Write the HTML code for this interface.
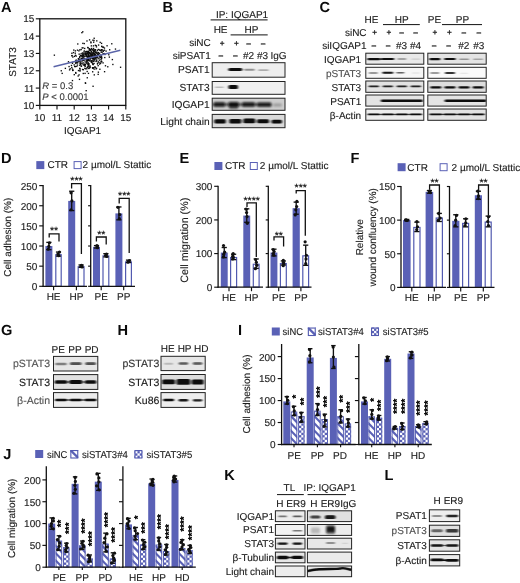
<!DOCTYPE html>
<html lang="en">
<head>
<meta charset="utf-8">
<title>Figure</title>
<style>
html,body{margin:0;padding:0;background:#fff;}
body{width:520px;height:583px;overflow:hidden;}
svg{display:block;font-family:"Liberation Sans",sans-serif;}
svg text{font-family:"Liberation Sans",sans-serif;stroke-width:0.13px;text-rendering:geometricPrecision;}
</style>
</head>
<body>
<svg width="520" height="583" viewBox="0 0 520 583">
<rect x="0" y="0" width="520" height="583" fill="#ffffff"/>
<defs>
<filter id="b1" x="-20%" y="-50%" width="140%" height="200%"><feGaussianBlur stdDeviation="0.9 0.6"/></filter>
<filter id="b2" x="-20%" y="-50%" width="140%" height="200%"><feGaussianBlur stdDeviation="1.3 0.9"/></filter>
</defs>
<text x="1.00" y="11.70" font-size="14.6" font-weight="bold" fill="#0a0a0a" stroke="#0a0a0a" style="stroke-width:0">A</text>
<rect x="85.9" y="54.6" width="1.35" height="1.35" fill="#0c0c0c"/>
<rect x="86.2" y="60.4" width="1.35" height="1.35" fill="#0c0c0c"/>
<rect x="80.1" y="61.4" width="1.35" height="1.35" fill="#0c0c0c"/>
<rect x="97.7" y="51.9" width="1.35" height="1.35" fill="#0c0c0c"/>
<rect x="97.0" y="53.3" width="1.35" height="1.35" fill="#0c0c0c"/>
<rect x="91.5" y="55.3" width="1.35" height="1.35" fill="#0c0c0c"/>
<rect x="73.8" y="55.7" width="1.35" height="1.35" fill="#0c0c0c"/>
<rect x="92.5" y="52.9" width="1.35" height="1.35" fill="#0c0c0c"/>
<rect x="73.6" y="74.0" width="1.35" height="1.35" fill="#0c0c0c"/>
<rect x="80.5" y="63.1" width="1.35" height="1.35" fill="#0c0c0c"/>
<rect x="90.7" y="57.2" width="1.35" height="1.35" fill="#0c0c0c"/>
<rect x="92.6" y="60.8" width="1.35" height="1.35" fill="#0c0c0c"/>
<rect x="90.8" y="54.1" width="1.35" height="1.35" fill="#0c0c0c"/>
<rect x="82.4" y="47.2" width="1.35" height="1.35" fill="#0c0c0c"/>
<rect x="92.9" y="47.8" width="1.35" height="1.35" fill="#0c0c0c"/>
<rect x="82.8" y="64.3" width="1.35" height="1.35" fill="#0c0c0c"/>
<rect x="85.2" y="59.2" width="1.35" height="1.35" fill="#0c0c0c"/>
<rect x="93.6" y="54.3" width="1.35" height="1.35" fill="#0c0c0c"/>
<rect x="84.3" y="65.4" width="1.35" height="1.35" fill="#0c0c0c"/>
<rect x="83.6" y="50.3" width="1.35" height="1.35" fill="#0c0c0c"/>
<rect x="81.2" y="57.9" width="1.35" height="1.35" fill="#0c0c0c"/>
<rect x="91.8" y="67.0" width="1.35" height="1.35" fill="#0c0c0c"/>
<rect x="88.5" y="48.3" width="1.35" height="1.35" fill="#0c0c0c"/>
<rect x="70.8" y="64.8" width="1.35" height="1.35" fill="#0c0c0c"/>
<rect x="87.2" y="63.6" width="1.35" height="1.35" fill="#0c0c0c"/>
<rect x="92.4" y="56.8" width="1.35" height="1.35" fill="#0c0c0c"/>
<rect x="75.5" y="55.4" width="1.35" height="1.35" fill="#0c0c0c"/>
<rect x="93.9" y="49.3" width="1.35" height="1.35" fill="#0c0c0c"/>
<rect x="100.5" y="51.5" width="1.35" height="1.35" fill="#0c0c0c"/>
<rect x="89.1" y="66.4" width="1.35" height="1.35" fill="#0c0c0c"/>
<rect x="93.4" y="60.4" width="1.35" height="1.35" fill="#0c0c0c"/>
<rect x="84.2" y="67.6" width="1.35" height="1.35" fill="#0c0c0c"/>
<rect x="79.8" y="63.7" width="1.35" height="1.35" fill="#0c0c0c"/>
<rect x="99.2" y="68.6" width="1.35" height="1.35" fill="#0c0c0c"/>
<rect x="75.6" y="59.5" width="1.35" height="1.35" fill="#0c0c0c"/>
<rect x="100.5" y="50.0" width="1.35" height="1.35" fill="#0c0c0c"/>
<rect x="71.8" y="79.9" width="1.35" height="1.35" fill="#0c0c0c"/>
<rect x="91.2" y="61.9" width="1.35" height="1.35" fill="#0c0c0c"/>
<rect x="78.5" y="53.5" width="1.35" height="1.35" fill="#0c0c0c"/>
<rect x="97.6" y="53.8" width="1.35" height="1.35" fill="#0c0c0c"/>
<rect x="90.2" y="53.9" width="1.35" height="1.35" fill="#0c0c0c"/>
<rect x="101.8" y="49.3" width="1.35" height="1.35" fill="#0c0c0c"/>
<rect x="92.6" y="52.5" width="1.35" height="1.35" fill="#0c0c0c"/>
<rect x="74.6" y="52.5" width="1.35" height="1.35" fill="#0c0c0c"/>
<rect x="96.3" y="51.5" width="1.35" height="1.35" fill="#0c0c0c"/>
<rect x="71.1" y="66.9" width="1.35" height="1.35" fill="#0c0c0c"/>
<rect x="95.4" y="68.2" width="1.35" height="1.35" fill="#0c0c0c"/>
<rect x="86.5" y="50.9" width="1.35" height="1.35" fill="#0c0c0c"/>
<rect x="76.8" y="49.5" width="1.35" height="1.35" fill="#0c0c0c"/>
<rect x="92.9" y="57.3" width="1.35" height="1.35" fill="#0c0c0c"/>
<rect x="90.9" y="52.2" width="1.35" height="1.35" fill="#0c0c0c"/>
<rect x="89.2" y="49.3" width="1.35" height="1.35" fill="#0c0c0c"/>
<rect x="82.4" y="62.1" width="1.35" height="1.35" fill="#0c0c0c"/>
<rect x="97.1" y="54.8" width="1.35" height="1.35" fill="#0c0c0c"/>
<rect x="80.5" y="53.1" width="1.35" height="1.35" fill="#0c0c0c"/>
<rect x="100.7" y="57.1" width="1.35" height="1.35" fill="#0c0c0c"/>
<rect x="76.3" y="61.9" width="1.35" height="1.35" fill="#0c0c0c"/>
<rect x="86.8" y="60.0" width="1.35" height="1.35" fill="#0c0c0c"/>
<rect x="100.2" y="61.3" width="1.35" height="1.35" fill="#0c0c0c"/>
<rect x="99.0" y="63.4" width="1.35" height="1.35" fill="#0c0c0c"/>
<rect x="81.4" y="55.1" width="1.35" height="1.35" fill="#0c0c0c"/>
<rect x="97.8" y="48.8" width="1.35" height="1.35" fill="#0c0c0c"/>
<rect x="91.1" y="55.7" width="1.35" height="1.35" fill="#0c0c0c"/>
<rect x="89.4" y="53.2" width="1.35" height="1.35" fill="#0c0c0c"/>
<rect x="86.6" y="56.1" width="1.35" height="1.35" fill="#0c0c0c"/>
<rect x="93.0" y="56.2" width="1.35" height="1.35" fill="#0c0c0c"/>
<rect x="94.7" y="51.8" width="1.35" height="1.35" fill="#0c0c0c"/>
<rect x="105.4" y="50.4" width="1.35" height="1.35" fill="#0c0c0c"/>
<rect x="84.4" y="61.2" width="1.35" height="1.35" fill="#0c0c0c"/>
<rect x="88.0" y="51.2" width="1.35" height="1.35" fill="#0c0c0c"/>
<rect x="85.2" y="55.7" width="1.35" height="1.35" fill="#0c0c0c"/>
<rect x="103.9" y="71.0" width="1.35" height="1.35" fill="#0c0c0c"/>
<rect x="78.5" y="58.6" width="1.35" height="1.35" fill="#0c0c0c"/>
<rect x="91.5" y="54.9" width="1.35" height="1.35" fill="#0c0c0c"/>
<rect x="84.4" y="54.1" width="1.35" height="1.35" fill="#0c0c0c"/>
<rect x="90.5" y="60.6" width="1.35" height="1.35" fill="#0c0c0c"/>
<rect x="109.0" y="49.1" width="1.35" height="1.35" fill="#0c0c0c"/>
<rect x="83.4" y="59.6" width="1.35" height="1.35" fill="#0c0c0c"/>
<rect x="86.2" y="58.6" width="1.35" height="1.35" fill="#0c0c0c"/>
<rect x="64.7" y="67.7" width="1.35" height="1.35" fill="#0c0c0c"/>
<rect x="96.8" y="63.3" width="1.35" height="1.35" fill="#0c0c0c"/>
<rect x="87.5" y="51.1" width="1.35" height="1.35" fill="#0c0c0c"/>
<rect x="95.5" y="45.0" width="1.35" height="1.35" fill="#0c0c0c"/>
<rect x="73.5" y="64.2" width="1.35" height="1.35" fill="#0c0c0c"/>
<rect x="85.2" y="54.1" width="1.35" height="1.35" fill="#0c0c0c"/>
<rect x="97.5" y="73.7" width="1.35" height="1.35" fill="#0c0c0c"/>
<rect x="97.5" y="65.0" width="1.35" height="1.35" fill="#0c0c0c"/>
<rect x="94.0" y="66.4" width="1.35" height="1.35" fill="#0c0c0c"/>
<rect x="89.6" y="48.8" width="1.35" height="1.35" fill="#0c0c0c"/>
<rect x="86.8" y="56.6" width="1.35" height="1.35" fill="#0c0c0c"/>
<rect x="95.0" y="54.6" width="1.35" height="1.35" fill="#0c0c0c"/>
<rect x="87.4" y="47.1" width="1.35" height="1.35" fill="#0c0c0c"/>
<rect x="97.1" y="57.1" width="1.35" height="1.35" fill="#0c0c0c"/>
<rect x="111.7" y="58.9" width="1.35" height="1.35" fill="#0c0c0c"/>
<rect x="96.0" y="57.2" width="1.35" height="1.35" fill="#0c0c0c"/>
<rect x="89.3" y="52.3" width="1.35" height="1.35" fill="#0c0c0c"/>
<rect x="90.0" y="52.6" width="1.35" height="1.35" fill="#0c0c0c"/>
<rect x="75.0" y="71.9" width="1.35" height="1.35" fill="#0c0c0c"/>
<rect x="93.4" y="62.8" width="1.35" height="1.35" fill="#0c0c0c"/>
<rect x="79.3" y="70.4" width="1.35" height="1.35" fill="#0c0c0c"/>
<rect x="99.0" y="49.3" width="1.35" height="1.35" fill="#0c0c0c"/>
<rect x="100.8" y="60.5" width="1.35" height="1.35" fill="#0c0c0c"/>
<rect x="88.1" y="65.6" width="1.35" height="1.35" fill="#0c0c0c"/>
<rect x="94.7" y="44.6" width="1.35" height="1.35" fill="#0c0c0c"/>
<rect x="80.5" y="48.9" width="1.35" height="1.35" fill="#0c0c0c"/>
<rect x="96.6" y="56.4" width="1.35" height="1.35" fill="#0c0c0c"/>
<rect x="71.2" y="52.6" width="1.35" height="1.35" fill="#0c0c0c"/>
<rect x="87.3" y="62.0" width="1.35" height="1.35" fill="#0c0c0c"/>
<rect x="91.6" y="53.7" width="1.35" height="1.35" fill="#0c0c0c"/>
<rect x="101.0" y="61.0" width="1.35" height="1.35" fill="#0c0c0c"/>
<rect x="97.9" y="44.4" width="1.35" height="1.35" fill="#0c0c0c"/>
<rect x="100.6" y="55.3" width="1.35" height="1.35" fill="#0c0c0c"/>
<rect x="81.7" y="52.3" width="1.35" height="1.35" fill="#0c0c0c"/>
<rect x="89.1" y="56.4" width="1.35" height="1.35" fill="#0c0c0c"/>
<rect x="100.4" y="55.9" width="1.35" height="1.35" fill="#0c0c0c"/>
<rect x="68.4" y="65.9" width="1.35" height="1.35" fill="#0c0c0c"/>
<rect x="72.2" y="56.4" width="1.35" height="1.35" fill="#0c0c0c"/>
<rect x="90.8" y="61.1" width="1.35" height="1.35" fill="#0c0c0c"/>
<rect x="88.0" y="51.8" width="1.35" height="1.35" fill="#0c0c0c"/>
<rect x="88.8" y="48.1" width="1.35" height="1.35" fill="#0c0c0c"/>
<rect x="87.6" y="50.5" width="1.35" height="1.35" fill="#0c0c0c"/>
<rect x="100.9" y="42.7" width="1.35" height="1.35" fill="#0c0c0c"/>
<rect x="82.3" y="53.1" width="1.35" height="1.35" fill="#0c0c0c"/>
<rect x="72.0" y="69.8" width="1.35" height="1.35" fill="#0c0c0c"/>
<rect x="71.2" y="54.9" width="1.35" height="1.35" fill="#0c0c0c"/>
<rect x="77.5" y="60.7" width="1.35" height="1.35" fill="#0c0c0c"/>
<rect x="86.5" y="58.3" width="1.35" height="1.35" fill="#0c0c0c"/>
<rect x="83.0" y="57.4" width="1.35" height="1.35" fill="#0c0c0c"/>
<rect x="103.5" y="52.9" width="1.35" height="1.35" fill="#0c0c0c"/>
<rect x="92.7" y="49.3" width="1.35" height="1.35" fill="#0c0c0c"/>
<rect x="86.4" y="66.9" width="1.35" height="1.35" fill="#0c0c0c"/>
<rect x="83.3" y="51.4" width="1.35" height="1.35" fill="#0c0c0c"/>
<rect x="74.0" y="65.8" width="1.35" height="1.35" fill="#0c0c0c"/>
<rect x="96.8" y="49.6" width="1.35" height="1.35" fill="#0c0c0c"/>
<rect x="88.2" y="51.9" width="1.35" height="1.35" fill="#0c0c0c"/>
<rect x="89.5" y="65.4" width="1.35" height="1.35" fill="#0c0c0c"/>
<rect x="74.7" y="65.9" width="1.35" height="1.35" fill="#0c0c0c"/>
<rect x="96.1" y="59.3" width="1.35" height="1.35" fill="#0c0c0c"/>
<rect x="80.4" y="65.2" width="1.35" height="1.35" fill="#0c0c0c"/>
<rect x="74.9" y="62.2" width="1.35" height="1.35" fill="#0c0c0c"/>
<rect x="78.0" y="57.9" width="1.35" height="1.35" fill="#0c0c0c"/>
<rect x="67.8" y="61.1" width="1.35" height="1.35" fill="#0c0c0c"/>
<rect x="82.6" y="72.8" width="1.35" height="1.35" fill="#0c0c0c"/>
<rect x="94.4" y="57.7" width="1.35" height="1.35" fill="#0c0c0c"/>
<rect x="68.9" y="69.2" width="1.35" height="1.35" fill="#0c0c0c"/>
<rect x="90.6" y="60.1" width="1.35" height="1.35" fill="#0c0c0c"/>
<rect x="94.8" y="50.4" width="1.35" height="1.35" fill="#0c0c0c"/>
<rect x="93.8" y="53.7" width="1.35" height="1.35" fill="#0c0c0c"/>
<rect x="99.6" y="49.7" width="1.35" height="1.35" fill="#0c0c0c"/>
<rect x="92.0" y="71.1" width="1.35" height="1.35" fill="#0c0c0c"/>
<rect x="95.8" y="46.2" width="1.35" height="1.35" fill="#0c0c0c"/>
<rect x="85.6" y="61.6" width="1.35" height="1.35" fill="#0c0c0c"/>
<rect x="104.8" y="65.1" width="1.35" height="1.35" fill="#0c0c0c"/>
<rect x="92.2" y="39.5" width="1.35" height="1.35" fill="#0c0c0c"/>
<rect x="80.1" y="55.0" width="1.35" height="1.35" fill="#0c0c0c"/>
<rect x="104.3" y="53.8" width="1.35" height="1.35" fill="#0c0c0c"/>
<rect x="92.9" y="49.9" width="1.35" height="1.35" fill="#0c0c0c"/>
<rect x="80.3" y="60.4" width="1.35" height="1.35" fill="#0c0c0c"/>
<rect x="90.6" y="51.1" width="1.35" height="1.35" fill="#0c0c0c"/>
<rect x="87.8" y="59.0" width="1.35" height="1.35" fill="#0c0c0c"/>
<rect x="79.4" y="62.6" width="1.35" height="1.35" fill="#0c0c0c"/>
<rect x="95.8" y="54.7" width="1.35" height="1.35" fill="#0c0c0c"/>
<rect x="80.8" y="65.6" width="1.35" height="1.35" fill="#0c0c0c"/>
<rect x="111.1" y="43.1" width="1.35" height="1.35" fill="#0c0c0c"/>
<rect x="93.6" y="74.2" width="1.35" height="1.35" fill="#0c0c0c"/>
<rect x="93.5" y="52.7" width="1.35" height="1.35" fill="#0c0c0c"/>
<rect x="102.6" y="50.5" width="1.35" height="1.35" fill="#0c0c0c"/>
<rect x="87.5" y="54.1" width="1.35" height="1.35" fill="#0c0c0c"/>
<rect x="71.4" y="55.1" width="1.35" height="1.35" fill="#0c0c0c"/>
<rect x="90.9" y="61.7" width="1.35" height="1.35" fill="#0c0c0c"/>
<rect x="99.5" y="41.7" width="1.35" height="1.35" fill="#0c0c0c"/>
<rect x="76.1" y="65.7" width="1.35" height="1.35" fill="#0c0c0c"/>
<rect x="90.6" y="55.6" width="1.35" height="1.35" fill="#0c0c0c"/>
<rect x="84.7" y="65.4" width="1.35" height="1.35" fill="#0c0c0c"/>
<rect x="106.4" y="45.1" width="1.35" height="1.35" fill="#0c0c0c"/>
<rect x="77.8" y="69.9" width="1.35" height="1.35" fill="#0c0c0c"/>
<rect x="102.8" y="46.5" width="1.35" height="1.35" fill="#0c0c0c"/>
<rect x="103.8" y="47.4" width="1.35" height="1.35" fill="#0c0c0c"/>
<rect x="80.6" y="57.9" width="1.35" height="1.35" fill="#0c0c0c"/>
<rect x="69.5" y="68.1" width="1.35" height="1.35" fill="#0c0c0c"/>
<rect x="87.6" y="54.1" width="1.35" height="1.35" fill="#0c0c0c"/>
<rect x="81.9" y="60.2" width="1.35" height="1.35" fill="#0c0c0c"/>
<rect x="92.1" y="53.8" width="1.35" height="1.35" fill="#0c0c0c"/>
<rect x="93.6" y="54.6" width="1.35" height="1.35" fill="#0c0c0c"/>
<rect x="85.3" y="52.9" width="1.35" height="1.35" fill="#0c0c0c"/>
<rect x="88.5" y="63.3" width="1.35" height="1.35" fill="#0c0c0c"/>
<rect x="82.7" y="59.1" width="1.35" height="1.35" fill="#0c0c0c"/>
<rect x="87.2" y="56.8" width="1.35" height="1.35" fill="#0c0c0c"/>
<rect x="88.1" y="56.4" width="1.35" height="1.35" fill="#0c0c0c"/>
<rect x="87.0" y="66.7" width="1.35" height="1.35" fill="#0c0c0c"/>
<rect x="91.7" y="49.2" width="1.35" height="1.35" fill="#0c0c0c"/>
<rect x="91.9" y="57.8" width="1.35" height="1.35" fill="#0c0c0c"/>
<rect x="92.0" y="63.3" width="1.35" height="1.35" fill="#0c0c0c"/>
<rect x="71.8" y="61.8" width="1.35" height="1.35" fill="#0c0c0c"/>
<rect x="80.1" y="54.7" width="1.35" height="1.35" fill="#0c0c0c"/>
<rect x="78.8" y="78.7" width="1.35" height="1.35" fill="#0c0c0c"/>
<rect x="79.2" y="49.1" width="1.35" height="1.35" fill="#0c0c0c"/>
<rect x="84.8" y="68.1" width="1.35" height="1.35" fill="#0c0c0c"/>
<rect x="81.6" y="55.8" width="1.35" height="1.35" fill="#0c0c0c"/>
<rect x="92.4" y="55.1" width="1.35" height="1.35" fill="#0c0c0c"/>
<rect x="100.9" y="49.0" width="1.35" height="1.35" fill="#0c0c0c"/>
<rect x="87.9" y="53.5" width="1.35" height="1.35" fill="#0c0c0c"/>
<rect x="102.3" y="46.7" width="1.35" height="1.35" fill="#0c0c0c"/>
<rect x="96.9" y="62.7" width="1.35" height="1.35" fill="#0c0c0c"/>
<rect x="86.8" y="52.8" width="1.35" height="1.35" fill="#0c0c0c"/>
<rect x="85.6" y="50.8" width="1.35" height="1.35" fill="#0c0c0c"/>
<rect x="93.2" y="49.8" width="1.35" height="1.35" fill="#0c0c0c"/>
<rect x="86.3" y="40.3" width="1.35" height="1.35" fill="#0c0c0c"/>
<rect x="98.8" y="56.1" width="1.35" height="1.35" fill="#0c0c0c"/>
<rect x="88.9" y="39.2" width="1.35" height="1.35" fill="#0c0c0c"/>
<rect x="85.2" y="52.3" width="1.35" height="1.35" fill="#0c0c0c"/>
<rect x="96.6" y="55.1" width="1.35" height="1.35" fill="#0c0c0c"/>
<rect x="78.1" y="59.1" width="1.35" height="1.35" fill="#0c0c0c"/>
<rect x="91.2" y="48.8" width="1.35" height="1.35" fill="#0c0c0c"/>
<rect x="94.9" y="55.5" width="1.35" height="1.35" fill="#0c0c0c"/>
<rect x="95.5" y="51.7" width="1.35" height="1.35" fill="#0c0c0c"/>
<rect x="89.9" y="56.7" width="1.35" height="1.35" fill="#0c0c0c"/>
<rect x="86.0" y="53.4" width="1.35" height="1.35" fill="#0c0c0c"/>
<rect x="79.1" y="64.6" width="1.35" height="1.35" fill="#0c0c0c"/>
<rect x="88.2" y="67.8" width="1.35" height="1.35" fill="#0c0c0c"/>
<rect x="84.4" y="72.7" width="1.35" height="1.35" fill="#0c0c0c"/>
<rect x="82.2" y="55.3" width="1.35" height="1.35" fill="#0c0c0c"/>
<rect x="93.0" y="56.6" width="1.35" height="1.35" fill="#0c0c0c"/>
<rect x="86.1" y="68.1" width="1.35" height="1.35" fill="#0c0c0c"/>
<rect x="103.8" y="49.5" width="1.35" height="1.35" fill="#0c0c0c"/>
<rect x="97.5" y="61.1" width="1.35" height="1.35" fill="#0c0c0c"/>
<rect x="86.5" y="70.8" width="1.35" height="1.35" fill="#0c0c0c"/>
<rect x="94.8" y="49.1" width="1.35" height="1.35" fill="#0c0c0c"/>
<rect x="71.8" y="62.6" width="1.35" height="1.35" fill="#0c0c0c"/>
<rect x="93.5" y="68.4" width="1.35" height="1.35" fill="#0c0c0c"/>
<rect x="72.4" y="69.5" width="1.35" height="1.35" fill="#0c0c0c"/>
<rect x="82.7" y="69.0" width="1.35" height="1.35" fill="#0c0c0c"/>
<rect x="88.4" y="55.8" width="1.35" height="1.35" fill="#0c0c0c"/>
<rect x="93.6" y="51.1" width="1.35" height="1.35" fill="#0c0c0c"/>
<rect x="101.0" y="45.7" width="1.35" height="1.35" fill="#0c0c0c"/>
<rect x="76.8" y="64.4" width="1.35" height="1.35" fill="#0c0c0c"/>
<rect x="79.0" y="67.7" width="1.35" height="1.35" fill="#0c0c0c"/>
<rect x="87.4" y="57.8" width="1.35" height="1.35" fill="#0c0c0c"/>
<rect x="92.3" y="67.5" width="1.35" height="1.35" fill="#0c0c0c"/>
<rect x="77.5" y="60.8" width="1.35" height="1.35" fill="#0c0c0c"/>
<rect x="86.4" y="60.3" width="1.35" height="1.35" fill="#0c0c0c"/>
<rect x="87.6" y="63.1" width="1.35" height="1.35" fill="#0c0c0c"/>
<rect x="94.2" y="53.4" width="1.35" height="1.35" fill="#0c0c0c"/>
<rect x="87.4" y="62.5" width="1.35" height="1.35" fill="#0c0c0c"/>
<rect x="86.6" y="77.1" width="1.35" height="1.35" fill="#0c0c0c"/>
<rect x="79.7" y="59.7" width="1.35" height="1.35" fill="#0c0c0c"/>
<rect x="75.2" y="59.9" width="1.35" height="1.35" fill="#0c0c0c"/>
<rect x="89.4" y="66.9" width="1.35" height="1.35" fill="#0c0c0c"/>
<rect x="86.0" y="60.4" width="1.35" height="1.35" fill="#0c0c0c"/>
<rect x="92.1" y="52.2" width="1.35" height="1.35" fill="#0c0c0c"/>
<rect x="87.8" y="63.6" width="1.35" height="1.35" fill="#0c0c0c"/>
<rect x="86.9" y="58.4" width="1.35" height="1.35" fill="#0c0c0c"/>
<rect x="94.4" y="53.7" width="1.35" height="1.35" fill="#0c0c0c"/>
<rect x="81.9" y="68.8" width="1.35" height="1.35" fill="#0c0c0c"/>
<rect x="84.9" y="63.7" width="1.35" height="1.35" fill="#0c0c0c"/>
<rect x="78.6" y="61.1" width="1.35" height="1.35" fill="#0c0c0c"/>
<rect x="83.9" y="58.1" width="1.35" height="1.35" fill="#0c0c0c"/>
<rect x="92.6" y="59.2" width="1.35" height="1.35" fill="#0c0c0c"/>
<rect x="108.1" y="54.1" width="1.35" height="1.35" fill="#0c0c0c"/>
<rect x="97.6" y="54.0" width="1.35" height="1.35" fill="#0c0c0c"/>
<rect x="97.7" y="71.5" width="1.35" height="1.35" fill="#0c0c0c"/>
<rect x="81.7" y="57.7" width="1.35" height="1.35" fill="#0c0c0c"/>
<rect x="93.3" y="39.8" width="1.35" height="1.35" fill="#0c0c0c"/>
<rect x="90.9" y="47.8" width="1.35" height="1.35" fill="#0c0c0c"/>
<rect x="94.7" y="49.1" width="1.35" height="1.35" fill="#0c0c0c"/>
<rect x="92.5" y="57.4" width="1.35" height="1.35" fill="#0c0c0c"/>
<rect x="92.5" y="63.9" width="1.35" height="1.35" fill="#0c0c0c"/>
<rect x="98.3" y="61.8" width="1.35" height="1.35" fill="#0c0c0c"/>
<rect x="90.3" y="42.1" width="1.35" height="1.35" fill="#0c0c0c"/>
<rect x="86.2" y="58.0" width="1.35" height="1.35" fill="#0c0c0c"/>
<rect x="98.1" y="54.5" width="1.35" height="1.35" fill="#0c0c0c"/>
<rect x="81.2" y="57.8" width="1.35" height="1.35" fill="#0c0c0c"/>
<rect x="93.1" y="51.2" width="1.35" height="1.35" fill="#0c0c0c"/>
<rect x="81.5" y="47.2" width="1.35" height="1.35" fill="#0c0c0c"/>
<rect x="102.5" y="53.4" width="1.35" height="1.35" fill="#0c0c0c"/>
<rect x="90.4" y="59.9" width="1.35" height="1.35" fill="#0c0c0c"/>
<rect x="100.3" y="59.0" width="1.35" height="1.35" fill="#0c0c0c"/>
<rect x="93.9" y="59.3" width="1.35" height="1.35" fill="#0c0c0c"/>
<rect x="82.2" y="54.3" width="1.35" height="1.35" fill="#0c0c0c"/>
<rect x="99.6" y="54.4" width="1.35" height="1.35" fill="#0c0c0c"/>
<rect x="82.3" y="53.6" width="1.35" height="1.35" fill="#0c0c0c"/>
<rect x="87.7" y="55.5" width="1.35" height="1.35" fill="#0c0c0c"/>
<rect x="101.2" y="45.9" width="1.35" height="1.35" fill="#0c0c0c"/>
<rect x="83.6" y="42.9" width="1.35" height="1.35" fill="#0c0c0c"/>
<rect x="88.1" y="52.1" width="1.35" height="1.35" fill="#0c0c0c"/>
<rect x="82.6" y="59.5" width="1.35" height="1.35" fill="#0c0c0c"/>
<rect x="73.1" y="49.4" width="1.35" height="1.35" fill="#0c0c0c"/>
<rect x="99.9" y="62.7" width="1.35" height="1.35" fill="#0c0c0c"/>
<rect x="75.2" y="72.6" width="1.35" height="1.35" fill="#0c0c0c"/>
<rect x="98.2" y="57.9" width="1.35" height="1.35" fill="#0c0c0c"/>
<rect x="87.6" y="59.9" width="1.35" height="1.35" fill="#0c0c0c"/>
<rect x="87.1" y="65.5" width="1.35" height="1.35" fill="#0c0c0c"/>
<rect x="88.3" y="67.6" width="1.35" height="1.35" fill="#0c0c0c"/>
<rect x="87.5" y="55.6" width="1.35" height="1.35" fill="#0c0c0c"/>
<rect x="92.1" y="58.1" width="1.35" height="1.35" fill="#0c0c0c"/>
<rect x="80.3" y="58.7" width="1.35" height="1.35" fill="#0c0c0c"/>
<rect x="84.0" y="47.8" width="1.35" height="1.35" fill="#0c0c0c"/>
<rect x="94.7" y="56.5" width="1.35" height="1.35" fill="#0c0c0c"/>
<rect x="84.1" y="63.7" width="1.35" height="1.35" fill="#0c0c0c"/>
<rect x="80.1" y="62.4" width="1.35" height="1.35" fill="#0c0c0c"/>
<rect x="90.7" y="53.3" width="1.35" height="1.35" fill="#0c0c0c"/>
<rect x="93.0" y="41.5" width="1.35" height="1.35" fill="#0c0c0c"/>
<rect x="82.1" y="59.2" width="1.35" height="1.35" fill="#0c0c0c"/>
<rect x="112.2" y="63.8" width="1.35" height="1.35" fill="#0c0c0c"/>
<rect x="83.6" y="57.7" width="1.35" height="1.35" fill="#0c0c0c"/>
<rect x="89.4" y="54.4" width="1.35" height="1.35" fill="#0c0c0c"/>
<rect x="86.1" y="55.6" width="1.35" height="1.35" fill="#0c0c0c"/>
<rect x="88.6" y="52.1" width="1.35" height="1.35" fill="#0c0c0c"/>
<rect x="71.8" y="68.4" width="1.35" height="1.35" fill="#0c0c0c"/>
<rect x="88.1" y="64.8" width="1.35" height="1.35" fill="#0c0c0c"/>
<rect x="79.1" y="55.8" width="1.35" height="1.35" fill="#0c0c0c"/>
<rect x="82.5" y="54.7" width="1.35" height="1.35" fill="#0c0c0c"/>
<rect x="94.5" y="53.6" width="1.35" height="1.35" fill="#0c0c0c"/>
<rect x="92.5" y="57.1" width="1.35" height="1.35" fill="#0c0c0c"/>
<rect x="76.0" y="61.3" width="1.35" height="1.35" fill="#0c0c0c"/>
<rect x="92.0" y="60.2" width="1.35" height="1.35" fill="#0c0c0c"/>
<rect x="87.3" y="52.6" width="1.35" height="1.35" fill="#0c0c0c"/>
<rect x="80.6" y="55.3" width="1.35" height="1.35" fill="#0c0c0c"/>
<rect x="104.1" y="56.9" width="1.35" height="1.35" fill="#0c0c0c"/>
<rect x="89.4" y="58.3" width="1.35" height="1.35" fill="#0c0c0c"/>
<rect x="101.4" y="51.6" width="1.35" height="1.35" fill="#0c0c0c"/>
<rect x="95.8" y="60.2" width="1.35" height="1.35" fill="#0c0c0c"/>
<rect x="88.0" y="57.7" width="1.35" height="1.35" fill="#0c0c0c"/>
<rect x="72.8" y="51.9" width="1.35" height="1.35" fill="#0c0c0c"/>
<rect x="95.9" y="67.6" width="1.35" height="1.35" fill="#0c0c0c"/>
<rect x="94.5" y="56.7" width="1.35" height="1.35" fill="#0c0c0c"/>
<rect x="92.0" y="53.9" width="1.35" height="1.35" fill="#0c0c0c"/>
<rect x="75.2" y="62.8" width="1.35" height="1.35" fill="#0c0c0c"/>
<rect x="101.0" y="57.9" width="1.35" height="1.35" fill="#0c0c0c"/>
<rect x="79.3" y="69.6" width="1.35" height="1.35" fill="#0c0c0c"/>
<rect x="77.6" y="58.2" width="1.35" height="1.35" fill="#0c0c0c"/>
<rect x="102.7" y="50.4" width="1.35" height="1.35" fill="#0c0c0c"/>
<rect x="90.2" y="41.3" width="1.35" height="1.35" fill="#0c0c0c"/>
<rect x="83.7" y="63.6" width="1.35" height="1.35" fill="#0c0c0c"/>
<rect x="92.7" y="52.5" width="1.35" height="1.35" fill="#0c0c0c"/>
<rect x="79.4" y="68.3" width="1.35" height="1.35" fill="#0c0c0c"/>
<rect x="90.6" y="55.1" width="1.35" height="1.35" fill="#0c0c0c"/>
<rect x="76.9" y="62.2" width="1.35" height="1.35" fill="#0c0c0c"/>
<rect x="83.5" y="55.7" width="1.35" height="1.35" fill="#0c0c0c"/>
<rect x="87.1" y="58.5" width="1.35" height="1.35" fill="#0c0c0c"/>
<rect x="85.1" y="51.1" width="1.35" height="1.35" fill="#0c0c0c"/>
<rect x="100.1" y="56.7" width="1.35" height="1.35" fill="#0c0c0c"/>
<rect x="95.4" y="60.8" width="1.35" height="1.35" fill="#0c0c0c"/>
<rect x="88.7" y="52.2" width="1.35" height="1.35" fill="#0c0c0c"/>
<rect x="101.1" y="56.5" width="1.35" height="1.35" fill="#0c0c0c"/>
<rect x="87.5" y="56.4" width="1.35" height="1.35" fill="#0c0c0c"/>
<rect x="75.2" y="61.2" width="1.35" height="1.35" fill="#0c0c0c"/>
<rect x="82.3" y="56.7" width="1.35" height="1.35" fill="#0c0c0c"/>
<rect x="78.4" y="74.2" width="1.35" height="1.35" fill="#0c0c0c"/>
<rect x="88.4" y="55.7" width="1.35" height="1.35" fill="#0c0c0c"/>
<rect x="83.4" y="52.7" width="1.35" height="1.35" fill="#0c0c0c"/>
<rect x="85.8" y="62.5" width="1.35" height="1.35" fill="#0c0c0c"/>
<rect x="92.2" y="67.4" width="1.35" height="1.35" fill="#0c0c0c"/>
<rect x="82.3" y="59.4" width="1.35" height="1.35" fill="#0c0c0c"/>
<rect x="95.4" y="56.6" width="1.35" height="1.35" fill="#0c0c0c"/>
<rect x="90.8" y="61.4" width="1.35" height="1.35" fill="#0c0c0c"/>
<rect x="90.7" y="45.2" width="1.35" height="1.35" fill="#0c0c0c"/>
<rect x="82.2" y="42.7" width="1.35" height="1.35" fill="#0c0c0c"/>
<rect x="82.6" y="59.1" width="1.35" height="1.35" fill="#0c0c0c"/>
<rect x="89.6" y="50.0" width="1.35" height="1.35" fill="#0c0c0c"/>
<rect x="77.5" y="75.3" width="1.35" height="1.35" fill="#0c0c0c"/>
<rect x="93.3" y="50.5" width="1.35" height="1.35" fill="#0c0c0c"/>
<rect x="93.5" y="37.6" width="1.35" height="1.35" fill="#0c0c0c"/>
<rect x="89.9" y="55.3" width="1.35" height="1.35" fill="#0c0c0c"/>
<rect x="96.1" y="52.7" width="1.35" height="1.35" fill="#0c0c0c"/>
<rect x="102.4" y="62.2" width="1.35" height="1.35" fill="#0c0c0c"/>
<rect x="84.9" y="82.6" width="1.35" height="1.35" fill="#0c0c0c"/>
<rect x="95.1" y="58.2" width="1.35" height="1.35" fill="#0c0c0c"/>
<rect x="96.1" y="40.2" width="1.35" height="1.35" fill="#0c0c0c"/>
<rect x="88.1" y="59.4" width="1.35" height="1.35" fill="#0c0c0c"/>
<rect x="83.8" y="64.7" width="1.35" height="1.35" fill="#0c0c0c"/>
<rect x="82.7" y="54.7" width="1.35" height="1.35" fill="#0c0c0c"/>
<rect x="88.4" y="57.0" width="1.35" height="1.35" fill="#0c0c0c"/>
<rect x="86.6" y="51.6" width="1.35" height="1.35" fill="#0c0c0c"/>
<rect x="92.4" y="57.4" width="1.35" height="1.35" fill="#0c0c0c"/>
<rect x="93.8" y="57.0" width="1.35" height="1.35" fill="#0c0c0c"/>
<rect x="78.2" y="50.2" width="1.35" height="1.35" fill="#0c0c0c"/>
<rect x="92.1" y="63.1" width="1.35" height="1.35" fill="#0c0c0c"/>
<rect x="97.4" y="52.5" width="1.35" height="1.35" fill="#0c0c0c"/>
<rect x="74.7" y="50.2" width="1.35" height="1.35" fill="#0c0c0c"/>
<rect x="91.0" y="50.5" width="1.35" height="1.35" fill="#0c0c0c"/>
<rect x="89.8" y="58.2" width="1.35" height="1.35" fill="#0c0c0c"/>
<rect x="74.8" y="54.6" width="1.35" height="1.35" fill="#0c0c0c"/>
<rect x="88.4" y="59.5" width="1.35" height="1.35" fill="#0c0c0c"/>
<rect x="91.1" y="56.2" width="1.35" height="1.35" fill="#0c0c0c"/>
<rect x="93.9" y="58.5" width="1.35" height="1.35" fill="#0c0c0c"/>
<rect x="87.8" y="72.7" width="1.35" height="1.35" fill="#0c0c0c"/>
<rect x="84.5" y="53.9" width="1.35" height="1.35" fill="#0c0c0c"/>
<rect x="99.6" y="56.9" width="1.35" height="1.35" fill="#0c0c0c"/>
<rect x="87.1" y="46.8" width="1.35" height="1.35" fill="#0c0c0c"/>
<rect x="85.3" y="53.3" width="1.35" height="1.35" fill="#0c0c0c"/>
<rect x="102.6" y="53.2" width="1.35" height="1.35" fill="#0c0c0c"/>
<rect x="98.7" y="59.5" width="1.35" height="1.35" fill="#0c0c0c"/>
<rect x="89.9" y="57.6" width="1.35" height="1.35" fill="#0c0c0c"/>
<rect x="89.1" y="49.4" width="1.35" height="1.35" fill="#0c0c0c"/>
<rect x="108.7" y="56.4" width="1.35" height="1.35" fill="#0c0c0c"/>
<rect x="83.2" y="55.5" width="1.35" height="1.35" fill="#0c0c0c"/>
<rect x="79.0" y="56.7" width="1.35" height="1.35" fill="#0c0c0c"/>
<rect x="93.0" y="58.1" width="1.35" height="1.35" fill="#0c0c0c"/>
<rect x="92.7" y="67.1" width="1.35" height="1.35" fill="#0c0c0c"/>
<rect x="94.7" y="66.5" width="1.35" height="1.35" fill="#0c0c0c"/>
<rect x="82.1" y="63.2" width="1.35" height="1.35" fill="#0c0c0c"/>
<rect x="84.7" y="52.6" width="1.35" height="1.35" fill="#0c0c0c"/>
<rect x="88.8" y="60.2" width="1.35" height="1.35" fill="#0c0c0c"/>
<rect x="92.8" y="45.2" width="1.35" height="1.35" fill="#0c0c0c"/>
<rect x="88.2" y="55.0" width="1.35" height="1.35" fill="#0c0c0c"/>
<rect x="98.8" y="52.7" width="1.35" height="1.35" fill="#0c0c0c"/>
<rect x="77.1" y="43.3" width="1.35" height="1.35" fill="#0c0c0c"/>
<rect x="107.1" y="66.1" width="1.35" height="1.35" fill="#0c0c0c"/>
<rect x="87.8" y="54.8" width="1.35" height="1.35" fill="#0c0c0c"/>
<rect x="53.7" y="54.5" width="1.35" height="1.35" fill="#0c0c0c"/>
<rect x="119.9" y="66.6" width="1.35" height="1.35" fill="#0c0c0c"/>
<rect x="81.2" y="32.0" width="1.35" height="1.35" fill="#0c0c0c"/>
<rect x="82.1" y="31.1" width="1.35" height="1.35" fill="#0c0c0c"/>
<rect x="92.4" y="85.6" width="1.35" height="1.35" fill="#0c0c0c"/>
<rect x="85.5" y="90.0" width="1.35" height="1.35" fill="#0c0c0c"/>
<rect x="84.7" y="82.2" width="1.35" height="1.35" fill="#0c0c0c"/>
<rect x="114.8" y="48.4" width="1.35" height="1.35" fill="#0c0c0c"/>
<rect x="61.5" y="72.7" width="1.35" height="1.35" fill="#0c0c0c"/>
<rect x="60.6" y="70.1" width="1.35" height="1.35" fill="#0c0c0c"/>
<line x1="53.56" y1="66.78" x2="120.30" y2="50.32" stroke="#5a64a8" stroke-width="1.5" stroke-linecap="butt"/>
<rect x="39.80" y="18.80" width="86.00" height="86.60" fill="none" stroke="#111111" stroke-width="1.3"/>
<line x1="35.80" y1="105.40" x2="39.80" y2="105.40" stroke="#111111" stroke-width="1.15" stroke-linecap="butt"/>
<text x="34.40" y="108.90" font-size="10.0" text-anchor="end" fill="#1c1c1c" stroke="#1c1c1c">10</text>
<line x1="39.80" y1="105.40" x2="39.80" y2="109.40" stroke="#111111" stroke-width="1.15" stroke-linecap="butt"/>
<text x="39.80" y="121.40" font-size="10.0" text-anchor="middle" fill="#1c1c1c" stroke="#1c1c1c">10</text>
<line x1="35.80" y1="88.08" x2="39.80" y2="88.08" stroke="#111111" stroke-width="1.15" stroke-linecap="butt"/>
<text x="34.40" y="91.58" font-size="10.0" text-anchor="end" fill="#1c1c1c" stroke="#1c1c1c">11</text>
<line x1="57.00" y1="105.40" x2="57.00" y2="109.40" stroke="#111111" stroke-width="1.15" stroke-linecap="butt"/>
<text x="57.00" y="121.40" font-size="10.0" text-anchor="middle" fill="#1c1c1c" stroke="#1c1c1c">11</text>
<line x1="35.80" y1="70.76" x2="39.80" y2="70.76" stroke="#111111" stroke-width="1.15" stroke-linecap="butt"/>
<text x="34.40" y="74.26" font-size="10.0" text-anchor="end" fill="#1c1c1c" stroke="#1c1c1c">12</text>
<line x1="74.20" y1="105.40" x2="74.20" y2="109.40" stroke="#111111" stroke-width="1.15" stroke-linecap="butt"/>
<text x="74.20" y="121.40" font-size="10.0" text-anchor="middle" fill="#1c1c1c" stroke="#1c1c1c">12</text>
<line x1="35.80" y1="53.44" x2="39.80" y2="53.44" stroke="#111111" stroke-width="1.15" stroke-linecap="butt"/>
<text x="34.40" y="56.94" font-size="10.0" text-anchor="end" fill="#1c1c1c" stroke="#1c1c1c">13</text>
<line x1="91.40" y1="105.40" x2="91.40" y2="109.40" stroke="#111111" stroke-width="1.15" stroke-linecap="butt"/>
<text x="91.40" y="121.40" font-size="10.0" text-anchor="middle" fill="#1c1c1c" stroke="#1c1c1c">13</text>
<line x1="35.80" y1="36.12" x2="39.80" y2="36.12" stroke="#111111" stroke-width="1.15" stroke-linecap="butt"/>
<text x="34.40" y="39.62" font-size="10.0" text-anchor="end" fill="#1c1c1c" stroke="#1c1c1c">14</text>
<line x1="108.60" y1="105.40" x2="108.60" y2="109.40" stroke="#111111" stroke-width="1.15" stroke-linecap="butt"/>
<text x="108.60" y="121.40" font-size="10.0" text-anchor="middle" fill="#1c1c1c" stroke="#1c1c1c">14</text>
<line x1="35.80" y1="18.80" x2="39.80" y2="18.80" stroke="#111111" stroke-width="1.15" stroke-linecap="butt"/>
<text x="34.40" y="22.30" font-size="10.0" text-anchor="end" fill="#1c1c1c" stroke="#1c1c1c">15</text>
<line x1="125.80" y1="105.40" x2="125.80" y2="109.40" stroke="#111111" stroke-width="1.15" stroke-linecap="butt"/>
<text x="125.80" y="121.40" font-size="10.0" text-anchor="middle" fill="#1c1c1c" stroke="#1c1c1c">15</text>
<text x="82.50" y="134.00" font-size="10.0" text-anchor="middle" fill="#1c1c1c" stroke="#1c1c1c">IQGAP1</text>
<text x="15.60" y="62.00" font-size="10.0" text-anchor="middle" transform="rotate(-90 15.60 62.00)" fill="#1c1c1c" stroke="#1c1c1c">STAT3</text>
<text x="42.30" y="89.20" font-size="9.5" fill="#3a3a3a" stroke="#3a3a3a"><tspan font-style="italic">R</tspan> = 0.3</text>
<text x="42.30" y="100.00" font-size="9.5" fill="#3a3a3a" stroke="#3a3a3a"><tspan font-style="italic">P</tspan> &lt; 0.0001</text>
<text x="162.40" y="12.00" font-size="14.6" font-weight="bold" fill="#0a0a0a" stroke="#0a0a0a" style="stroke-width:0">B</text>
<text x="242.00" y="18.00" font-size="10.0" text-anchor="middle" fill="#1c1c1c" stroke="#1c1c1c">IP: IQGAP1</text>
<line x1="210.60" y1="19.90" x2="267.60" y2="19.90" stroke="#111111" stroke-width="1.0" stroke-linecap="butt"/>
<text x="220.60" y="32.70" font-size="10.0" text-anchor="middle" fill="#1c1c1c" stroke="#1c1c1c">HE</text>
<text x="251.40" y="32.70" font-size="10.0" text-anchor="middle" fill="#1c1c1c" stroke="#1c1c1c">HP</text>
<line x1="230.60" y1="34.90" x2="267.70" y2="34.90" stroke="#111111" stroke-width="1.0" stroke-linecap="butt"/>
<text x="210.80" y="46.00" font-size="10.0" text-anchor="end" fill="#1c1c1c" stroke="#1c1c1c">siNC</text>
<text x="222.20" y="45.65" font-size="8.2" text-anchor="middle" fill="#111" stroke="#111" style="stroke-width:0.3px">+</text>
<text x="236.50" y="45.65" font-size="8.2" text-anchor="middle" fill="#111" stroke="#111" style="stroke-width:0.3px">+</text>
<text x="248.60" y="45.60" font-size="7.6" text-anchor="middle" fill="#111" stroke="#111" style="stroke-width:0.4px">–</text>
<text x="263.00" y="45.60" font-size="7.6" text-anchor="middle" fill="#111" stroke="#111" style="stroke-width:0.4px">–</text>
<text x="210.80" y="59.00" font-size="10.0" text-anchor="end" fill="#1c1c1c" stroke="#1c1c1c">siPSAT1</text>
<text x="220.80" y="58.20" font-size="7.6" text-anchor="middle" fill="#111" stroke="#111" style="stroke-width:0.4px">–</text>
<text x="235.40" y="58.20" font-size="7.6" text-anchor="middle" fill="#111" stroke="#111" style="stroke-width:0.4px">–</text>
<text x="248.60" y="59.00" font-size="10.0" text-anchor="middle" fill="#1c1c1c" stroke="#1c1c1c">#2</text>
<text x="262.60" y="59.00" font-size="10.0" text-anchor="middle" fill="#1c1c1c" stroke="#1c1c1c">#3</text>
<text x="278.50" y="59.00" font-size="10.0" text-anchor="middle" fill="#1c1c1c" stroke="#1c1c1c">IgG</text>
<text x="209.60" y="73.45" font-size="10.2" text-anchor="end" fill="#1c1c1c" stroke="#1c1c1c">PSAT1</text>
<text x="209.60" y="91.40" font-size="10.2" text-anchor="end" fill="#1c1c1c" stroke="#1c1c1c">STAT3</text>
<text x="209.60" y="107.75" font-size="10.2" text-anchor="end" fill="#1c1c1c" stroke="#1c1c1c">IQGAP1</text>
<text x="209.60" y="124.55" font-size="10.2" text-anchor="end" fill="#1c1c1c" stroke="#1c1c1c">Light chain</text>
<clipPath id="c1"><rect x="212.20" y="62.70" width="72.80" height="14.50"/></clipPath>
<rect x="212.20" y="62.70" width="72.80" height="14.50" fill="#eeeeee"/>
<g clip-path="url(#c1)"><g filter="url(#b1)">
<rect x="228.30" y="68.05" width="14.00" height="3.00" rx="1.50" fill="#0a0a0a" opacity="1.0"/>
<rect x="244.25" y="68.85" width="10.50" height="1.80" rx="0.90" fill="#0a0a0a" opacity="0.4"/>
<rect x="258.15" y="69.35" width="10.50" height="1.60" rx="0.80" fill="#0a0a0a" opacity="0.28"/>
</g></g>
<rect x="212.20" y="62.70" width="72.80" height="14.50" fill="none" stroke="#222" stroke-width="1.0"/>
<clipPath id="c2"><rect x="212.20" y="81.50" width="72.80" height="12.80"/></clipPath>
<rect x="212.20" y="81.50" width="72.80" height="12.80" fill="#f0f0f0"/>
<g clip-path="url(#c2)"><g filter="url(#b1)">
<rect x="214.80" y="86.50" width="9.00" height="1.60" rx="0.80" fill="#0a0a0a" opacity="0.22"/>
<rect x="228.45" y="85.10" width="9.50" height="3.80" rx="1.50" fill="#0a0a0a" opacity="1.0"/>
</g></g>
<rect x="212.20" y="81.50" width="72.80" height="12.80" fill="none" stroke="#222" stroke-width="1.0"/>
<clipPath id="c3"><rect x="212.20" y="98.20" width="72.80" height="12.10"/></clipPath>
<rect x="212.20" y="98.20" width="72.80" height="12.10" fill="#cecece"/>
<g clip-path="url(#c3)"><g filter="url(#b2)">
<rect x="213.65" y="102.15" width="11.50" height="4.60" rx="1.50" fill="#0a0a0a" opacity="0.95"/>
<rect x="228.35" y="101.95" width="10.50" height="5.40" rx="1.50" fill="#0a0a0a" opacity="1.0"/>
<rect x="242.00" y="102.15" width="13.00" height="4.60" rx="1.50" fill="#0a0a0a" opacity="0.95"/>
<rect x="257.05" y="102.45" width="14.50" height="4.40" rx="1.50" fill="#0a0a0a" opacity="0.95"/>
<rect x="273.00" y="103.55" width="9.00" height="3.00" rx="1.50" fill="#0a0a0a" opacity="0.25"/>
<rect x="229.10" y="106.15" width="9.00" height="3.00" rx="1.50" fill="#0a0a0a" opacity="0.45"/>
<rect x="212.20" y="103.05" width="58.80" height="3.00" rx="1.50" fill="#0a0a0a" opacity="0.55"/>
</g></g>
<rect x="212.20" y="98.20" width="72.80" height="12.10" fill="none" stroke="#222" stroke-width="1.0"/>
<clipPath id="c4"><rect x="212.20" y="114.40" width="72.80" height="13.30"/></clipPath>
<rect x="212.20" y="114.40" width="72.80" height="13.30" fill="#dadada"/>
<g clip-path="url(#c4)"><g filter="url(#b1)">
<rect x="214.35" y="119.15" width="11.50" height="4.40" rx="1.50" fill="#0a0a0a" opacity="1.0"/>
<rect x="229.30" y="119.05" width="12.00" height="4.40" rx="1.50" fill="#0a0a0a" opacity="1.0"/>
<rect x="243.30" y="118.45" width="12.00" height="4.80" rx="1.50" fill="#0a0a0a" opacity="1.0"/>
<rect x="257.00" y="119.15" width="12.00" height="4.20" rx="1.50" fill="#0a0a0a" opacity="1.0"/>
<rect x="271.55" y="119.85" width="10.50" height="3.60" rx="1.50" fill="#0a0a0a" opacity="1.0"/>
</g></g>
<rect x="212.20" y="114.40" width="72.80" height="13.30" fill="none" stroke="#222" stroke-width="1.0"/>
<text x="319.50" y="11.50" font-size="14.6" font-weight="bold" fill="#0a0a0a" stroke="#0a0a0a" style="stroke-width:0">C</text>
<text x="371.50" y="22.50" font-size="10.0" text-anchor="middle" fill="#1c1c1c" stroke="#1c1c1c">HE</text>
<text x="401.70" y="22.50" font-size="10.0" text-anchor="middle" fill="#1c1c1c" stroke="#1c1c1c">HP</text>
<line x1="383.00" y1="24.60" x2="419.80" y2="24.60" stroke="#111111" stroke-width="1.0" stroke-linecap="butt"/>
<text x="434.50" y="22.50" font-size="10.0" text-anchor="middle" fill="#1c1c1c" stroke="#1c1c1c">PE</text>
<text x="462.50" y="22.50" font-size="10.0" text-anchor="middle" fill="#1c1c1c" stroke="#1c1c1c">PP</text>
<line x1="442.00" y1="24.60" x2="482.00" y2="24.60" stroke="#111111" stroke-width="1.0" stroke-linecap="butt"/>
<text x="366.60" y="35.80" font-size="10.0" text-anchor="end" fill="#1c1c1c" stroke="#1c1c1c">siNC</text>
<text x="366.60" y="48.60" font-size="10.0" text-anchor="end" fill="#1c1c1c" stroke="#1c1c1c">siIQGAP1</text>
<text x="374.60" y="35.35" font-size="8.2" text-anchor="middle" fill="#111" stroke="#111" style="stroke-width:0.3px">+</text>
<text x="389.00" y="35.35" font-size="8.2" text-anchor="middle" fill="#111" stroke="#111" style="stroke-width:0.3px">+</text>
<text x="401.60" y="35.20" font-size="7.6" text-anchor="middle" fill="#111" stroke="#111" style="stroke-width:0.4px">–</text>
<text x="415.60" y="35.20" font-size="7.6" text-anchor="middle" fill="#111" stroke="#111" style="stroke-width:0.4px">–</text>
<text x="373.80" y="47.80" font-size="7.6" text-anchor="middle" fill="#111" stroke="#111" style="stroke-width:0.4px">–</text>
<text x="388.20" y="47.80" font-size="7.6" text-anchor="middle" fill="#111" stroke="#111" style="stroke-width:0.4px">–</text>
<text x="401.60" y="48.60" font-size="10.0" text-anchor="middle" fill="#1c1c1c" stroke="#1c1c1c">#3</text>
<text x="415.60" y="48.60" font-size="10.0" text-anchor="middle" fill="#1c1c1c" stroke="#1c1c1c">#4</text>
<text x="435.00" y="35.35" font-size="8.2" text-anchor="middle" fill="#111" stroke="#111" style="stroke-width:0.3px">+</text>
<text x="449.50" y="35.35" font-size="8.2" text-anchor="middle" fill="#111" stroke="#111" style="stroke-width:0.3px">+</text>
<text x="463.80" y="35.20" font-size="7.6" text-anchor="middle" fill="#111" stroke="#111" style="stroke-width:0.4px">–</text>
<text x="478.80" y="35.20" font-size="7.6" text-anchor="middle" fill="#111" stroke="#111" style="stroke-width:0.4px">–</text>
<text x="434.20" y="47.80" font-size="7.6" text-anchor="middle" fill="#111" stroke="#111" style="stroke-width:0.4px">–</text>
<text x="448.70" y="47.80" font-size="7.6" text-anchor="middle" fill="#111" stroke="#111" style="stroke-width:0.4px">–</text>
<text x="463.80" y="48.60" font-size="10.0" text-anchor="middle" fill="#1c1c1c" stroke="#1c1c1c">#2</text>
<text x="478.80" y="48.60" font-size="10.0" text-anchor="middle" fill="#1c1c1c" stroke="#1c1c1c">#3</text>
<text x="361.20" y="63.10" font-size="10.0" text-anchor="end" fill="#1c1c1c" stroke="#1c1c1c">IQGAP1</text>
<text x="361.20" y="77.20" font-size="10.0" text-anchor="end" fill="#4d4d4d" stroke="#4d4d4d">pSTAT3</text>
<text x="361.20" y="91.05" font-size="10.0" text-anchor="end" fill="#1c1c1c" stroke="#1c1c1c">STAT3</text>
<text x="361.20" y="104.95" font-size="10.0" text-anchor="end" fill="#1c1c1c" stroke="#1c1c1c">PSAT1</text>
<text x="361.20" y="119.05" font-size="10.0" text-anchor="end" fill="#1c1c1c" stroke="#1c1c1c">β-Actin</text>
<clipPath id="c5"><rect x="365.80" y="53.20" width="58.00" height="11.00"/></clipPath>
<rect x="365.80" y="53.20" width="58.00" height="11.00" fill="#e9e9e9"/>
<g clip-path="url(#c5)"><g filter="url(#b1)">
<rect x="367.30" y="58.10" width="13.00" height="2.20" rx="1.10" fill="#0a0a0a" opacity="1.0"/>
<rect x="381.30" y="57.90" width="13.00" height="2.20" rx="1.10" fill="#0a0a0a" opacity="1.0"/>
<rect x="377.80" y="58.60" width="6.00" height="1.20" rx="0.60" fill="#0a0a0a" opacity="0.7"/>
<rect x="397.30" y="58.35" width="9.00" height="1.50" rx="0.75" fill="#0a0a0a" opacity="0.4"/>
<rect x="411.30" y="58.50" width="9.00" height="1.20" rx="0.60" fill="#0a0a0a" opacity="0.12"/>
</g></g>
<rect x="365.80" y="53.20" width="58.00" height="11.00" fill="none" stroke="#222" stroke-width="1.0"/>
<clipPath id="c6"><rect x="427.80" y="53.20" width="58.40" height="11.00"/></clipPath>
<rect x="427.80" y="53.20" width="58.40" height="11.00" fill="#e4e4e4"/>
<g clip-path="url(#c6)"><g filter="url(#b1)">
<rect x="429.35" y="58.10" width="11.00" height="2.20" rx="1.10" fill="#0a0a0a" opacity="1.0"/>
<rect x="444.20" y="57.90" width="11.50" height="2.20" rx="1.10" fill="#0a0a0a" opacity="1.0"/>
<rect x="459.05" y="58.45" width="10.00" height="1.50" rx="0.75" fill="#0a0a0a" opacity="0.35"/>
<rect x="473.15" y="58.45" width="10.00" height="1.50" rx="0.75" fill="#0a0a0a" opacity="0.28"/>
</g></g>
<rect x="427.80" y="53.20" width="58.40" height="11.00" fill="none" stroke="#222" stroke-width="1.0"/>
<clipPath id="c7"><rect x="365.80" y="67.30" width="58.00" height="11.00"/></clipPath>
<rect x="365.80" y="67.30" width="58.00" height="11.00" fill="#f6f6f6"/>
<g clip-path="url(#c7)"><g filter="url(#b1)">
<rect x="368.80" y="72.30" width="9.00" height="1.40" rx="0.70" fill="#0a0a0a" opacity="0.5"/>
<rect x="382.30" y="71.80" width="11.00" height="2.00" rx="1.00" fill="#0a0a0a" opacity="0.95"/>
<rect x="396.30" y="72.00" width="8.00" height="1.60" rx="0.80" fill="#0a0a0a" opacity="0.65"/>
<rect x="411.80" y="72.60" width="8.00" height="1.00" rx="0.50" fill="#0a0a0a" opacity="0.1"/>
</g></g>
<rect x="365.80" y="67.30" width="58.00" height="11.00" fill="none" stroke="#222" stroke-width="1.0"/>
<clipPath id="c8"><rect x="427.80" y="67.30" width="58.40" height="11.00"/></clipPath>
<rect x="427.80" y="67.30" width="58.40" height="11.00" fill="#fafafa"/>
<g clip-path="url(#c8)"><g filter="url(#b1)">
<rect x="430.35" y="72.30" width="9.00" height="1.40" rx="0.70" fill="#0a0a0a" opacity="0.5"/>
<rect x="444.95" y="72.10" width="10.00" height="1.80" rx="0.90" fill="#0a0a0a" opacity="0.85"/>
<rect x="460.05" y="72.70" width="8.00" height="1.00" rx="0.50" fill="#0a0a0a" opacity="0.1"/>
</g></g>
<rect x="427.80" y="67.30" width="58.40" height="11.00" fill="none" stroke="#222" stroke-width="1.0"/>
<clipPath id="c9"><rect x="365.80" y="81.00" width="58.00" height="11.30"/></clipPath>
<rect x="365.80" y="81.00" width="58.00" height="11.30" fill="#e2e2e2"/>
<g clip-path="url(#c9)"><g filter="url(#b1)">
<rect x="368.55" y="85.40" width="10.50" height="1.90" rx="0.95" fill="#0a0a0a" opacity="0.9"/>
<rect x="382.55" y="85.40" width="10.50" height="1.90" rx="0.95" fill="#0a0a0a" opacity="0.9"/>
<rect x="396.55" y="85.40" width="10.50" height="1.90" rx="0.95" fill="#0a0a0a" opacity="0.9"/>
<rect x="410.55" y="85.40" width="10.50" height="1.90" rx="0.95" fill="#0a0a0a" opacity="0.9"/>
</g></g>
<rect x="365.80" y="81.00" width="58.00" height="11.30" fill="none" stroke="#222" stroke-width="1.0"/>
<clipPath id="c10"><rect x="427.80" y="81.00" width="58.40" height="11.30"/></clipPath>
<rect x="427.80" y="81.00" width="58.40" height="11.30" fill="#dedede"/>
<g clip-path="url(#c10)"><g filter="url(#b1)">
<rect x="430.35" y="86.35" width="11.00" height="2.20" rx="1.10" fill="#0a0a0a" opacity="1.0"/>
<rect x="444.45" y="86.35" width="11.00" height="2.20" rx="1.10" fill="#0a0a0a" opacity="1.0"/>
<rect x="458.55" y="86.35" width="11.00" height="2.20" rx="1.10" fill="#0a0a0a" opacity="1.0"/>
<rect x="472.65" y="86.35" width="11.00" height="2.20" rx="1.10" fill="#0a0a0a" opacity="1.0"/>
</g></g>
<rect x="427.80" y="81.00" width="58.40" height="11.30" fill="none" stroke="#222" stroke-width="1.0"/>
<clipPath id="c11"><rect x="365.80" y="95.00" width="58.00" height="11.10"/></clipPath>
<rect x="365.80" y="95.00" width="58.00" height="11.10" fill="#e4e4e4"/>
<g clip-path="url(#c11)"><g filter="url(#b1)">
<rect x="380.80" y="99.55" width="42.00" height="2.40" rx="1.20" fill="#0a0a0a" opacity="1.0"/>
</g></g>
<rect x="365.80" y="95.00" width="58.00" height="11.10" fill="none" stroke="#222" stroke-width="1.0"/>
<clipPath id="c12"><rect x="427.80" y="95.00" width="58.40" height="11.10"/></clipPath>
<rect x="427.80" y="95.00" width="58.40" height="11.10" fill="#e4e4e4"/>
<g clip-path="url(#c12)"><g filter="url(#b1)">
<rect x="444.55" y="99.45" width="42.00" height="2.60" rx="1.30" fill="#0a0a0a" opacity="1.0"/>
</g></g>
<rect x="427.80" y="95.00" width="58.40" height="11.10" fill="none" stroke="#222" stroke-width="1.0"/>
<clipPath id="c13"><rect x="365.80" y="109.00" width="58.00" height="11.30"/></clipPath>
<rect x="365.80" y="109.00" width="58.00" height="11.30" fill="#ececec"/>
<g clip-path="url(#c13)"><g filter="url(#b1)">
<rect x="367.55" y="113.55" width="12.50" height="1.80" rx="0.90" fill="#0a0a0a" opacity="1.0"/>
<rect x="381.55" y="113.55" width="12.50" height="1.80" rx="0.90" fill="#0a0a0a" opacity="1.0"/>
<rect x="395.55" y="113.55" width="12.50" height="1.80" rx="0.90" fill="#0a0a0a" opacity="1.0"/>
<rect x="409.55" y="113.55" width="12.50" height="1.80" rx="0.90" fill="#0a0a0a" opacity="1.0"/>
<rect x="368.80" y="114.00" width="52.00" height="0.90" rx="0.45" fill="#0a0a0a" opacity="0.6"/>
</g></g>
<rect x="365.80" y="109.00" width="58.00" height="11.30" fill="none" stroke="#222" stroke-width="1.0"/>
<clipPath id="c14"><rect x="427.80" y="109.00" width="58.40" height="11.30"/></clipPath>
<rect x="427.80" y="109.00" width="58.40" height="11.30" fill="#e2e2e2"/>
<g clip-path="url(#c14)"><g filter="url(#b1)">
<rect x="429.35" y="113.50" width="13.00" height="1.70" rx="0.85" fill="#0a0a0a" opacity="1.0"/>
<rect x="443.45" y="113.50" width="13.00" height="1.70" rx="0.85" fill="#0a0a0a" opacity="1.0"/>
<rect x="457.55" y="113.50" width="13.00" height="1.70" rx="0.85" fill="#0a0a0a" opacity="1.0"/>
<rect x="471.65" y="113.50" width="13.00" height="1.70" rx="0.85" fill="#0a0a0a" opacity="1.0"/>
<rect x="430.00" y="113.90" width="54.00" height="0.90" rx="0.45" fill="#0a0a0a" opacity="0.8"/>
</g></g>
<rect x="427.80" y="109.00" width="58.40" height="11.30" fill="none" stroke="#222" stroke-width="1.0"/>
<text x="1.00" y="162.70" font-size="14.6" font-weight="bold" fill="#0a0a0a" stroke="#0a0a0a" style="stroke-width:0">D</text>
<rect x="36.30" y="161.10" width="8.00" height="8.00" fill="#5a61b6"/>
<text x="47.50" y="168.40" font-size="10.0" fill="#1c1c1c" stroke="#1c1c1c">CTR</text>
<rect x="74.10" y="161.60" width="7.00" height="7.00" fill="#fff" stroke="#5a61b6" stroke-width="1.0"/>
<text x="82.60" y="168.40" font-size="10.0" fill="#1c1c1c" stroke="#1c1c1c">2 µmol/L Stattic</text>
<rect x="45.40" y="246.02" width="7.00" height="40.28" fill="#5a61b6"/>
<line x1="48.90" y1="242.39" x2="48.90" y2="249.65" stroke="#111111" stroke-width="1.35" stroke-linecap="butt"/>
<line x1="46.30" y1="242.39" x2="51.50" y2="242.39" stroke="#111111" stroke-width="1.35" stroke-linecap="butt"/>
<line x1="46.30" y1="249.65" x2="51.50" y2="249.65" stroke="#111111" stroke-width="1.35" stroke-linecap="butt"/>
<circle cx="48.19" cy="249.24" r="1.6" fill="#111"/>
<circle cx="48.81" cy="246.42" r="1.6" fill="#111"/>
<circle cx="49.44" cy="242.80" r="1.6" fill="#111"/>
<rect x="55.80" y="254.68" width="5.40" height="31.62" fill="#fff" stroke="#525ab0" stroke-width="1.2"/>
<line x1="58.50" y1="252.06" x2="58.50" y2="256.09" stroke="#111111" stroke-width="1.35" stroke-linecap="butt"/>
<line x1="55.90" y1="252.06" x2="61.10" y2="252.06" stroke="#111111" stroke-width="1.35" stroke-linecap="butt"/>
<line x1="55.90" y1="256.09" x2="61.10" y2="256.09" stroke="#111111" stroke-width="1.35" stroke-linecap="butt"/>
<circle cx="58.66" cy="255.69" r="1.6" fill="#111"/>
<circle cx="57.89" cy="254.08" r="1.6" fill="#111"/>
<circle cx="59.43" cy="252.06" r="1.6" fill="#111"/>
<rect x="68.20" y="200.91" width="7.00" height="85.39" fill="#5a61b6"/>
<line x1="71.70" y1="191.24" x2="71.70" y2="210.57" stroke="#111111" stroke-width="1.35" stroke-linecap="butt"/>
<line x1="69.10" y1="191.24" x2="74.30" y2="191.24" stroke="#111111" stroke-width="1.35" stroke-linecap="butt"/>
<line x1="69.10" y1="210.57" x2="74.30" y2="210.57" stroke="#111111" stroke-width="1.35" stroke-linecap="butt"/>
<circle cx="71.00" cy="209.77" r="1.6" fill="#111"/>
<circle cx="71.93" cy="200.91" r="1.6" fill="#111"/>
<circle cx="71.04" cy="192.85" r="1.6" fill="#111"/>
<rect x="78.20" y="266.76" width="5.80" height="19.54" fill="#fff" stroke="#525ab0" stroke-width="1.2"/>
<line x1="81.10" y1="264.95" x2="81.10" y2="267.37" stroke="#111111" stroke-width="1.35" stroke-linecap="butt"/>
<line x1="78.50" y1="264.95" x2="83.70" y2="264.95" stroke="#111111" stroke-width="1.35" stroke-linecap="butt"/>
<line x1="78.50" y1="267.37" x2="83.70" y2="267.37" stroke="#111111" stroke-width="1.35" stroke-linecap="butt"/>
<circle cx="82.06" cy="266.97" r="1.6" fill="#111"/>
<circle cx="81.01" cy="266.16" r="1.6" fill="#111"/>
<circle cx="81.54" cy="265.35" r="1.6" fill="#111"/>
<rect x="93.00" y="246.83" width="7.00" height="39.47" fill="#5a61b6"/>
<line x1="96.50" y1="245.62" x2="96.50" y2="248.03" stroke="#111111" stroke-width="1.35" stroke-linecap="butt"/>
<line x1="93.90" y1="245.62" x2="99.10" y2="245.62" stroke="#111111" stroke-width="1.35" stroke-linecap="butt"/>
<line x1="93.90" y1="248.03" x2="99.10" y2="248.03" stroke="#111111" stroke-width="1.35" stroke-linecap="butt"/>
<circle cx="97.42" cy="247.63" r="1.6" fill="#111"/>
<circle cx="97.24" cy="246.83" r="1.6" fill="#111"/>
<circle cx="96.96" cy="245.62" r="1.6" fill="#111"/>
<rect x="103.00" y="255.88" width="5.80" height="30.42" fill="#fff" stroke="#525ab0" stroke-width="1.2"/>
<line x1="105.90" y1="253.67" x2="105.90" y2="256.90" stroke="#111111" stroke-width="1.35" stroke-linecap="butt"/>
<line x1="103.30" y1="253.67" x2="108.50" y2="253.67" stroke="#111111" stroke-width="1.35" stroke-linecap="butt"/>
<line x1="103.30" y1="256.90" x2="108.50" y2="256.90" stroke="#111111" stroke-width="1.35" stroke-linecap="butt"/>
<circle cx="106.66" cy="256.49" r="1.6" fill="#111"/>
<circle cx="105.60" cy="255.28" r="1.6" fill="#111"/>
<circle cx="106.48" cy="254.08" r="1.6" fill="#111"/>
<rect x="115.40" y="213.39" width="7.00" height="72.91" fill="#5a61b6"/>
<line x1="118.90" y1="206.95" x2="118.90" y2="219.84" stroke="#111111" stroke-width="1.35" stroke-linecap="butt"/>
<line x1="116.30" y1="206.95" x2="121.50" y2="206.95" stroke="#111111" stroke-width="1.35" stroke-linecap="butt"/>
<line x1="116.30" y1="219.84" x2="121.50" y2="219.84" stroke="#111111" stroke-width="1.35" stroke-linecap="butt"/>
<circle cx="119.32" cy="218.63" r="1.6" fill="#111"/>
<circle cx="119.70" cy="214.60" r="1.6" fill="#111"/>
<circle cx="117.93" cy="207.35" r="1.6" fill="#111"/>
<rect x="125.60" y="261.93" width="5.80" height="24.37" fill="#fff" stroke="#525ab0" stroke-width="1.2"/>
<line x1="128.50" y1="260.12" x2="128.50" y2="262.53" stroke="#111111" stroke-width="1.35" stroke-linecap="butt"/>
<line x1="125.90" y1="260.12" x2="131.10" y2="260.12" stroke="#111111" stroke-width="1.35" stroke-linecap="butt"/>
<line x1="125.90" y1="262.53" x2="131.10" y2="262.53" stroke="#111111" stroke-width="1.35" stroke-linecap="butt"/>
<circle cx="127.99" cy="262.13" r="1.6" fill="#111"/>
<circle cx="128.66" cy="261.33" r="1.6" fill="#111"/>
<circle cx="129.44" cy="260.52" r="1.6" fill="#111"/>
<line x1="43.10" y1="185.10" x2="43.10" y2="286.90" stroke="#111111" stroke-width="1.3" stroke-linecap="butt"/>
<line x1="39.20" y1="286.30" x2="43.10" y2="286.30" stroke="#111111" stroke-width="1.15" stroke-linecap="butt"/>
<text x="37.40" y="290.20" font-size="10.0" text-anchor="end" fill="#1c1c1c" stroke="#1c1c1c">0</text>
<line x1="39.20" y1="266.16" x2="43.10" y2="266.16" stroke="#111111" stroke-width="1.15" stroke-linecap="butt"/>
<text x="37.40" y="270.06" font-size="10.0" text-anchor="end" fill="#1c1c1c" stroke="#1c1c1c">50</text>
<line x1="39.20" y1="246.02" x2="43.10" y2="246.02" stroke="#111111" stroke-width="1.15" stroke-linecap="butt"/>
<text x="37.40" y="249.92" font-size="10.0" text-anchor="end" fill="#1c1c1c" stroke="#1c1c1c">100</text>
<line x1="39.20" y1="225.88" x2="43.10" y2="225.88" stroke="#111111" stroke-width="1.15" stroke-linecap="butt"/>
<text x="37.40" y="229.78" font-size="10.0" text-anchor="end" fill="#1c1c1c" stroke="#1c1c1c">150</text>
<line x1="39.20" y1="205.74" x2="43.10" y2="205.74" stroke="#111111" stroke-width="1.15" stroke-linecap="butt"/>
<text x="37.40" y="209.64" font-size="10.0" text-anchor="end" fill="#1c1c1c" stroke="#1c1c1c">200</text>
<line x1="39.20" y1="185.60" x2="43.10" y2="185.60" stroke="#111111" stroke-width="1.15" stroke-linecap="butt"/>
<text x="37.40" y="189.50" font-size="10.0" text-anchor="end" fill="#1c1c1c" stroke="#1c1c1c">250</text>
<line x1="90.70" y1="185.10" x2="90.70" y2="286.90" stroke="#111111" stroke-width="1.3" stroke-linecap="butt"/>
<line x1="88.10" y1="286.30" x2="90.70" y2="286.30" stroke="#111111" stroke-width="1.15" stroke-linecap="butt"/>
<line x1="88.10" y1="266.16" x2="90.70" y2="266.16" stroke="#111111" stroke-width="1.15" stroke-linecap="butt"/>
<line x1="88.10" y1="246.02" x2="90.70" y2="246.02" stroke="#111111" stroke-width="1.15" stroke-linecap="butt"/>
<line x1="88.10" y1="225.88" x2="90.70" y2="225.88" stroke="#111111" stroke-width="1.15" stroke-linecap="butt"/>
<line x1="88.10" y1="205.74" x2="90.70" y2="205.74" stroke="#111111" stroke-width="1.15" stroke-linecap="butt"/>
<line x1="88.10" y1="185.60" x2="90.70" y2="185.60" stroke="#111111" stroke-width="1.15" stroke-linecap="butt"/>
<line x1="42.50" y1="286.30" x2="87.00" y2="286.30" stroke="#111111" stroke-width="1.3" stroke-linecap="butt"/>
<line x1="90.10" y1="286.30" x2="135.00" y2="286.30" stroke="#111111" stroke-width="1.3" stroke-linecap="butt"/>
<line x1="53.60" y1="286.30" x2="53.60" y2="290.30" stroke="#111111" stroke-width="1.15" stroke-linecap="butt"/>
<text x="53.60" y="300.30" font-size="10.0" text-anchor="middle" fill="#1c1c1c" stroke="#1c1c1c">HE</text>
<line x1="76.40" y1="286.30" x2="76.40" y2="290.30" stroke="#111111" stroke-width="1.15" stroke-linecap="butt"/>
<text x="76.40" y="300.30" font-size="10.0" text-anchor="middle" fill="#1c1c1c" stroke="#1c1c1c">HP</text>
<line x1="101.20" y1="286.30" x2="101.20" y2="290.30" stroke="#111111" stroke-width="1.15" stroke-linecap="butt"/>
<text x="101.20" y="300.30" font-size="10.0" text-anchor="middle" fill="#1c1c1c" stroke="#1c1c1c">PE</text>
<line x1="123.70" y1="286.30" x2="123.70" y2="290.30" stroke="#111111" stroke-width="1.15" stroke-linecap="butt"/>
<text x="123.70" y="300.30" font-size="10.0" text-anchor="middle" fill="#1c1c1c" stroke="#1c1c1c">PP</text>
<text x="10.60" y="237.20" font-size="10.0" text-anchor="middle" transform="rotate(-90 10.60 237.20)" fill="#1c1c1c" stroke="#1c1c1c">Cell adhesion (%)</text>
<polyline points="49.20,237.60 49.20,233.80 59.00,233.80 59.00,241.60" fill="none" stroke="#111111" stroke-width="1.3"/>
<text x="54.10" y="234.30" font-size="10.5" text-anchor="middle" fill="#0a0a0a" stroke="#0a0a0a">**</text>
<polyline points="71.60,188.60 71.60,183.60 81.40,183.60 81.40,254.00" fill="none" stroke="#111111" stroke-width="1.3"/>
<text x="76.50" y="184.10" font-size="10.5" text-anchor="middle" fill="#0a0a0a" stroke="#0a0a0a">***</text>
<polyline points="96.40,241.40 96.40,237.00 106.20,237.00 106.20,244.60" fill="none" stroke="#111111" stroke-width="1.3"/>
<text x="101.30" y="237.50" font-size="10.5" text-anchor="middle" fill="#0a0a0a" stroke="#0a0a0a">**</text>
<polyline points="119.20,203.40 119.20,198.40 129.20,198.40 129.20,253.00" fill="none" stroke="#111111" stroke-width="1.3"/>
<text x="124.20" y="198.90" font-size="10.5" text-anchor="middle" fill="#0a0a0a" stroke="#0a0a0a">***</text>
<text x="179.60" y="162.70" font-size="14.6" font-weight="bold" fill="#0a0a0a" stroke="#0a0a0a" style="stroke-width:0">E</text>
<rect x="214.40" y="162.00" width="8.00" height="8.00" fill="#5a61b6"/>
<text x="225.00" y="169.30" font-size="10.0" fill="#1c1c1c" stroke="#1c1c1c">CTR</text>
<rect x="250.30" y="162.50" width="7.00" height="7.00" fill="#fff" stroke="#5a61b6" stroke-width="1.0"/>
<text x="259.80" y="169.30" font-size="10.0" fill="#1c1c1c" stroke="#1c1c1c">2 µmol/L Stattic</text>
<rect x="220.80" y="252.56" width="6.90" height="34.64" fill="#5a61b6"/>
<line x1="224.25" y1="247.51" x2="224.25" y2="257.60" stroke="#111111" stroke-width="1.35" stroke-linecap="butt"/>
<line x1="221.65" y1="247.51" x2="226.85" y2="247.51" stroke="#111111" stroke-width="1.35" stroke-linecap="butt"/>
<line x1="221.65" y1="257.60" x2="226.85" y2="257.60" stroke="#111111" stroke-width="1.35" stroke-linecap="butt"/>
<circle cx="223.34" cy="256.93" r="1.6" fill="#111"/>
<circle cx="223.66" cy="254.24" r="1.6" fill="#111"/>
<circle cx="224.67" cy="252.22" r="1.6" fill="#111"/>
<circle cx="223.54" cy="245.49" r="1.6" fill="#111"/>
<rect x="230.60" y="257.53" width="6.00" height="29.67" fill="#fff" stroke="#525ab0" stroke-width="1.2"/>
<line x1="233.60" y1="254.24" x2="233.60" y2="259.62" stroke="#111111" stroke-width="1.35" stroke-linecap="butt"/>
<line x1="231.00" y1="254.24" x2="236.20" y2="254.24" stroke="#111111" stroke-width="1.35" stroke-linecap="butt"/>
<line x1="231.00" y1="259.62" x2="236.20" y2="259.62" stroke="#111111" stroke-width="1.35" stroke-linecap="butt"/>
<circle cx="232.73" cy="258.95" r="1.6" fill="#111"/>
<circle cx="233.25" cy="257.60" r="1.6" fill="#111"/>
<circle cx="232.61" cy="256.26" r="1.6" fill="#111"/>
<circle cx="233.17" cy="253.57" r="1.6" fill="#111"/>
<rect x="243.30" y="215.56" width="6.90" height="71.64" fill="#5a61b6"/>
<line x1="246.75" y1="208.83" x2="246.75" y2="222.29" stroke="#111111" stroke-width="1.35" stroke-linecap="butt"/>
<line x1="244.15" y1="208.83" x2="249.35" y2="208.83" stroke="#111111" stroke-width="1.35" stroke-linecap="butt"/>
<line x1="244.15" y1="222.29" x2="249.35" y2="222.29" stroke="#111111" stroke-width="1.35" stroke-linecap="butt"/>
<circle cx="247.28" cy="223.30" r="1.6" fill="#111"/>
<circle cx="247.04" cy="216.57" r="1.6" fill="#111"/>
<circle cx="246.57" cy="212.53" r="1.6" fill="#111"/>
<circle cx="246.15" cy="209.17" r="1.6" fill="#111"/>
<rect x="253.30" y="264.26" width="5.80" height="22.94" fill="#fff" stroke="#525ab0" stroke-width="1.2"/>
<line x1="256.20" y1="258.95" x2="256.20" y2="268.37" stroke="#111111" stroke-width="1.35" stroke-linecap="butt"/>
<line x1="253.60" y1="258.95" x2="258.80" y2="258.95" stroke="#111111" stroke-width="1.35" stroke-linecap="butt"/>
<line x1="253.60" y1="268.37" x2="258.80" y2="268.37" stroke="#111111" stroke-width="1.35" stroke-linecap="butt"/>
<circle cx="255.38" cy="268.70" r="1.6" fill="#111"/>
<circle cx="256.88" cy="265.34" r="1.6" fill="#111"/>
<circle cx="256.40" cy="262.31" r="1.6" fill="#111"/>
<circle cx="255.63" cy="259.62" r="1.6" fill="#111"/>
<rect x="270.50" y="252.56" width="6.90" height="34.64" fill="#5a61b6"/>
<line x1="273.95" y1="249.19" x2="273.95" y2="255.92" stroke="#111111" stroke-width="1.35" stroke-linecap="butt"/>
<line x1="271.35" y1="249.19" x2="276.55" y2="249.19" stroke="#111111" stroke-width="1.35" stroke-linecap="butt"/>
<line x1="271.35" y1="255.92" x2="276.55" y2="255.92" stroke="#111111" stroke-width="1.35" stroke-linecap="butt"/>
<circle cx="273.74" cy="255.25" r="1.6" fill="#111"/>
<circle cx="273.12" cy="253.57" r="1.6" fill="#111"/>
<circle cx="274.12" cy="251.55" r="1.6" fill="#111"/>
<circle cx="273.22" cy="249.53" r="1.6" fill="#111"/>
<rect x="280.40" y="263.58" width="5.90" height="23.62" fill="#fff" stroke="#525ab0" stroke-width="1.2"/>
<line x1="283.35" y1="260.97" x2="283.35" y2="265.00" stroke="#111111" stroke-width="1.35" stroke-linecap="butt"/>
<line x1="280.75" y1="260.97" x2="285.95" y2="260.97" stroke="#111111" stroke-width="1.35" stroke-linecap="butt"/>
<line x1="280.75" y1="265.00" x2="285.95" y2="265.00" stroke="#111111" stroke-width="1.35" stroke-linecap="butt"/>
<circle cx="283.22" cy="265.67" r="1.6" fill="#111"/>
<circle cx="283.80" cy="263.66" r="1.6" fill="#111"/>
<circle cx="283.42" cy="262.31" r="1.6" fill="#111"/>
<circle cx="283.34" cy="260.29" r="1.6" fill="#111"/>
<rect x="292.60" y="208.16" width="7.20" height="79.04" fill="#5a61b6"/>
<line x1="296.20" y1="202.11" x2="296.20" y2="214.22" stroke="#111111" stroke-width="1.35" stroke-linecap="butt"/>
<line x1="293.60" y1="202.11" x2="298.80" y2="202.11" stroke="#111111" stroke-width="1.35" stroke-linecap="butt"/>
<line x1="293.60" y1="214.22" x2="298.80" y2="214.22" stroke="#111111" stroke-width="1.35" stroke-linecap="butt"/>
<circle cx="295.22" cy="214.89" r="1.6" fill="#111"/>
<circle cx="295.81" cy="209.84" r="1.6" fill="#111"/>
<circle cx="296.67" cy="206.48" r="1.6" fill="#111"/>
<circle cx="296.88" cy="201.44" r="1.6" fill="#111"/>
<rect x="302.80" y="255.85" width="5.80" height="31.35" fill="#fff" stroke="#525ab0" stroke-width="1.2"/>
<line x1="305.70" y1="245.16" x2="305.70" y2="265.34" stroke="#111111" stroke-width="1.35" stroke-linecap="butt"/>
<line x1="303.10" y1="245.16" x2="308.30" y2="245.16" stroke="#111111" stroke-width="1.35" stroke-linecap="butt"/>
<line x1="303.10" y1="265.34" x2="308.30" y2="265.34" stroke="#111111" stroke-width="1.35" stroke-linecap="butt"/>
<circle cx="305.71" cy="263.66" r="1.6" fill="#111"/>
<circle cx="306.04" cy="258.95" r="1.6" fill="#111"/>
<circle cx="306.41" cy="255.25" r="1.6" fill="#111"/>
<circle cx="305.14" cy="241.80" r="1.6" fill="#111"/>
<line x1="218.10" y1="185.80" x2="218.10" y2="287.80" stroke="#111111" stroke-width="1.3" stroke-linecap="butt"/>
<line x1="214.20" y1="287.20" x2="218.10" y2="287.20" stroke="#111111" stroke-width="1.15" stroke-linecap="butt"/>
<text x="212.40" y="291.10" font-size="10.0" text-anchor="end" fill="#1c1c1c" stroke="#1c1c1c">0</text>
<line x1="214.20" y1="253.57" x2="218.10" y2="253.57" stroke="#111111" stroke-width="1.15" stroke-linecap="butt"/>
<text x="212.40" y="257.47" font-size="10.0" text-anchor="end" fill="#1c1c1c" stroke="#1c1c1c">100</text>
<line x1="214.20" y1="219.93" x2="218.10" y2="219.93" stroke="#111111" stroke-width="1.15" stroke-linecap="butt"/>
<text x="212.40" y="223.83" font-size="10.0" text-anchor="end" fill="#1c1c1c" stroke="#1c1c1c">200</text>
<line x1="214.20" y1="186.30" x2="218.10" y2="186.30" stroke="#111111" stroke-width="1.15" stroke-linecap="butt"/>
<text x="212.40" y="190.20" font-size="10.0" text-anchor="end" fill="#1c1c1c" stroke="#1c1c1c">300</text>
<line x1="268.30" y1="185.80" x2="268.30" y2="287.80" stroke="#111111" stroke-width="1.3" stroke-linecap="butt"/>
<line x1="265.70" y1="287.20" x2="268.30" y2="287.20" stroke="#111111" stroke-width="1.15" stroke-linecap="butt"/>
<line x1="265.70" y1="253.57" x2="268.30" y2="253.57" stroke="#111111" stroke-width="1.15" stroke-linecap="butt"/>
<line x1="265.70" y1="219.93" x2="268.30" y2="219.93" stroke="#111111" stroke-width="1.15" stroke-linecap="butt"/>
<line x1="265.70" y1="186.30" x2="268.30" y2="186.30" stroke="#111111" stroke-width="1.15" stroke-linecap="butt"/>
<line x1="217.50" y1="287.20" x2="263.00" y2="287.20" stroke="#111111" stroke-width="1.3" stroke-linecap="butt"/>
<line x1="267.70" y1="287.20" x2="311.50" y2="287.20" stroke="#111111" stroke-width="1.3" stroke-linecap="butt"/>
<line x1="229.00" y1="287.20" x2="229.00" y2="291.20" stroke="#111111" stroke-width="1.15" stroke-linecap="butt"/>
<text x="229.00" y="301.20" font-size="10.0" text-anchor="middle" fill="#1c1c1c" stroke="#1c1c1c">HE</text>
<line x1="251.50" y1="287.20" x2="251.50" y2="291.20" stroke="#111111" stroke-width="1.15" stroke-linecap="butt"/>
<text x="251.50" y="301.20" font-size="10.0" text-anchor="middle" fill="#1c1c1c" stroke="#1c1c1c">HP</text>
<line x1="278.70" y1="287.20" x2="278.70" y2="291.20" stroke="#111111" stroke-width="1.15" stroke-linecap="butt"/>
<text x="278.70" y="301.20" font-size="10.0" text-anchor="middle" fill="#1c1c1c" stroke="#1c1c1c">PE</text>
<line x1="300.90" y1="287.20" x2="300.90" y2="291.20" stroke="#111111" stroke-width="1.15" stroke-linecap="butt"/>
<text x="300.90" y="301.20" font-size="10.0" text-anchor="middle" fill="#1c1c1c" stroke="#1c1c1c">PP</text>
<text x="188.20" y="240.20" font-size="10.7" text-anchor="middle" transform="rotate(-90 188.20 240.20)" fill="#1c1c1c" stroke="#1c1c1c">Cell migration (%)</text>
<polyline points="247.00,207.00 247.00,202.80 256.30,202.80 256.30,257.00" fill="none" stroke="#111111" stroke-width="1.3"/>
<text x="251.65" y="204.20" font-size="10.5" text-anchor="middle" fill="#0a0a0a" stroke="#0a0a0a">****</text>
<polyline points="274.00,240.40 274.00,236.80 283.60,236.80 283.60,246.40" fill="none" stroke="#111111" stroke-width="1.3"/>
<text x="278.80" y="238.80" font-size="10.5" text-anchor="middle" fill="#0a0a0a" stroke="#0a0a0a">**</text>
<polyline points="296.20,193.60 296.20,190.70 305.30,190.70 305.30,235.80" fill="none" stroke="#111111" stroke-width="1.3"/>
<text x="300.75" y="191.20" font-size="10.5" text-anchor="middle" fill="#0a0a0a" stroke="#0a0a0a">***</text>
<text x="350.50" y="162.70" font-size="14.6" font-weight="bold" fill="#0a0a0a" stroke="#0a0a0a" style="stroke-width:0">F</text>
<rect x="397.60" y="163.20" width="8.00" height="8.00" fill="#5a61b6"/>
<text x="407.30" y="170.50" font-size="10.0" fill="#1c1c1c" stroke="#1c1c1c">CTR</text>
<rect x="440.10" y="163.70" width="7.00" height="7.00" fill="#fff" stroke="#5a61b6" stroke-width="1.0"/>
<text x="451.60" y="170.50" font-size="10.0" fill="#1c1c1c" stroke="#1c1c1c">2 µmol/L Stattic</text>
<rect x="403.00" y="220.13" width="7.60" height="67.27" fill="#5a61b6"/>
<line x1="406.80" y1="219.46" x2="406.80" y2="220.81" stroke="#111111" stroke-width="1.35" stroke-linecap="butt"/>
<line x1="404.20" y1="219.46" x2="409.40" y2="219.46" stroke="#111111" stroke-width="1.35" stroke-linecap="butt"/>
<line x1="404.20" y1="220.81" x2="409.40" y2="220.81" stroke="#111111" stroke-width="1.35" stroke-linecap="butt"/>
<circle cx="407.00" cy="220.47" r="1.6" fill="#111"/>
<circle cx="406.49" cy="220.13" r="1.6" fill="#111"/>
<circle cx="405.80" cy="219.80" r="1.6" fill="#111"/>
<rect x="413.80" y="227.46" width="6.20" height="59.94" fill="#fff" stroke="#525ab0" stroke-width="1.2"/>
<line x1="416.90" y1="222.15" x2="416.90" y2="231.57" stroke="#111111" stroke-width="1.35" stroke-linecap="butt"/>
<line x1="414.30" y1="222.15" x2="419.50" y2="222.15" stroke="#111111" stroke-width="1.35" stroke-linecap="butt"/>
<line x1="414.30" y1="231.57" x2="419.50" y2="231.57" stroke="#111111" stroke-width="1.35" stroke-linecap="butt"/>
<circle cx="416.70" cy="229.55" r="1.6" fill="#111"/>
<circle cx="417.50" cy="226.86" r="1.6" fill="#111"/>
<circle cx="416.89" cy="221.48" r="1.6" fill="#111"/>
<rect x="425.60" y="191.88" width="7.60" height="95.52" fill="#5a61b6"/>
<line x1="429.40" y1="190.54" x2="429.40" y2="193.23" stroke="#111111" stroke-width="1.35" stroke-linecap="butt"/>
<line x1="426.80" y1="190.54" x2="432.00" y2="190.54" stroke="#111111" stroke-width="1.35" stroke-linecap="butt"/>
<line x1="426.80" y1="193.23" x2="432.00" y2="193.23" stroke="#111111" stroke-width="1.35" stroke-linecap="butt"/>
<circle cx="430.33" cy="192.55" r="1.6" fill="#111"/>
<circle cx="429.48" cy="191.88" r="1.6" fill="#111"/>
<circle cx="429.51" cy="191.21" r="1.6" fill="#111"/>
<rect x="436.20" y="218.04" width="6.20" height="69.36" fill="#fff" stroke="#525ab0" stroke-width="1.2"/>
<line x1="439.30" y1="213.41" x2="439.30" y2="221.48" stroke="#111111" stroke-width="1.35" stroke-linecap="butt"/>
<line x1="436.70" y1="213.41" x2="441.90" y2="213.41" stroke="#111111" stroke-width="1.35" stroke-linecap="butt"/>
<line x1="436.70" y1="221.48" x2="441.90" y2="221.48" stroke="#111111" stroke-width="1.35" stroke-linecap="butt"/>
<circle cx="438.36" cy="220.13" r="1.6" fill="#111"/>
<circle cx="440.24" cy="218.12" r="1.6" fill="#111"/>
<circle cx="438.69" cy="213.41" r="1.6" fill="#111"/>
<rect x="452.20" y="220.81" width="7.20" height="66.59" fill="#5a61b6"/>
<line x1="455.80" y1="214.75" x2="455.80" y2="226.86" stroke="#111111" stroke-width="1.35" stroke-linecap="butt"/>
<line x1="453.20" y1="214.75" x2="458.40" y2="214.75" stroke="#111111" stroke-width="1.35" stroke-linecap="butt"/>
<line x1="453.20" y1="226.86" x2="458.40" y2="226.86" stroke="#111111" stroke-width="1.35" stroke-linecap="butt"/>
<circle cx="455.07" cy="225.51" r="1.6" fill="#111"/>
<circle cx="455.65" cy="220.13" r="1.6" fill="#111"/>
<circle cx="456.50" cy="215.42" r="1.6" fill="#111"/>
<rect x="462.60" y="223.42" width="6.00" height="63.98" fill="#fff" stroke="#525ab0" stroke-width="1.2"/>
<line x1="465.60" y1="218.79" x2="465.60" y2="226.86" stroke="#111111" stroke-width="1.35" stroke-linecap="butt"/>
<line x1="463.00" y1="218.79" x2="468.20" y2="218.79" stroke="#111111" stroke-width="1.35" stroke-linecap="butt"/>
<line x1="463.00" y1="226.86" x2="468.20" y2="226.86" stroke="#111111" stroke-width="1.35" stroke-linecap="butt"/>
<circle cx="464.97" cy="225.51" r="1.6" fill="#111"/>
<circle cx="465.73" cy="222.82" r="1.6" fill="#111"/>
<circle cx="465.86" cy="218.79" r="1.6" fill="#111"/>
<rect x="474.80" y="195.24" width="7.20" height="92.16" fill="#5a61b6"/>
<line x1="478.40" y1="191.21" x2="478.40" y2="199.28" stroke="#111111" stroke-width="1.35" stroke-linecap="butt"/>
<line x1="475.80" y1="191.21" x2="481.00" y2="191.21" stroke="#111111" stroke-width="1.35" stroke-linecap="butt"/>
<line x1="475.80" y1="199.28" x2="481.00" y2="199.28" stroke="#111111" stroke-width="1.35" stroke-linecap="butt"/>
<circle cx="478.26" cy="198.61" r="1.6" fill="#111"/>
<circle cx="478.45" cy="195.92" r="1.6" fill="#111"/>
<circle cx="477.78" cy="191.21" r="1.6" fill="#111"/>
<rect x="485.20" y="222.08" width="6.00" height="65.32" fill="#fff" stroke="#525ab0" stroke-width="1.2"/>
<line x1="488.20" y1="216.10" x2="488.20" y2="226.86" stroke="#111111" stroke-width="1.35" stroke-linecap="butt"/>
<line x1="485.60" y1="216.10" x2="490.80" y2="216.10" stroke="#111111" stroke-width="1.35" stroke-linecap="butt"/>
<line x1="485.60" y1="226.86" x2="490.80" y2="226.86" stroke="#111111" stroke-width="1.35" stroke-linecap="butt"/>
<circle cx="488.48" cy="225.51" r="1.6" fill="#111"/>
<circle cx="487.80" cy="221.48" r="1.6" fill="#111"/>
<circle cx="488.58" cy="216.77" r="1.6" fill="#111"/>
<line x1="401.00" y1="186.00" x2="401.00" y2="288.00" stroke="#111111" stroke-width="1.3" stroke-linecap="butt"/>
<line x1="397.10" y1="287.40" x2="401.00" y2="287.40" stroke="#111111" stroke-width="1.15" stroke-linecap="butt"/>
<text x="395.60" y="291.30" font-size="10.0" text-anchor="end" fill="#1c1c1c" stroke="#1c1c1c">0</text>
<line x1="397.10" y1="253.77" x2="401.00" y2="253.77" stroke="#111111" stroke-width="1.15" stroke-linecap="butt"/>
<text x="395.60" y="257.67" font-size="10.0" text-anchor="end" fill="#1c1c1c" stroke="#1c1c1c">50</text>
<line x1="397.10" y1="220.13" x2="401.00" y2="220.13" stroke="#111111" stroke-width="1.15" stroke-linecap="butt"/>
<text x="395.60" y="224.03" font-size="10.0" text-anchor="end" fill="#1c1c1c" stroke="#1c1c1c">100</text>
<line x1="397.10" y1="186.50" x2="401.00" y2="186.50" stroke="#111111" stroke-width="1.15" stroke-linecap="butt"/>
<text x="395.60" y="190.40" font-size="10.0" text-anchor="end" fill="#1c1c1c" stroke="#1c1c1c">150</text>
<line x1="449.50" y1="186.00" x2="449.50" y2="288.00" stroke="#111111" stroke-width="1.3" stroke-linecap="butt"/>
<line x1="446.90" y1="287.40" x2="449.50" y2="287.40" stroke="#111111" stroke-width="1.15" stroke-linecap="butt"/>
<line x1="446.90" y1="253.77" x2="449.50" y2="253.77" stroke="#111111" stroke-width="1.15" stroke-linecap="butt"/>
<line x1="446.90" y1="220.13" x2="449.50" y2="220.13" stroke="#111111" stroke-width="1.15" stroke-linecap="butt"/>
<line x1="446.90" y1="186.50" x2="449.50" y2="186.50" stroke="#111111" stroke-width="1.15" stroke-linecap="butt"/>
<line x1="400.40" y1="287.40" x2="446.00" y2="287.40" stroke="#111111" stroke-width="1.3" stroke-linecap="butt"/>
<line x1="448.90" y1="287.40" x2="494.50" y2="287.40" stroke="#111111" stroke-width="1.3" stroke-linecap="butt"/>
<line x1="411.80" y1="287.40" x2="411.80" y2="291.40" stroke="#111111" stroke-width="1.15" stroke-linecap="butt"/>
<text x="411.80" y="301.40" font-size="10.0" text-anchor="middle" fill="#1c1c1c" stroke="#1c1c1c">HE</text>
<line x1="434.30" y1="287.40" x2="434.30" y2="291.40" stroke="#111111" stroke-width="1.15" stroke-linecap="butt"/>
<text x="434.30" y="301.40" font-size="10.0" text-anchor="middle" fill="#1c1c1c" stroke="#1c1c1c">HP</text>
<line x1="460.70" y1="287.40" x2="460.70" y2="291.40" stroke="#111111" stroke-width="1.15" stroke-linecap="butt"/>
<text x="460.70" y="301.40" font-size="10.0" text-anchor="middle" fill="#1c1c1c" stroke="#1c1c1c">PE</text>
<line x1="483.30" y1="287.40" x2="483.30" y2="291.40" stroke="#111111" stroke-width="1.15" stroke-linecap="butt"/>
<text x="483.30" y="301.40" font-size="10.0" text-anchor="middle" fill="#1c1c1c" stroke="#1c1c1c">PP</text>
<text x="363.40" y="237.30" font-size="10.0" text-anchor="middle" transform="rotate(-90 363.40 237.30)" fill="#1c1c1c" stroke="#1c1c1c">Relative</text>
<text x="375.60" y="237.30" font-size="10.0" text-anchor="middle" transform="rotate(-90 375.60 237.30)" fill="#1c1c1c" stroke="#1c1c1c">wound confluency (%)</text>
<polyline points="429.60,189.80 429.60,185.00 439.40,185.00 439.40,215.40" fill="none" stroke="#111111" stroke-width="1.3"/>
<text x="434.50" y="185.50" font-size="10.5" text-anchor="middle" fill="#0a0a0a" stroke="#0a0a0a">**</text>
<polyline points="478.60,191.00 478.60,185.00 488.40,185.00 488.40,215.40" fill="none" stroke="#111111" stroke-width="1.3"/>
<text x="483.50" y="185.50" font-size="10.5" text-anchor="middle" fill="#0a0a0a" stroke="#0a0a0a">**</text>
<text x="1.00" y="334.70" font-size="14.6" font-weight="bold" fill="#0a0a0a" stroke="#0a0a0a" style="stroke-width:0">G</text>
<text x="58.20" y="353.00" font-size="10.0" text-anchor="middle" fill="#1c1c1c" stroke="#1c1c1c">PE</text>
<text x="75.00" y="353.00" font-size="10.0" text-anchor="middle" fill="#1c1c1c" stroke="#1c1c1c">PP</text>
<text x="91.60" y="353.00" font-size="10.0" text-anchor="middle" fill="#1c1c1c" stroke="#1c1c1c">PD</text>
<text x="50.00" y="367.30" font-size="10.5" text-anchor="end" fill="#555555" stroke="#555555">pSTAT3</text>
<text x="50.00" y="385.60" font-size="10.5" text-anchor="end" fill="#1c1c1c" stroke="#1c1c1c">STAT3</text>
<text x="50.00" y="403.60" font-size="10.5" text-anchor="end" fill="#555555" stroke="#555555">β-Actin</text>
<clipPath id="c15"><rect x="53.50" y="356.40" width="44.30" height="14.60"/></clipPath>
<rect x="53.50" y="356.40" width="44.30" height="14.60" fill="#e6e6e6"/>
<g clip-path="url(#c15)"><g filter="url(#b1)">
<rect x="55.25" y="362.80" width="11.50" height="2.40" rx="1.20" fill="#0a0a0a" opacity="0.45"/>
<rect x="70.05" y="362.30" width="11.50" height="2.80" rx="1.40" fill="#0a0a0a" opacity="0.7"/>
<rect x="85.35" y="362.30" width="10.50" height="2.80" rx="1.40" fill="#0a0a0a" opacity="0.7"/>
</g></g>
<rect x="53.50" y="356.40" width="44.30" height="14.60" fill="none" stroke="#222" stroke-width="1.0"/>
<clipPath id="c16"><rect x="53.50" y="374.60" width="44.30" height="14.80"/></clipPath>
<rect x="53.50" y="374.60" width="44.30" height="14.80" fill="#e2e2e2"/>
<g clip-path="url(#c16)"><g filter="url(#b1)">
<rect x="54.75" y="380.30" width="12.50" height="3.40" rx="1.50" fill="#0a0a0a" opacity="1.0"/>
<rect x="69.30" y="380.10" width="13.00" height="3.80" rx="1.50" fill="#0a0a0a" opacity="1.0"/>
<rect x="84.85" y="380.30" width="11.50" height="3.40" rx="1.50" fill="#0a0a0a" opacity="1.0"/>
<rect x="57.50" y="381.40" width="36.00" height="1.20" rx="0.60" fill="#0a0a0a" opacity="0.7"/>
</g></g>
<rect x="53.50" y="374.60" width="44.30" height="14.80" fill="none" stroke="#222" stroke-width="1.0"/>
<clipPath id="c17"><rect x="53.50" y="392.60" width="44.30" height="14.80"/></clipPath>
<rect x="53.50" y="392.60" width="44.30" height="14.80" fill="#ececec"/>
<g clip-path="url(#c17)"><g filter="url(#b1)">
<rect x="55.00" y="398.70" width="12.00" height="2.60" rx="1.30" fill="#0a0a0a" opacity="1.0"/>
<rect x="69.80" y="398.70" width="12.00" height="2.60" rx="1.30" fill="#0a0a0a" opacity="1.0"/>
<rect x="84.60" y="398.70" width="12.00" height="2.60" rx="1.30" fill="#0a0a0a" opacity="1.0"/>
<rect x="55.50" y="399.50" width="40.00" height="1.00" rx="0.50" fill="#0a0a0a" opacity="0.9"/>
</g></g>
<rect x="53.50" y="392.60" width="44.30" height="14.80" fill="none" stroke="#222" stroke-width="1.0"/>
<text x="117.60" y="334.70" font-size="14.6" font-weight="bold" fill="#0a0a0a" stroke="#0a0a0a" style="stroke-width:0">H</text>
<text x="167.80" y="352.40" font-size="10.0" text-anchor="middle" fill="#1c1c1c" stroke="#1c1c1c">HE</text>
<text x="184.60" y="352.40" font-size="10.0" text-anchor="middle" fill="#1c1c1c" stroke="#1c1c1c">HP</text>
<text x="201.20" y="352.40" font-size="10.0" text-anchor="middle" fill="#1c1c1c" stroke="#1c1c1c">HD</text>
<text x="159.40" y="367.05" font-size="10.5" text-anchor="end" fill="#333333" stroke="#333333">pSTAT3</text>
<text x="159.40" y="385.55" font-size="10.5" text-anchor="end" fill="#1c1c1c" stroke="#1c1c1c">STAT3</text>
<text x="159.40" y="403.60" font-size="10.5" text-anchor="end" fill="#1c1c1c" stroke="#1c1c1c">Ku86</text>
<clipPath id="c18"><rect x="161.00" y="356.30" width="44.20" height="14.30"/></clipPath>
<rect x="161.00" y="356.30" width="44.20" height="14.30" fill="#e6e6e6"/>
<g clip-path="url(#c18)"><g filter="url(#b1)">
<rect x="164.10" y="362.85" width="9.00" height="1.80" rx="0.90" fill="#0a0a0a" opacity="0.2"/>
<rect x="178.65" y="362.15" width="9.50" height="2.60" rx="1.30" fill="#0a0a0a" opacity="0.6"/>
<rect x="192.85" y="362.15" width="9.50" height="2.60" rx="1.30" fill="#0a0a0a" opacity="0.65"/>
</g></g>
<rect x="161.00" y="356.30" width="44.20" height="14.30" fill="none" stroke="#222" stroke-width="1.0"/>
<clipPath id="c19"><rect x="161.00" y="374.50" width="44.20" height="14.90"/></clipPath>
<rect x="161.00" y="374.50" width="44.20" height="14.90" fill="#dedede"/>
<g clip-path="url(#c19)"><g filter="url(#b1)">
<rect x="162.10" y="379.55" width="13.00" height="4.80" rx="1.50" fill="#0a0a0a" opacity="1.0"/>
<rect x="176.65" y="379.05" width="13.50" height="5.80" rx="1.50" fill="#0a0a0a" opacity="1.0"/>
<rect x="191.60" y="379.45" width="12.00" height="5.00" rx="1.50" fill="#0a0a0a" opacity="1.0"/>
</g></g>
<rect x="161.00" y="374.50" width="44.20" height="14.90" fill="none" stroke="#222" stroke-width="1.0"/>
<clipPath id="c20"><rect x="161.00" y="392.60" width="44.20" height="14.80"/></clipPath>
<rect x="161.00" y="392.60" width="44.20" height="14.80" fill="#eeeeee"/>
<g clip-path="url(#c20)"><g filter="url(#b1)">
<rect x="163.10" y="398.80" width="11.00" height="2.40" rx="1.20" fill="#0a0a0a" opacity="1.0"/>
<rect x="178.65" y="399.10" width="9.50" height="2.40" rx="1.20" fill="#0a0a0a" opacity="0.95"/>
<rect x="192.85" y="399.20" width="9.50" height="2.20" rx="1.10" fill="#0a0a0a" opacity="0.9"/>
</g></g>
<rect x="161.00" y="392.60" width="44.20" height="14.80" fill="none" stroke="#222" stroke-width="1.0"/>
<text x="238.00" y="334.90" font-size="14.6" font-weight="bold" fill="#0a0a0a" stroke="#0a0a0a" style="stroke-width:0">I</text>
<rect x="271.80" y="327.50" width="8.00" height="8.00" fill="#5a61b6"/>
<text x="282.60" y="335.00" font-size="10.0" textLength="20.40" lengthAdjust="spacingAndGlyphs" fill="#1c1c1c" stroke="#1c1c1c">siNC</text>
<clipPath id="c21"><rect x="307.80" y="327.50" width="8.00" height="8.00"/></clipPath>
<rect x="307.80" y="327.50" width="8.00" height="8.00" fill="#fff"/>
<g clip-path="url(#c21)" stroke="#5a61b6" stroke-width="2.3">
<line x1="305.80" y1="325.50" x2="317.80" y2="337.50"/>
<line x1="305.80" y1="316.50" x2="317.80" y2="328.50"/>
<line x1="305.80" y1="307.50" x2="317.80" y2="319.50"/>
</g>
<rect x="308.35" y="328.05" width="6.90" height="7.45" fill="none" stroke="#525ab0" stroke-width="1.1"/>
<text x="318.00" y="335.00" font-size="10.0" textLength="45.80" lengthAdjust="spacingAndGlyphs" fill="#1c1c1c" stroke="#1c1c1c">siSTAT3#4</text>
<clipPath id="c22"><rect x="371.00" y="327.50" width="8.00" height="8.00"/></clipPath>
<rect x="371.00" y="327.50" width="8.00" height="8.00" fill="#fff"/>
<g clip-path="url(#c22)" fill="#5a61b6">
<rect x="369.45" y="333.20" width="2.3" height="2.3"/>
<rect x="374.05" y="333.20" width="2.3" height="2.3"/>
<rect x="378.65" y="333.20" width="2.3" height="2.3"/>
<rect x="371.75" y="330.90" width="2.3" height="2.3"/>
<rect x="376.35" y="330.90" width="2.3" height="2.3"/>
<rect x="380.95" y="330.90" width="2.3" height="2.3"/>
<rect x="369.45" y="328.60" width="2.3" height="2.3"/>
<rect x="374.05" y="328.60" width="2.3" height="2.3"/>
<rect x="378.65" y="328.60" width="2.3" height="2.3"/>
<rect x="371.75" y="326.30" width="2.3" height="2.3"/>
<rect x="376.35" y="326.30" width="2.3" height="2.3"/>
<rect x="380.95" y="326.30" width="2.3" height="2.3"/>
</g>
<rect x="371.55" y="328.05" width="6.90" height="7.45" fill="none" stroke="#525ab0" stroke-width="1.1"/>
<text x="382.80" y="335.00" font-size="10.0" textLength="45.80" lengthAdjust="spacingAndGlyphs" fill="#1c1c1c" stroke="#1c1c1c">siSTAT3#5</text>
<rect x="283.30" y="401.43" width="7.00" height="43.07" fill="#5a61b6"/>
<line x1="286.80" y1="396.59" x2="286.80" y2="404.07" stroke="#111111" stroke-width="1.35" stroke-linecap="butt"/>
<line x1="284.55" y1="396.59" x2="289.05" y2="396.59" stroke="#111111" stroke-width="1.35" stroke-linecap="butt"/>
<line x1="284.55" y1="404.07" x2="289.05" y2="404.07" stroke="#111111" stroke-width="1.35" stroke-linecap="butt"/>
<circle cx="287.45" cy="403.58" r="1.6" fill="#111"/>
<circle cx="287.79" cy="400.33" r="1.6" fill="#111"/>
<circle cx="286.97" cy="397.08" r="1.6" fill="#111"/>
<clipPath id="c23"><rect x="290.75" y="411.54" width="6.50" height="32.96"/></clipPath>
<rect x="290.75" y="411.54" width="6.50" height="32.96" fill="#fff"/>
<g clip-path="url(#c23)" stroke="#5a61b6" stroke-width="2.15">
<line x1="288.75" y1="435.70" x2="299.25" y2="446.57"/>
<line x1="288.75" y1="428.40" x2="299.25" y2="439.27"/>
<line x1="288.75" y1="421.10" x2="299.25" y2="431.97"/>
<line x1="288.75" y1="413.80" x2="299.25" y2="424.67"/>
<line x1="288.75" y1="406.50" x2="299.25" y2="417.37"/>
<line x1="288.75" y1="399.20" x2="299.25" y2="410.07"/>
<line x1="288.75" y1="391.90" x2="299.25" y2="402.77"/>
</g>
<rect x="291.20" y="411.99" width="5.60" height="32.51" fill="none" stroke="#525ab0" stroke-width="0.9"/>
<line x1="294.00" y1="406.26" x2="294.00" y2="415.49" stroke="#111111" stroke-width="1.35" stroke-linecap="butt"/>
<line x1="291.75" y1="406.26" x2="296.25" y2="406.26" stroke="#111111" stroke-width="1.35" stroke-linecap="butt"/>
<line x1="291.75" y1="415.49" x2="296.25" y2="415.49" stroke="#111111" stroke-width="1.35" stroke-linecap="butt"/>
<circle cx="294.31" cy="414.89" r="1.6" fill="#111"/>
<circle cx="294.28" cy="410.88" r="1.6" fill="#111"/>
<circle cx="293.43" cy="406.87" r="1.6" fill="#111"/>
<text x="299.30" y="398.60" font-size="9.7" transform="rotate(-90 299.30 398.60)" fill="#000" stroke="#000" style="stroke-width:0.5px">*</text>
<clipPath id="c24"><rect x="298.20" y="415.93" width="6.30" height="28.57"/></clipPath>
<rect x="298.20" y="415.93" width="6.30" height="28.57" fill="#fff"/>
<g clip-path="url(#c24)" fill="#5a61b6">
<rect x="296.60" y="442.15" width="2.35" height="2.35"/>
<rect x="301.30" y="442.15" width="2.35" height="2.35"/>
<rect x="306.00" y="442.15" width="2.35" height="2.35"/>
<rect x="298.95" y="439.80" width="2.35" height="2.35"/>
<rect x="303.65" y="439.80" width="2.35" height="2.35"/>
<rect x="296.60" y="437.45" width="2.35" height="2.35"/>
<rect x="301.30" y="437.45" width="2.35" height="2.35"/>
<rect x="306.00" y="437.45" width="2.35" height="2.35"/>
<rect x="298.95" y="435.10" width="2.35" height="2.35"/>
<rect x="303.65" y="435.10" width="2.35" height="2.35"/>
<rect x="296.60" y="432.75" width="2.35" height="2.35"/>
<rect x="301.30" y="432.75" width="2.35" height="2.35"/>
<rect x="306.00" y="432.75" width="2.35" height="2.35"/>
<rect x="298.95" y="430.40" width="2.35" height="2.35"/>
<rect x="303.65" y="430.40" width="2.35" height="2.35"/>
<rect x="296.60" y="428.05" width="2.35" height="2.35"/>
<rect x="301.30" y="428.05" width="2.35" height="2.35"/>
<rect x="306.00" y="428.05" width="2.35" height="2.35"/>
<rect x="298.95" y="425.70" width="2.35" height="2.35"/>
<rect x="303.65" y="425.70" width="2.35" height="2.35"/>
<rect x="296.60" y="423.35" width="2.35" height="2.35"/>
<rect x="301.30" y="423.35" width="2.35" height="2.35"/>
<rect x="306.00" y="423.35" width="2.35" height="2.35"/>
<rect x="298.95" y="421.00" width="2.35" height="2.35"/>
<rect x="303.65" y="421.00" width="2.35" height="2.35"/>
<rect x="296.60" y="418.65" width="2.35" height="2.35"/>
<rect x="301.30" y="418.65" width="2.35" height="2.35"/>
<rect x="306.00" y="418.65" width="2.35" height="2.35"/>
<rect x="298.95" y="416.30" width="2.35" height="2.35"/>
<rect x="303.65" y="416.30" width="2.35" height="2.35"/>
<rect x="296.60" y="413.95" width="2.35" height="2.35"/>
<rect x="301.30" y="413.95" width="2.35" height="2.35"/>
<rect x="306.00" y="413.95" width="2.35" height="2.35"/>
</g>
<rect x="298.65" y="416.38" width="5.40" height="28.12" fill="none" stroke="#525ab0" stroke-width="0.9"/>
<line x1="301.45" y1="412.42" x2="301.45" y2="422.09" stroke="#111111" stroke-width="1.35" stroke-linecap="butt"/>
<line x1="299.20" y1="412.42" x2="303.70" y2="412.42" stroke="#111111" stroke-width="1.35" stroke-linecap="butt"/>
<line x1="299.20" y1="422.09" x2="303.70" y2="422.09" stroke="#111111" stroke-width="1.35" stroke-linecap="butt"/>
<circle cx="301.46" cy="421.45" r="1.6" fill="#111"/>
<circle cx="300.72" cy="417.25" r="1.6" fill="#111"/>
<circle cx="301.12" cy="413.05" r="1.6" fill="#111"/>
<text x="306.75" y="405.20" font-size="9.7" transform="rotate(-90 306.75 405.20)" fill="#000" stroke="#000" style="stroke-width:0.5px">**</text>
<rect x="306.70" y="357.48" width="7.00" height="87.02" fill="#5a61b6"/>
<line x1="310.20" y1="348.69" x2="310.20" y2="362.75" stroke="#111111" stroke-width="1.35" stroke-linecap="butt"/>
<line x1="307.95" y1="348.69" x2="312.45" y2="348.69" stroke="#111111" stroke-width="1.35" stroke-linecap="butt"/>
<line x1="307.95" y1="362.75" x2="312.45" y2="362.75" stroke="#111111" stroke-width="1.35" stroke-linecap="butt"/>
<circle cx="309.48" cy="361.84" r="1.6" fill="#111"/>
<circle cx="309.88" cy="355.72" r="1.6" fill="#111"/>
<circle cx="309.52" cy="349.61" r="1.6" fill="#111"/>
<clipPath id="c25"><rect x="314.15" y="410.66" width="6.50" height="33.84"/></clipPath>
<rect x="314.15" y="410.66" width="6.50" height="33.84" fill="#fff"/>
<g clip-path="url(#c25)" stroke="#5a61b6" stroke-width="2.15">
<line x1="312.15" y1="435.70" x2="322.65" y2="446.57"/>
<line x1="312.15" y1="428.40" x2="322.65" y2="439.27"/>
<line x1="312.15" y1="421.10" x2="322.65" y2="431.97"/>
<line x1="312.15" y1="413.80" x2="322.65" y2="424.67"/>
<line x1="312.15" y1="406.50" x2="322.65" y2="417.37"/>
<line x1="312.15" y1="399.20" x2="322.65" y2="410.07"/>
<line x1="312.15" y1="391.90" x2="322.65" y2="402.77"/>
</g>
<rect x="314.60" y="411.11" width="5.60" height="33.39" fill="none" stroke="#525ab0" stroke-width="0.9"/>
<line x1="317.40" y1="403.63" x2="317.40" y2="415.49" stroke="#111111" stroke-width="1.35" stroke-linecap="butt"/>
<line x1="315.15" y1="403.63" x2="319.65" y2="403.63" stroke="#111111" stroke-width="1.35" stroke-linecap="butt"/>
<line x1="315.15" y1="415.49" x2="319.65" y2="415.49" stroke="#111111" stroke-width="1.35" stroke-linecap="butt"/>
<circle cx="317.32" cy="414.72" r="1.6" fill="#111"/>
<circle cx="317.56" cy="409.56" r="1.6" fill="#111"/>
<circle cx="318.07" cy="404.40" r="1.6" fill="#111"/>
<text x="322.70" y="397.80" font-size="9.7" transform="rotate(-90 322.70 397.80)" fill="#000" stroke="#000" style="stroke-width:0.5px">***</text>
<clipPath id="c26"><rect x="321.60" y="419.01" width="6.30" height="25.49"/></clipPath>
<rect x="321.60" y="419.01" width="6.30" height="25.49" fill="#fff"/>
<g clip-path="url(#c26)" fill="#5a61b6">
<rect x="320.00" y="442.15" width="2.35" height="2.35"/>
<rect x="324.70" y="442.15" width="2.35" height="2.35"/>
<rect x="329.40" y="442.15" width="2.35" height="2.35"/>
<rect x="322.35" y="439.80" width="2.35" height="2.35"/>
<rect x="327.05" y="439.80" width="2.35" height="2.35"/>
<rect x="320.00" y="437.45" width="2.35" height="2.35"/>
<rect x="324.70" y="437.45" width="2.35" height="2.35"/>
<rect x="329.40" y="437.45" width="2.35" height="2.35"/>
<rect x="322.35" y="435.10" width="2.35" height="2.35"/>
<rect x="327.05" y="435.10" width="2.35" height="2.35"/>
<rect x="320.00" y="432.75" width="2.35" height="2.35"/>
<rect x="324.70" y="432.75" width="2.35" height="2.35"/>
<rect x="329.40" y="432.75" width="2.35" height="2.35"/>
<rect x="322.35" y="430.40" width="2.35" height="2.35"/>
<rect x="327.05" y="430.40" width="2.35" height="2.35"/>
<rect x="320.00" y="428.05" width="2.35" height="2.35"/>
<rect x="324.70" y="428.05" width="2.35" height="2.35"/>
<rect x="329.40" y="428.05" width="2.35" height="2.35"/>
<rect x="322.35" y="425.70" width="2.35" height="2.35"/>
<rect x="327.05" y="425.70" width="2.35" height="2.35"/>
<rect x="320.00" y="423.35" width="2.35" height="2.35"/>
<rect x="324.70" y="423.35" width="2.35" height="2.35"/>
<rect x="329.40" y="423.35" width="2.35" height="2.35"/>
<rect x="322.35" y="421.00" width="2.35" height="2.35"/>
<rect x="327.05" y="421.00" width="2.35" height="2.35"/>
<rect x="320.00" y="418.65" width="2.35" height="2.35"/>
<rect x="324.70" y="418.65" width="2.35" height="2.35"/>
<rect x="329.40" y="418.65" width="2.35" height="2.35"/>
</g>
<rect x="322.05" y="419.46" width="5.40" height="25.04" fill="none" stroke="#525ab0" stroke-width="0.9"/>
<line x1="324.85" y1="414.17" x2="324.85" y2="426.92" stroke="#111111" stroke-width="1.35" stroke-linecap="butt"/>
<line x1="322.60" y1="414.17" x2="327.10" y2="414.17" stroke="#111111" stroke-width="1.35" stroke-linecap="butt"/>
<line x1="322.60" y1="426.92" x2="327.10" y2="426.92" stroke="#111111" stroke-width="1.35" stroke-linecap="butt"/>
<circle cx="324.08" cy="426.09" r="1.6" fill="#111"/>
<circle cx="325.61" cy="420.55" r="1.6" fill="#111"/>
<circle cx="324.37" cy="415.01" r="1.6" fill="#111"/>
<text x="330.15" y="407.20" font-size="9.7" transform="rotate(-90 330.15 407.20)" fill="#000" stroke="#000" style="stroke-width:0.5px">***</text>
<rect x="329.90" y="357.92" width="7.00" height="86.58" fill="#5a61b6"/>
<line x1="333.40" y1="345.61" x2="333.40" y2="368.47" stroke="#111111" stroke-width="1.35" stroke-linecap="butt"/>
<line x1="331.15" y1="345.61" x2="335.65" y2="345.61" stroke="#111111" stroke-width="1.35" stroke-linecap="butt"/>
<line x1="331.15" y1="368.47" x2="335.65" y2="368.47" stroke="#111111" stroke-width="1.35" stroke-linecap="butt"/>
<circle cx="333.97" cy="366.98" r="1.6" fill="#111"/>
<circle cx="333.38" cy="357.04" r="1.6" fill="#111"/>
<circle cx="333.14" cy="347.10" r="1.6" fill="#111"/>
<clipPath id="c27"><rect x="337.35" y="416.37" width="6.50" height="28.13"/></clipPath>
<rect x="337.35" y="416.37" width="6.50" height="28.13" fill="#fff"/>
<g clip-path="url(#c27)" stroke="#5a61b6" stroke-width="2.15">
<line x1="335.35" y1="435.70" x2="345.85" y2="446.57"/>
<line x1="335.35" y1="428.40" x2="345.85" y2="439.27"/>
<line x1="335.35" y1="421.10" x2="345.85" y2="431.97"/>
<line x1="335.35" y1="413.80" x2="345.85" y2="424.67"/>
<line x1="335.35" y1="406.50" x2="345.85" y2="417.37"/>
<line x1="335.35" y1="399.20" x2="345.85" y2="410.07"/>
</g>
<rect x="337.80" y="416.82" width="5.60" height="27.68" fill="none" stroke="#525ab0" stroke-width="0.9"/>
<line x1="340.60" y1="409.78" x2="340.60" y2="422.96" stroke="#111111" stroke-width="1.35" stroke-linecap="butt"/>
<line x1="338.35" y1="409.78" x2="342.85" y2="409.78" stroke="#111111" stroke-width="1.35" stroke-linecap="butt"/>
<line x1="338.35" y1="422.96" x2="342.85" y2="422.96" stroke="#111111" stroke-width="1.35" stroke-linecap="butt"/>
<circle cx="340.56" cy="422.10" r="1.6" fill="#111"/>
<circle cx="340.86" cy="416.37" r="1.6" fill="#111"/>
<circle cx="341.58" cy="410.64" r="1.6" fill="#111"/>
<text x="345.90" y="402.60" font-size="9.7" transform="rotate(-90 345.90 402.60)" fill="#000" stroke="#000" style="stroke-width:0.5px">**</text>
<clipPath id="c28"><rect x="344.80" y="423.40" width="6.30" height="21.10"/></clipPath>
<rect x="344.80" y="423.40" width="6.30" height="21.10" fill="#fff"/>
<g clip-path="url(#c28)" fill="#5a61b6">
<rect x="343.20" y="442.15" width="2.35" height="2.35"/>
<rect x="347.90" y="442.15" width="2.35" height="2.35"/>
<rect x="352.60" y="442.15" width="2.35" height="2.35"/>
<rect x="345.55" y="439.80" width="2.35" height="2.35"/>
<rect x="350.25" y="439.80" width="2.35" height="2.35"/>
<rect x="343.20" y="437.45" width="2.35" height="2.35"/>
<rect x="347.90" y="437.45" width="2.35" height="2.35"/>
<rect x="352.60" y="437.45" width="2.35" height="2.35"/>
<rect x="345.55" y="435.10" width="2.35" height="2.35"/>
<rect x="350.25" y="435.10" width="2.35" height="2.35"/>
<rect x="343.20" y="432.75" width="2.35" height="2.35"/>
<rect x="347.90" y="432.75" width="2.35" height="2.35"/>
<rect x="352.60" y="432.75" width="2.35" height="2.35"/>
<rect x="345.55" y="430.40" width="2.35" height="2.35"/>
<rect x="350.25" y="430.40" width="2.35" height="2.35"/>
<rect x="343.20" y="428.05" width="2.35" height="2.35"/>
<rect x="347.90" y="428.05" width="2.35" height="2.35"/>
<rect x="352.60" y="428.05" width="2.35" height="2.35"/>
<rect x="345.55" y="425.70" width="2.35" height="2.35"/>
<rect x="350.25" y="425.70" width="2.35" height="2.35"/>
<rect x="343.20" y="423.35" width="2.35" height="2.35"/>
<rect x="347.90" y="423.35" width="2.35" height="2.35"/>
<rect x="352.60" y="423.35" width="2.35" height="2.35"/>
</g>
<rect x="345.25" y="423.85" width="5.40" height="20.65" fill="none" stroke="#525ab0" stroke-width="0.9"/>
<line x1="348.05" y1="419.01" x2="348.05" y2="426.92" stroke="#111111" stroke-width="1.35" stroke-linecap="butt"/>
<line x1="345.80" y1="419.01" x2="350.30" y2="419.01" stroke="#111111" stroke-width="1.35" stroke-linecap="butt"/>
<line x1="345.80" y1="426.92" x2="350.30" y2="426.92" stroke="#111111" stroke-width="1.35" stroke-linecap="butt"/>
<circle cx="348.14" cy="426.40" r="1.6" fill="#111"/>
<circle cx="348.41" cy="422.96" r="1.6" fill="#111"/>
<circle cx="348.04" cy="419.52" r="1.6" fill="#111"/>
<text x="353.35" y="412.80" font-size="9.7" transform="rotate(-90 353.35 412.80)" fill="#000" stroke="#000" style="stroke-width:0.5px">***</text>
<rect x="361.00" y="401.43" width="7.00" height="43.07" fill="#5a61b6"/>
<line x1="364.50" y1="397.47" x2="364.50" y2="404.07" stroke="#111111" stroke-width="1.35" stroke-linecap="butt"/>
<line x1="362.25" y1="397.47" x2="366.75" y2="397.47" stroke="#111111" stroke-width="1.35" stroke-linecap="butt"/>
<line x1="362.25" y1="404.07" x2="366.75" y2="404.07" stroke="#111111" stroke-width="1.35" stroke-linecap="butt"/>
<circle cx="364.95" cy="403.64" r="1.6" fill="#111"/>
<circle cx="365.42" cy="400.77" r="1.6" fill="#111"/>
<circle cx="363.86" cy="397.90" r="1.6" fill="#111"/>
<clipPath id="c29"><rect x="368.45" y="416.37" width="6.50" height="28.13"/></clipPath>
<rect x="368.45" y="416.37" width="6.50" height="28.13" fill="#fff"/>
<g clip-path="url(#c29)" stroke="#5a61b6" stroke-width="2.15">
<line x1="366.45" y1="435.70" x2="376.95" y2="446.57"/>
<line x1="366.45" y1="428.40" x2="376.95" y2="439.27"/>
<line x1="366.45" y1="421.10" x2="376.95" y2="431.97"/>
<line x1="366.45" y1="413.80" x2="376.95" y2="424.67"/>
<line x1="366.45" y1="406.50" x2="376.95" y2="417.37"/>
<line x1="366.45" y1="399.20" x2="376.95" y2="410.07"/>
</g>
<rect x="368.90" y="416.82" width="5.60" height="27.68" fill="none" stroke="#525ab0" stroke-width="0.9"/>
<line x1="371.70" y1="409.78" x2="371.70" y2="419.01" stroke="#111111" stroke-width="1.35" stroke-linecap="butt"/>
<line x1="369.45" y1="409.78" x2="373.95" y2="409.78" stroke="#111111" stroke-width="1.35" stroke-linecap="butt"/>
<line x1="369.45" y1="419.01" x2="373.95" y2="419.01" stroke="#111111" stroke-width="1.35" stroke-linecap="butt"/>
<circle cx="372.11" cy="418.41" r="1.6" fill="#111"/>
<circle cx="371.81" cy="414.39" r="1.6" fill="#111"/>
<circle cx="372.28" cy="410.38" r="1.6" fill="#111"/>
<text x="377.00" y="401.80" font-size="9.7" transform="rotate(-90 377.00 401.80)" fill="#000" stroke="#000" style="stroke-width:0.5px">*</text>
<clipPath id="c30"><rect x="375.90" y="417.69" width="6.30" height="26.81"/></clipPath>
<rect x="375.90" y="417.69" width="6.30" height="26.81" fill="#fff"/>
<g clip-path="url(#c30)" fill="#5a61b6">
<rect x="374.30" y="442.15" width="2.35" height="2.35"/>
<rect x="379.00" y="442.15" width="2.35" height="2.35"/>
<rect x="383.70" y="442.15" width="2.35" height="2.35"/>
<rect x="376.65" y="439.80" width="2.35" height="2.35"/>
<rect x="381.35" y="439.80" width="2.35" height="2.35"/>
<rect x="374.30" y="437.45" width="2.35" height="2.35"/>
<rect x="379.00" y="437.45" width="2.35" height="2.35"/>
<rect x="383.70" y="437.45" width="2.35" height="2.35"/>
<rect x="376.65" y="435.10" width="2.35" height="2.35"/>
<rect x="381.35" y="435.10" width="2.35" height="2.35"/>
<rect x="374.30" y="432.75" width="2.35" height="2.35"/>
<rect x="379.00" y="432.75" width="2.35" height="2.35"/>
<rect x="383.70" y="432.75" width="2.35" height="2.35"/>
<rect x="376.65" y="430.40" width="2.35" height="2.35"/>
<rect x="381.35" y="430.40" width="2.35" height="2.35"/>
<rect x="374.30" y="428.05" width="2.35" height="2.35"/>
<rect x="379.00" y="428.05" width="2.35" height="2.35"/>
<rect x="383.70" y="428.05" width="2.35" height="2.35"/>
<rect x="376.65" y="425.70" width="2.35" height="2.35"/>
<rect x="381.35" y="425.70" width="2.35" height="2.35"/>
<rect x="374.30" y="423.35" width="2.35" height="2.35"/>
<rect x="379.00" y="423.35" width="2.35" height="2.35"/>
<rect x="383.70" y="423.35" width="2.35" height="2.35"/>
<rect x="376.65" y="421.00" width="2.35" height="2.35"/>
<rect x="381.35" y="421.00" width="2.35" height="2.35"/>
<rect x="374.30" y="418.65" width="2.35" height="2.35"/>
<rect x="379.00" y="418.65" width="2.35" height="2.35"/>
<rect x="383.70" y="418.65" width="2.35" height="2.35"/>
<rect x="376.65" y="416.30" width="2.35" height="2.35"/>
<rect x="381.35" y="416.30" width="2.35" height="2.35"/>
</g>
<rect x="376.35" y="418.14" width="5.40" height="26.36" fill="none" stroke="#525ab0" stroke-width="0.9"/>
<line x1="379.15" y1="415.49" x2="379.15" y2="419.89" stroke="#111111" stroke-width="1.35" stroke-linecap="butt"/>
<line x1="376.90" y1="415.49" x2="381.40" y2="415.49" stroke="#111111" stroke-width="1.35" stroke-linecap="butt"/>
<line x1="376.90" y1="419.89" x2="381.40" y2="419.89" stroke="#111111" stroke-width="1.35" stroke-linecap="butt"/>
<circle cx="378.29" cy="419.60" r="1.6" fill="#111"/>
<circle cx="378.32" cy="417.69" r="1.6" fill="#111"/>
<circle cx="378.59" cy="415.78" r="1.6" fill="#111"/>
<text x="384.45" y="411.00" font-size="9.7" transform="rotate(-90 384.45 411.00)" fill="#000" stroke="#000" style="stroke-width:0.5px">***</text>
<rect x="384.20" y="358.80" width="7.00" height="85.70" fill="#5a61b6"/>
<line x1="387.70" y1="356.60" x2="387.70" y2="361.00" stroke="#111111" stroke-width="1.35" stroke-linecap="butt"/>
<line x1="385.45" y1="356.60" x2="389.95" y2="356.60" stroke="#111111" stroke-width="1.35" stroke-linecap="butt"/>
<line x1="385.45" y1="361.00" x2="389.95" y2="361.00" stroke="#111111" stroke-width="1.35" stroke-linecap="butt"/>
<circle cx="386.64" cy="360.71" r="1.6" fill="#111"/>
<circle cx="387.57" cy="358.80" r="1.6" fill="#111"/>
<circle cx="387.33" cy="356.89" r="1.6" fill="#111"/>
<clipPath id="c31"><rect x="391.65" y="427.80" width="6.50" height="16.70"/></clipPath>
<rect x="391.65" y="427.80" width="6.50" height="16.70" fill="#fff"/>
<g clip-path="url(#c31)" stroke="#5a61b6" stroke-width="2.15">
<line x1="389.65" y1="435.70" x2="400.15" y2="446.57"/>
<line x1="389.65" y1="428.40" x2="400.15" y2="439.27"/>
<line x1="389.65" y1="421.10" x2="400.15" y2="431.97"/>
<line x1="389.65" y1="413.80" x2="400.15" y2="424.67"/>
<line x1="389.65" y1="406.50" x2="400.15" y2="417.37"/>
</g>
<rect x="392.10" y="428.25" width="5.60" height="16.25" fill="none" stroke="#525ab0" stroke-width="0.9"/>
<line x1="394.90" y1="426.48" x2="394.90" y2="429.12" stroke="#111111" stroke-width="1.35" stroke-linecap="butt"/>
<line x1="392.65" y1="426.48" x2="397.15" y2="426.48" stroke="#111111" stroke-width="1.35" stroke-linecap="butt"/>
<line x1="392.65" y1="429.12" x2="397.15" y2="429.12" stroke="#111111" stroke-width="1.35" stroke-linecap="butt"/>
<circle cx="393.84" cy="428.95" r="1.6" fill="#111"/>
<circle cx="394.09" cy="427.80" r="1.6" fill="#111"/>
<circle cx="395.16" cy="426.65" r="1.6" fill="#111"/>
<text x="400.20" y="413.80" font-size="9.7" transform="rotate(-90 400.20 413.80)" fill="#000" stroke="#000" style="stroke-width:0.5px">****</text>
<clipPath id="c32"><rect x="399.10" y="426.04" width="6.30" height="18.46"/></clipPath>
<rect x="399.10" y="426.04" width="6.30" height="18.46" fill="#fff"/>
<g clip-path="url(#c32)" fill="#5a61b6">
<rect x="397.50" y="442.15" width="2.35" height="2.35"/>
<rect x="402.20" y="442.15" width="2.35" height="2.35"/>
<rect x="406.90" y="442.15" width="2.35" height="2.35"/>
<rect x="399.85" y="439.80" width="2.35" height="2.35"/>
<rect x="404.55" y="439.80" width="2.35" height="2.35"/>
<rect x="397.50" y="437.45" width="2.35" height="2.35"/>
<rect x="402.20" y="437.45" width="2.35" height="2.35"/>
<rect x="406.90" y="437.45" width="2.35" height="2.35"/>
<rect x="399.85" y="435.10" width="2.35" height="2.35"/>
<rect x="404.55" y="435.10" width="2.35" height="2.35"/>
<rect x="397.50" y="432.75" width="2.35" height="2.35"/>
<rect x="402.20" y="432.75" width="2.35" height="2.35"/>
<rect x="406.90" y="432.75" width="2.35" height="2.35"/>
<rect x="399.85" y="430.40" width="2.35" height="2.35"/>
<rect x="404.55" y="430.40" width="2.35" height="2.35"/>
<rect x="397.50" y="428.05" width="2.35" height="2.35"/>
<rect x="402.20" y="428.05" width="2.35" height="2.35"/>
<rect x="406.90" y="428.05" width="2.35" height="2.35"/>
<rect x="399.85" y="425.70" width="2.35" height="2.35"/>
<rect x="404.55" y="425.70" width="2.35" height="2.35"/>
</g>
<rect x="399.55" y="426.49" width="5.40" height="18.01" fill="none" stroke="#525ab0" stroke-width="0.9"/>
<line x1="402.35" y1="422.96" x2="402.35" y2="429.56" stroke="#111111" stroke-width="1.35" stroke-linecap="butt"/>
<line x1="400.10" y1="422.96" x2="404.60" y2="422.96" stroke="#111111" stroke-width="1.35" stroke-linecap="butt"/>
<line x1="400.10" y1="429.56" x2="404.60" y2="429.56" stroke="#111111" stroke-width="1.35" stroke-linecap="butt"/>
<circle cx="402.04" cy="429.13" r="1.6" fill="#111"/>
<circle cx="402.64" cy="426.26" r="1.6" fill="#111"/>
<circle cx="401.71" cy="423.39" r="1.6" fill="#111"/>
<text x="407.65" y="413.80" font-size="9.7" transform="rotate(-90 407.65 413.80)" fill="#000" stroke="#000" style="stroke-width:0.5px">****</text>
<rect x="407.50" y="353.52" width="7.00" height="90.98" fill="#5a61b6"/>
<line x1="411.00" y1="351.77" x2="411.00" y2="358.36" stroke="#111111" stroke-width="1.35" stroke-linecap="butt"/>
<line x1="408.75" y1="351.77" x2="413.25" y2="351.77" stroke="#111111" stroke-width="1.35" stroke-linecap="butt"/>
<line x1="408.75" y1="358.36" x2="413.25" y2="358.36" stroke="#111111" stroke-width="1.35" stroke-linecap="butt"/>
<circle cx="410.26" cy="357.93" r="1.6" fill="#111"/>
<circle cx="412.00" cy="355.06" r="1.6" fill="#111"/>
<circle cx="411.92" cy="352.20" r="1.6" fill="#111"/>
<clipPath id="c33"><rect x="414.95" y="426.04" width="6.50" height="18.46"/></clipPath>
<rect x="414.95" y="426.04" width="6.50" height="18.46" fill="#fff"/>
<g clip-path="url(#c33)" stroke="#5a61b6" stroke-width="2.15">
<line x1="412.95" y1="435.70" x2="423.45" y2="446.57"/>
<line x1="412.95" y1="428.40" x2="423.45" y2="439.27"/>
<line x1="412.95" y1="421.10" x2="423.45" y2="431.97"/>
<line x1="412.95" y1="413.80" x2="423.45" y2="424.67"/>
<line x1="412.95" y1="406.50" x2="423.45" y2="417.37"/>
</g>
<rect x="415.40" y="426.49" width="5.60" height="18.01" fill="none" stroke="#525ab0" stroke-width="0.9"/>
<line x1="418.20" y1="424.72" x2="418.20" y2="427.36" stroke="#111111" stroke-width="1.35" stroke-linecap="butt"/>
<line x1="415.95" y1="424.72" x2="420.45" y2="424.72" stroke="#111111" stroke-width="1.35" stroke-linecap="butt"/>
<line x1="415.95" y1="427.36" x2="420.45" y2="427.36" stroke="#111111" stroke-width="1.35" stroke-linecap="butt"/>
<circle cx="418.89" cy="427.19" r="1.6" fill="#111"/>
<circle cx="418.97" cy="426.04" r="1.6" fill="#111"/>
<circle cx="418.29" cy="424.89" r="1.6" fill="#111"/>
<text x="423.50" y="415.60" font-size="9.7" transform="rotate(-90 423.50 415.60)" fill="#000" stroke="#000" style="stroke-width:0.5px">****</text>
<clipPath id="c34"><rect x="422.40" y="422.96" width="6.30" height="21.54"/></clipPath>
<rect x="422.40" y="422.96" width="6.30" height="21.54" fill="#fff"/>
<g clip-path="url(#c34)" fill="#5a61b6">
<rect x="420.80" y="442.15" width="2.35" height="2.35"/>
<rect x="425.50" y="442.15" width="2.35" height="2.35"/>
<rect x="430.20" y="442.15" width="2.35" height="2.35"/>
<rect x="423.15" y="439.80" width="2.35" height="2.35"/>
<rect x="427.85" y="439.80" width="2.35" height="2.35"/>
<rect x="420.80" y="437.45" width="2.35" height="2.35"/>
<rect x="425.50" y="437.45" width="2.35" height="2.35"/>
<rect x="430.20" y="437.45" width="2.35" height="2.35"/>
<rect x="423.15" y="435.10" width="2.35" height="2.35"/>
<rect x="427.85" y="435.10" width="2.35" height="2.35"/>
<rect x="420.80" y="432.75" width="2.35" height="2.35"/>
<rect x="425.50" y="432.75" width="2.35" height="2.35"/>
<rect x="430.20" y="432.75" width="2.35" height="2.35"/>
<rect x="423.15" y="430.40" width="2.35" height="2.35"/>
<rect x="427.85" y="430.40" width="2.35" height="2.35"/>
<rect x="420.80" y="428.05" width="2.35" height="2.35"/>
<rect x="425.50" y="428.05" width="2.35" height="2.35"/>
<rect x="430.20" y="428.05" width="2.35" height="2.35"/>
<rect x="423.15" y="425.70" width="2.35" height="2.35"/>
<rect x="427.85" y="425.70" width="2.35" height="2.35"/>
<rect x="420.80" y="423.35" width="2.35" height="2.35"/>
<rect x="425.50" y="423.35" width="2.35" height="2.35"/>
<rect x="430.20" y="423.35" width="2.35" height="2.35"/>
<rect x="423.15" y="421.00" width="2.35" height="2.35"/>
<rect x="427.85" y="421.00" width="2.35" height="2.35"/>
</g>
<rect x="422.85" y="423.41" width="5.40" height="21.09" fill="none" stroke="#525ab0" stroke-width="0.9"/>
<line x1="425.65" y1="421.65" x2="425.65" y2="424.28" stroke="#111111" stroke-width="1.35" stroke-linecap="butt"/>
<line x1="423.40" y1="421.65" x2="427.90" y2="421.65" stroke="#111111" stroke-width="1.35" stroke-linecap="butt"/>
<line x1="423.40" y1="424.28" x2="427.90" y2="424.28" stroke="#111111" stroke-width="1.35" stroke-linecap="butt"/>
<circle cx="426.34" cy="424.11" r="1.6" fill="#111"/>
<circle cx="426.66" cy="422.96" r="1.6" fill="#111"/>
<circle cx="426.72" cy="421.82" r="1.6" fill="#111"/>
<text x="430.95" y="415.60" font-size="9.7" transform="rotate(-90 430.95 415.60)" fill="#000" stroke="#000" style="stroke-width:0.5px">****</text>
<line x1="281.60" y1="344.00" x2="281.60" y2="445.10" stroke="#111111" stroke-width="1.3" stroke-linecap="butt"/>
<line x1="277.70" y1="444.50" x2="281.60" y2="444.50" stroke="#111111" stroke-width="1.15" stroke-linecap="butt"/>
<text x="275.60" y="448.40" font-size="10.0" text-anchor="end" fill="#1c1c1c" stroke="#1c1c1c">0</text>
<line x1="277.70" y1="422.52" x2="281.60" y2="422.52" stroke="#111111" stroke-width="1.15" stroke-linecap="butt"/>
<text x="275.60" y="426.42" font-size="10.0" text-anchor="end" fill="#1c1c1c" stroke="#1c1c1c">50</text>
<line x1="277.70" y1="400.55" x2="281.60" y2="400.55" stroke="#111111" stroke-width="1.15" stroke-linecap="butt"/>
<text x="275.60" y="404.45" font-size="10.0" text-anchor="end" fill="#1c1c1c" stroke="#1c1c1c">100</text>
<line x1="277.70" y1="378.58" x2="281.60" y2="378.58" stroke="#111111" stroke-width="1.15" stroke-linecap="butt"/>
<text x="275.60" y="382.48" font-size="10.0" text-anchor="end" fill="#1c1c1c" stroke="#1c1c1c">150</text>
<line x1="277.70" y1="356.60" x2="281.60" y2="356.60" stroke="#111111" stroke-width="1.15" stroke-linecap="butt"/>
<text x="275.60" y="360.50" font-size="10.0" text-anchor="end" fill="#1c1c1c" stroke="#1c1c1c">200</text>
<line x1="358.80" y1="344.00" x2="358.80" y2="445.10" stroke="#111111" stroke-width="1.3" stroke-linecap="butt"/>
<line x1="354.90" y1="444.50" x2="358.80" y2="444.50" stroke="#111111" stroke-width="1.15" stroke-linecap="butt"/>
<line x1="354.90" y1="422.52" x2="358.80" y2="422.52" stroke="#111111" stroke-width="1.15" stroke-linecap="butt"/>
<line x1="354.90" y1="400.55" x2="358.80" y2="400.55" stroke="#111111" stroke-width="1.15" stroke-linecap="butt"/>
<line x1="354.90" y1="378.58" x2="358.80" y2="378.58" stroke="#111111" stroke-width="1.15" stroke-linecap="butt"/>
<line x1="354.90" y1="356.60" x2="358.80" y2="356.60" stroke="#111111" stroke-width="1.15" stroke-linecap="butt"/>
<line x1="281.00" y1="444.50" x2="355.50" y2="444.50" stroke="#111111" stroke-width="1.3" stroke-linecap="butt"/>
<line x1="358.20" y1="444.50" x2="431.80" y2="444.50" stroke="#111111" stroke-width="1.3" stroke-linecap="butt"/>
<line x1="294.00" y1="444.50" x2="294.00" y2="447.30" stroke="#111111" stroke-width="1.1" stroke-linecap="butt"/>
<line x1="317.40" y1="444.50" x2="317.40" y2="447.30" stroke="#111111" stroke-width="1.1" stroke-linecap="butt"/>
<line x1="340.60" y1="444.50" x2="340.60" y2="447.30" stroke="#111111" stroke-width="1.1" stroke-linecap="butt"/>
<line x1="371.70" y1="444.50" x2="371.70" y2="447.30" stroke="#111111" stroke-width="1.1" stroke-linecap="butt"/>
<line x1="394.90" y1="444.50" x2="394.90" y2="447.30" stroke="#111111" stroke-width="1.1" stroke-linecap="butt"/>
<line x1="418.20" y1="444.50" x2="418.20" y2="447.30" stroke="#111111" stroke-width="1.1" stroke-linecap="butt"/>
<text x="294.20" y="459.00" font-size="10.0" text-anchor="middle" fill="#1c1c1c" stroke="#1c1c1c">PE</text>
<text x="317.30" y="459.00" font-size="10.0" text-anchor="middle" fill="#1c1c1c" stroke="#1c1c1c">PP</text>
<text x="340.00" y="459.00" font-size="10.0" text-anchor="middle" fill="#1c1c1c" stroke="#1c1c1c">PD</text>
<text x="371.40" y="459.00" font-size="10.0" text-anchor="middle" fill="#1c1c1c" stroke="#1c1c1c">HE</text>
<text x="394.80" y="459.00" font-size="10.0" text-anchor="middle" fill="#1c1c1c" stroke="#1c1c1c">HP</text>
<text x="418.00" y="459.00" font-size="10.0" text-anchor="middle" fill="#1c1c1c" stroke="#1c1c1c">HD</text>
<text x="250.00" y="394.00" font-size="10.0" text-anchor="middle" transform="rotate(-90 250.00 394.00)" fill="#1c1c1c" stroke="#1c1c1c">Cell adhesion (%)</text>
<text x="3.20" y="458.50" font-size="14.6" font-weight="bold" fill="#0a0a0a" stroke="#0a0a0a" style="stroke-width:0">J</text>
<rect x="35.20" y="450.00" width="8.00" height="8.00" fill="#5a61b6"/>
<text x="47.00" y="457.50" font-size="10.0" textLength="20.40" lengthAdjust="spacingAndGlyphs" fill="#1c1c1c" stroke="#1c1c1c">siNC</text>
<clipPath id="c35"><rect x="70.30" y="450.00" width="8.00" height="8.00"/></clipPath>
<rect x="70.30" y="450.00" width="8.00" height="8.00" fill="#fff"/>
<g clip-path="url(#c35)" stroke="#5a61b6" stroke-width="2.3">
<line x1="68.30" y1="448.00" x2="80.30" y2="460.00"/>
<line x1="68.30" y1="439.00" x2="80.30" y2="451.00"/>
<line x1="68.30" y1="430.00" x2="80.30" y2="442.00"/>
</g>
<rect x="70.85" y="450.55" width="6.90" height="7.45" fill="none" stroke="#525ab0" stroke-width="1.1"/>
<text x="82.00" y="457.50" font-size="10.0" textLength="45.80" lengthAdjust="spacingAndGlyphs" fill="#1c1c1c" stroke="#1c1c1c">siSTAT3#4</text>
<clipPath id="c36"><rect x="134.40" y="450.00" width="8.00" height="8.00"/></clipPath>
<rect x="134.40" y="450.00" width="8.00" height="8.00" fill="#fff"/>
<g clip-path="url(#c36)" fill="#5a61b6">
<rect x="132.85" y="455.70" width="2.3" height="2.3"/>
<rect x="137.45" y="455.70" width="2.3" height="2.3"/>
<rect x="142.05" y="455.70" width="2.3" height="2.3"/>
<rect x="135.15" y="453.40" width="2.3" height="2.3"/>
<rect x="139.75" y="453.40" width="2.3" height="2.3"/>
<rect x="144.35" y="453.40" width="2.3" height="2.3"/>
<rect x="132.85" y="451.10" width="2.3" height="2.3"/>
<rect x="137.45" y="451.10" width="2.3" height="2.3"/>
<rect x="142.05" y="451.10" width="2.3" height="2.3"/>
<rect x="135.15" y="448.80" width="2.3" height="2.3"/>
<rect x="139.75" y="448.80" width="2.3" height="2.3"/>
<rect x="144.35" y="448.80" width="2.3" height="2.3"/>
</g>
<rect x="134.95" y="450.55" width="6.90" height="7.45" fill="none" stroke="#525ab0" stroke-width="1.1"/>
<text x="146.40" y="457.50" font-size="10.0" textLength="45.80" lengthAdjust="spacingAndGlyphs" fill="#1c1c1c" stroke="#1c1c1c">siSTAT3#5</text>
<rect x="48.20" y="523.55" width="7.00" height="43.65" fill="#5a61b6"/>
<line x1="51.70" y1="517.88" x2="51.70" y2="529.22" stroke="#111111" stroke-width="1.35" stroke-linecap="butt"/>
<line x1="49.45" y1="517.88" x2="53.95" y2="517.88" stroke="#111111" stroke-width="1.35" stroke-linecap="butt"/>
<line x1="49.45" y1="529.22" x2="53.95" y2="529.22" stroke="#111111" stroke-width="1.35" stroke-linecap="butt"/>
<circle cx="53.37" cy="528.83" r="1.6" fill="#111"/>
<circle cx="51.11" cy="526.19" r="1.6" fill="#111"/>
<circle cx="51.47" cy="523.55" r="1.6" fill="#111"/>
<circle cx="53.44" cy="520.91" r="1.6" fill="#111"/>
<circle cx="53.34" cy="518.27" r="1.6" fill="#111"/>
<clipPath id="c37"><rect x="55.65" y="540.57" width="6.50" height="26.63"/></clipPath>
<rect x="55.65" y="540.57" width="6.50" height="26.63" fill="#fff"/>
<g clip-path="url(#c37)" stroke="#5a61b6" stroke-width="2.15">
<line x1="53.65" y1="558.40" x2="64.15" y2="569.27"/>
<line x1="53.65" y1="551.10" x2="64.15" y2="561.97"/>
<line x1="53.65" y1="543.80" x2="64.15" y2="554.67"/>
<line x1="53.65" y1="536.50" x2="64.15" y2="547.37"/>
<line x1="53.65" y1="529.20" x2="64.15" y2="540.07"/>
<line x1="53.65" y1="521.90" x2="64.15" y2="532.77"/>
</g>
<rect x="56.10" y="541.02" width="5.60" height="26.18" fill="none" stroke="#525ab0" stroke-width="0.9"/>
<line x1="58.90" y1="535.77" x2="58.90" y2="550.18" stroke="#111111" stroke-width="1.35" stroke-linecap="butt"/>
<line x1="56.65" y1="535.77" x2="61.15" y2="535.77" stroke="#111111" stroke-width="1.35" stroke-linecap="butt"/>
<line x1="56.65" y1="550.18" x2="61.15" y2="550.18" stroke="#111111" stroke-width="1.35" stroke-linecap="butt"/>
<circle cx="57.73" cy="549.67" r="1.6" fill="#111"/>
<circle cx="59.16" cy="546.32" r="1.6" fill="#111"/>
<circle cx="59.79" cy="542.97" r="1.6" fill="#111"/>
<circle cx="57.41" cy="539.62" r="1.6" fill="#111"/>
<circle cx="59.77" cy="536.27" r="1.6" fill="#111"/>
<text x="64.20" y="527.20" font-size="9.7" transform="rotate(-90 64.20 527.20)" fill="#000" stroke="#000" style="stroke-width:0.5px">**</text>
<clipPath id="c38"><rect x="63.10" y="547.12" width="6.30" height="20.08"/></clipPath>
<rect x="63.10" y="547.12" width="6.30" height="20.08" fill="#fff"/>
<g clip-path="url(#c38)" fill="#5a61b6">
<rect x="61.50" y="564.85" width="2.35" height="2.35"/>
<rect x="66.20" y="564.85" width="2.35" height="2.35"/>
<rect x="70.90" y="564.85" width="2.35" height="2.35"/>
<rect x="63.85" y="562.50" width="2.35" height="2.35"/>
<rect x="68.55" y="562.50" width="2.35" height="2.35"/>
<rect x="61.50" y="560.15" width="2.35" height="2.35"/>
<rect x="66.20" y="560.15" width="2.35" height="2.35"/>
<rect x="70.90" y="560.15" width="2.35" height="2.35"/>
<rect x="63.85" y="557.80" width="2.35" height="2.35"/>
<rect x="68.55" y="557.80" width="2.35" height="2.35"/>
<rect x="61.50" y="555.45" width="2.35" height="2.35"/>
<rect x="66.20" y="555.45" width="2.35" height="2.35"/>
<rect x="70.90" y="555.45" width="2.35" height="2.35"/>
<rect x="63.85" y="553.10" width="2.35" height="2.35"/>
<rect x="68.55" y="553.10" width="2.35" height="2.35"/>
<rect x="61.50" y="550.75" width="2.35" height="2.35"/>
<rect x="66.20" y="550.75" width="2.35" height="2.35"/>
<rect x="70.90" y="550.75" width="2.35" height="2.35"/>
<rect x="63.85" y="548.40" width="2.35" height="2.35"/>
<rect x="68.55" y="548.40" width="2.35" height="2.35"/>
<rect x="61.50" y="546.05" width="2.35" height="2.35"/>
<rect x="66.20" y="546.05" width="2.35" height="2.35"/>
<rect x="70.90" y="546.05" width="2.35" height="2.35"/>
</g>
<rect x="63.55" y="547.57" width="5.40" height="19.63" fill="none" stroke="#525ab0" stroke-width="0.9"/>
<line x1="66.35" y1="543.19" x2="66.35" y2="551.92" stroke="#111111" stroke-width="1.35" stroke-linecap="butt"/>
<line x1="64.10" y1="543.19" x2="68.60" y2="543.19" stroke="#111111" stroke-width="1.35" stroke-linecap="butt"/>
<line x1="64.10" y1="551.92" x2="68.60" y2="551.92" stroke="#111111" stroke-width="1.35" stroke-linecap="butt"/>
<circle cx="65.97" cy="551.62" r="1.6" fill="#111"/>
<circle cx="65.72" cy="549.59" r="1.6" fill="#111"/>
<circle cx="67.24" cy="547.56" r="1.6" fill="#111"/>
<circle cx="66.21" cy="545.53" r="1.6" fill="#111"/>
<circle cx="66.74" cy="543.50" r="1.6" fill="#111"/>
<text x="71.65" y="533.90" font-size="9.7" transform="rotate(-90 71.65 533.90)" fill="#000" stroke="#000" style="stroke-width:0.5px">***</text>
<rect x="71.60" y="483.83" width="7.00" height="83.37" fill="#5a61b6"/>
<line x1="75.10" y1="476.84" x2="75.10" y2="493.87" stroke="#111111" stroke-width="1.35" stroke-linecap="butt"/>
<line x1="72.85" y1="476.84" x2="77.35" y2="476.84" stroke="#111111" stroke-width="1.35" stroke-linecap="butt"/>
<line x1="72.85" y1="493.87" x2="77.35" y2="493.87" stroke="#111111" stroke-width="1.35" stroke-linecap="butt"/>
<circle cx="73.83" cy="493.27" r="1.6" fill="#111"/>
<circle cx="75.36" cy="489.32" r="1.6" fill="#111"/>
<circle cx="74.89" cy="485.36" r="1.6" fill="#111"/>
<circle cx="75.40" cy="481.40" r="1.6" fill="#111"/>
<circle cx="75.18" cy="477.44" r="1.6" fill="#111"/>
<clipPath id="c39"><rect x="79.05" y="545.38" width="6.50" height="21.83"/></clipPath>
<rect x="79.05" y="545.38" width="6.50" height="21.83" fill="#fff"/>
<g clip-path="url(#c39)" stroke="#5a61b6" stroke-width="2.15">
<line x1="77.05" y1="558.40" x2="87.55" y2="569.27"/>
<line x1="77.05" y1="551.10" x2="87.55" y2="561.97"/>
<line x1="77.05" y1="543.80" x2="87.55" y2="554.67"/>
<line x1="77.05" y1="536.50" x2="87.55" y2="547.37"/>
<line x1="77.05" y1="529.20" x2="87.55" y2="540.07"/>
</g>
<rect x="79.50" y="545.83" width="5.60" height="21.38" fill="none" stroke="#525ab0" stroke-width="0.9"/>
<line x1="82.30" y1="541.01" x2="82.30" y2="549.30" stroke="#111111" stroke-width="1.35" stroke-linecap="butt"/>
<line x1="80.05" y1="541.01" x2="84.55" y2="541.01" stroke="#111111" stroke-width="1.35" stroke-linecap="butt"/>
<line x1="80.05" y1="549.30" x2="84.55" y2="549.30" stroke="#111111" stroke-width="1.35" stroke-linecap="butt"/>
<circle cx="80.64" cy="549.01" r="1.6" fill="#111"/>
<circle cx="83.86" cy="547.09" r="1.6" fill="#111"/>
<circle cx="83.33" cy="545.16" r="1.6" fill="#111"/>
<circle cx="81.79" cy="543.23" r="1.6" fill="#111"/>
<circle cx="83.01" cy="541.30" r="1.6" fill="#111"/>
<text x="87.60" y="533.50" font-size="9.7" transform="rotate(-90 87.60 533.50)" fill="#000" stroke="#000" style="stroke-width:0.5px">****</text>
<clipPath id="c40"><rect x="86.50" y="558.47" width="6.30" height="8.73"/></clipPath>
<rect x="86.50" y="558.47" width="6.30" height="8.73" fill="#fff"/>
<g clip-path="url(#c40)" fill="#5a61b6">
<rect x="84.90" y="564.85" width="2.35" height="2.35"/>
<rect x="89.60" y="564.85" width="2.35" height="2.35"/>
<rect x="94.30" y="564.85" width="2.35" height="2.35"/>
<rect x="87.25" y="562.50" width="2.35" height="2.35"/>
<rect x="91.95" y="562.50" width="2.35" height="2.35"/>
<rect x="84.90" y="560.15" width="2.35" height="2.35"/>
<rect x="89.60" y="560.15" width="2.35" height="2.35"/>
<rect x="94.30" y="560.15" width="2.35" height="2.35"/>
<rect x="87.25" y="557.80" width="2.35" height="2.35"/>
<rect x="91.95" y="557.80" width="2.35" height="2.35"/>
</g>
<rect x="86.95" y="558.92" width="5.40" height="8.28" fill="none" stroke="#525ab0" stroke-width="0.9"/>
<line x1="89.75" y1="554.98" x2="89.75" y2="561.96" stroke="#111111" stroke-width="1.35" stroke-linecap="butt"/>
<line x1="87.50" y1="554.98" x2="92.00" y2="554.98" stroke="#111111" stroke-width="1.35" stroke-linecap="butt"/>
<line x1="87.50" y1="561.96" x2="92.00" y2="561.96" stroke="#111111" stroke-width="1.35" stroke-linecap="butt"/>
<circle cx="88.50" cy="561.72" r="1.6" fill="#111"/>
<circle cx="90.03" cy="560.09" r="1.6" fill="#111"/>
<circle cx="89.50" cy="558.47" r="1.6" fill="#111"/>
<circle cx="89.73" cy="556.85" r="1.6" fill="#111"/>
<circle cx="88.08" cy="555.22" r="1.6" fill="#111"/>
<text x="95.05" y="546.20" font-size="9.7" transform="rotate(-90 95.05 546.20)" fill="#000" stroke="#000" style="stroke-width:0.5px">****</text>
<rect x="94.80" y="481.65" width="7.00" height="85.55" fill="#5a61b6"/>
<line x1="98.30" y1="473.35" x2="98.30" y2="490.38" stroke="#111111" stroke-width="1.35" stroke-linecap="butt"/>
<line x1="96.05" y1="473.35" x2="100.55" y2="473.35" stroke="#111111" stroke-width="1.35" stroke-linecap="butt"/>
<line x1="96.05" y1="490.38" x2="100.55" y2="490.38" stroke="#111111" stroke-width="1.35" stroke-linecap="butt"/>
<circle cx="99.19" cy="489.78" r="1.6" fill="#111"/>
<circle cx="96.61" cy="485.82" r="1.6" fill="#111"/>
<circle cx="98.93" cy="481.86" r="1.6" fill="#111"/>
<circle cx="98.91" cy="477.91" r="1.6" fill="#111"/>
<circle cx="96.91" cy="473.95" r="1.6" fill="#111"/>
<clipPath id="c41"><rect x="102.25" y="543.63" width="6.50" height="23.57"/></clipPath>
<rect x="102.25" y="543.63" width="6.50" height="23.57" fill="#fff"/>
<g clip-path="url(#c41)" stroke="#5a61b6" stroke-width="2.15">
<line x1="100.25" y1="558.40" x2="110.75" y2="569.27"/>
<line x1="100.25" y1="551.10" x2="110.75" y2="561.97"/>
<line x1="100.25" y1="543.80" x2="110.75" y2="554.67"/>
<line x1="100.25" y1="536.50" x2="110.75" y2="547.37"/>
<line x1="100.25" y1="529.20" x2="110.75" y2="540.07"/>
<line x1="100.25" y1="521.90" x2="110.75" y2="532.77"/>
</g>
<rect x="102.70" y="544.08" width="5.60" height="23.12" fill="none" stroke="#525ab0" stroke-width="0.9"/>
<line x1="105.50" y1="533.15" x2="105.50" y2="551.92" stroke="#111111" stroke-width="1.35" stroke-linecap="butt"/>
<line x1="103.25" y1="533.15" x2="107.75" y2="533.15" stroke="#111111" stroke-width="1.35" stroke-linecap="butt"/>
<line x1="103.25" y1="551.92" x2="107.75" y2="551.92" stroke="#111111" stroke-width="1.35" stroke-linecap="butt"/>
<circle cx="106.25" cy="551.27" r="1.6" fill="#111"/>
<circle cx="107.32" cy="546.90" r="1.6" fill="#111"/>
<circle cx="104.02" cy="542.54" r="1.6" fill="#111"/>
<circle cx="104.79" cy="538.17" r="1.6" fill="#111"/>
<circle cx="107.02" cy="533.81" r="1.6" fill="#111"/>
<text x="110.80" y="527.20" font-size="9.7" transform="rotate(-90 110.80 527.20)" fill="#000" stroke="#000" style="stroke-width:0.5px">****</text>
<clipPath id="c42"><rect x="109.70" y="558.47" width="6.30" height="8.73"/></clipPath>
<rect x="109.70" y="558.47" width="6.30" height="8.73" fill="#fff"/>
<g clip-path="url(#c42)" fill="#5a61b6">
<rect x="108.10" y="564.85" width="2.35" height="2.35"/>
<rect x="112.80" y="564.85" width="2.35" height="2.35"/>
<rect x="117.50" y="564.85" width="2.35" height="2.35"/>
<rect x="110.45" y="562.50" width="2.35" height="2.35"/>
<rect x="115.15" y="562.50" width="2.35" height="2.35"/>
<rect x="108.10" y="560.15" width="2.35" height="2.35"/>
<rect x="112.80" y="560.15" width="2.35" height="2.35"/>
<rect x="117.50" y="560.15" width="2.35" height="2.35"/>
<rect x="110.45" y="557.80" width="2.35" height="2.35"/>
<rect x="115.15" y="557.80" width="2.35" height="2.35"/>
</g>
<rect x="110.15" y="558.92" width="5.40" height="8.28" fill="none" stroke="#525ab0" stroke-width="0.9"/>
<line x1="112.95" y1="552.80" x2="112.95" y2="563.27" stroke="#111111" stroke-width="1.35" stroke-linecap="butt"/>
<line x1="110.70" y1="552.80" x2="115.20" y2="552.80" stroke="#111111" stroke-width="1.35" stroke-linecap="butt"/>
<line x1="110.70" y1="563.27" x2="115.20" y2="563.27" stroke="#111111" stroke-width="1.35" stroke-linecap="butt"/>
<circle cx="111.55" cy="562.91" r="1.6" fill="#111"/>
<circle cx="114.41" cy="560.47" r="1.6" fill="#111"/>
<circle cx="113.73" cy="558.03" r="1.6" fill="#111"/>
<circle cx="112.89" cy="555.60" r="1.6" fill="#111"/>
<circle cx="114.55" cy="553.16" r="1.6" fill="#111"/>
<text x="118.25" y="542.40" font-size="9.7" transform="rotate(-90 118.25 542.40)" fill="#000" stroke="#000" style="stroke-width:0.5px">****</text>
<rect x="125.00" y="524.42" width="7.00" height="42.78" fill="#5a61b6"/>
<line x1="128.50" y1="518.31" x2="128.50" y2="528.79" stroke="#111111" stroke-width="1.35" stroke-linecap="butt"/>
<line x1="126.25" y1="518.31" x2="130.75" y2="518.31" stroke="#111111" stroke-width="1.35" stroke-linecap="butt"/>
<line x1="126.25" y1="528.79" x2="130.75" y2="528.79" stroke="#111111" stroke-width="1.35" stroke-linecap="butt"/>
<circle cx="128.99" cy="528.42" r="1.6" fill="#111"/>
<circle cx="127.78" cy="525.99" r="1.6" fill="#111"/>
<circle cx="127.26" cy="523.55" r="1.6" fill="#111"/>
<circle cx="129.06" cy="521.11" r="1.6" fill="#111"/>
<circle cx="127.49" cy="518.68" r="1.6" fill="#111"/>
<clipPath id="c43"><rect x="132.45" y="534.90" width="6.50" height="32.30"/></clipPath>
<rect x="132.45" y="534.90" width="6.50" height="32.30" fill="#fff"/>
<g clip-path="url(#c43)" stroke="#5a61b6" stroke-width="2.15">
<line x1="130.45" y1="558.40" x2="140.95" y2="569.27"/>
<line x1="130.45" y1="551.10" x2="140.95" y2="561.97"/>
<line x1="130.45" y1="543.80" x2="140.95" y2="554.67"/>
<line x1="130.45" y1="536.50" x2="140.95" y2="547.37"/>
<line x1="130.45" y1="529.20" x2="140.95" y2="540.07"/>
<line x1="130.45" y1="521.90" x2="140.95" y2="532.77"/>
<line x1="130.45" y1="514.60" x2="140.95" y2="525.47"/>
</g>
<rect x="132.90" y="535.35" width="5.60" height="31.85" fill="none" stroke="#525ab0" stroke-width="0.9"/>
<line x1="135.70" y1="527.48" x2="135.70" y2="539.70" stroke="#111111" stroke-width="1.35" stroke-linecap="butt"/>
<line x1="133.45" y1="527.48" x2="137.95" y2="527.48" stroke="#111111" stroke-width="1.35" stroke-linecap="butt"/>
<line x1="133.45" y1="539.70" x2="137.95" y2="539.70" stroke="#111111" stroke-width="1.35" stroke-linecap="butt"/>
<circle cx="135.49" cy="539.27" r="1.6" fill="#111"/>
<circle cx="134.97" cy="536.43" r="1.6" fill="#111"/>
<circle cx="137.56" cy="533.59" r="1.6" fill="#111"/>
<circle cx="135.17" cy="530.75" r="1.6" fill="#111"/>
<circle cx="134.54" cy="527.90" r="1.6" fill="#111"/>
<text x="141.00" y="519.20" font-size="9.7" transform="rotate(-90 141.00 519.20)" fill="#000" stroke="#000" style="stroke-width:0.5px">*</text>
<clipPath id="c44"><rect x="139.90" y="544.50" width="6.30" height="22.70"/></clipPath>
<rect x="139.90" y="544.50" width="6.30" height="22.70" fill="#fff"/>
<g clip-path="url(#c44)" fill="#5a61b6">
<rect x="138.30" y="564.85" width="2.35" height="2.35"/>
<rect x="143.00" y="564.85" width="2.35" height="2.35"/>
<rect x="147.70" y="564.85" width="2.35" height="2.35"/>
<rect x="140.65" y="562.50" width="2.35" height="2.35"/>
<rect x="145.35" y="562.50" width="2.35" height="2.35"/>
<rect x="138.30" y="560.15" width="2.35" height="2.35"/>
<rect x="143.00" y="560.15" width="2.35" height="2.35"/>
<rect x="147.70" y="560.15" width="2.35" height="2.35"/>
<rect x="140.65" y="557.80" width="2.35" height="2.35"/>
<rect x="145.35" y="557.80" width="2.35" height="2.35"/>
<rect x="138.30" y="555.45" width="2.35" height="2.35"/>
<rect x="143.00" y="555.45" width="2.35" height="2.35"/>
<rect x="147.70" y="555.45" width="2.35" height="2.35"/>
<rect x="140.65" y="553.10" width="2.35" height="2.35"/>
<rect x="145.35" y="553.10" width="2.35" height="2.35"/>
<rect x="138.30" y="550.75" width="2.35" height="2.35"/>
<rect x="143.00" y="550.75" width="2.35" height="2.35"/>
<rect x="147.70" y="550.75" width="2.35" height="2.35"/>
<rect x="140.65" y="548.40" width="2.35" height="2.35"/>
<rect x="145.35" y="548.40" width="2.35" height="2.35"/>
<rect x="138.30" y="546.05" width="2.35" height="2.35"/>
<rect x="143.00" y="546.05" width="2.35" height="2.35"/>
<rect x="147.70" y="546.05" width="2.35" height="2.35"/>
<rect x="140.65" y="543.70" width="2.35" height="2.35"/>
<rect x="145.35" y="543.70" width="2.35" height="2.35"/>
</g>
<rect x="140.35" y="544.95" width="5.40" height="22.25" fill="none" stroke="#525ab0" stroke-width="0.9"/>
<line x1="143.15" y1="539.70" x2="143.15" y2="549.30" stroke="#111111" stroke-width="1.35" stroke-linecap="butt"/>
<line x1="140.90" y1="539.70" x2="145.40" y2="539.70" stroke="#111111" stroke-width="1.35" stroke-linecap="butt"/>
<line x1="140.90" y1="549.30" x2="145.40" y2="549.30" stroke="#111111" stroke-width="1.35" stroke-linecap="butt"/>
<circle cx="143.32" cy="548.97" r="1.6" fill="#111"/>
<circle cx="144.92" cy="546.74" r="1.6" fill="#111"/>
<circle cx="143.64" cy="544.50" r="1.6" fill="#111"/>
<circle cx="144.87" cy="542.27" r="1.6" fill="#111"/>
<circle cx="142.54" cy="540.04" r="1.6" fill="#111"/>
<text x="148.45" y="533.50" font-size="9.7" transform="rotate(-90 148.45 533.50)" fill="#000" stroke="#000" style="stroke-width:0.5px">***</text>
<rect x="148.20" y="483.39" width="7.00" height="83.81" fill="#5a61b6"/>
<line x1="151.70" y1="479.03" x2="151.70" y2="485.57" stroke="#111111" stroke-width="1.35" stroke-linecap="butt"/>
<line x1="149.45" y1="479.03" x2="153.95" y2="479.03" stroke="#111111" stroke-width="1.35" stroke-linecap="butt"/>
<line x1="149.45" y1="485.57" x2="153.95" y2="485.57" stroke="#111111" stroke-width="1.35" stroke-linecap="butt"/>
<circle cx="152.94" cy="485.35" r="1.6" fill="#111"/>
<circle cx="150.66" cy="483.82" r="1.6" fill="#111"/>
<circle cx="152.74" cy="482.30" r="1.6" fill="#111"/>
<circle cx="152.09" cy="480.78" r="1.6" fill="#111"/>
<circle cx="153.01" cy="479.26" r="1.6" fill="#111"/>
<clipPath id="c45"><rect x="155.65" y="544.50" width="6.50" height="22.70"/></clipPath>
<rect x="155.65" y="544.50" width="6.50" height="22.70" fill="#fff"/>
<g clip-path="url(#c45)" stroke="#5a61b6" stroke-width="2.15">
<line x1="153.65" y1="558.40" x2="164.15" y2="569.27"/>
<line x1="153.65" y1="551.10" x2="164.15" y2="561.97"/>
<line x1="153.65" y1="543.80" x2="164.15" y2="554.67"/>
<line x1="153.65" y1="536.50" x2="164.15" y2="547.37"/>
<line x1="153.65" y1="529.20" x2="164.15" y2="540.07"/>
<line x1="153.65" y1="521.90" x2="164.15" y2="532.77"/>
</g>
<rect x="156.10" y="544.95" width="5.60" height="22.25" fill="none" stroke="#525ab0" stroke-width="0.9"/>
<line x1="158.90" y1="537.52" x2="158.90" y2="550.18" stroke="#111111" stroke-width="1.35" stroke-linecap="butt"/>
<line x1="156.65" y1="537.52" x2="161.15" y2="537.52" stroke="#111111" stroke-width="1.35" stroke-linecap="butt"/>
<line x1="156.65" y1="550.18" x2="161.15" y2="550.18" stroke="#111111" stroke-width="1.35" stroke-linecap="butt"/>
<circle cx="158.05" cy="549.73" r="1.6" fill="#111"/>
<circle cx="160.00" cy="546.79" r="1.6" fill="#111"/>
<circle cx="159.95" cy="543.85" r="1.6" fill="#111"/>
<circle cx="158.74" cy="540.90" r="1.6" fill="#111"/>
<circle cx="158.77" cy="537.96" r="1.6" fill="#111"/>
<text x="164.20" y="529.20" font-size="9.7" transform="rotate(-90 164.20 529.20)" fill="#000" stroke="#000" style="stroke-width:0.5px">****</text>
<clipPath id="c46"><rect x="163.10" y="551.05" width="6.30" height="16.15"/></clipPath>
<rect x="163.10" y="551.05" width="6.30" height="16.15" fill="#fff"/>
<g clip-path="url(#c46)" fill="#5a61b6">
<rect x="161.50" y="564.85" width="2.35" height="2.35"/>
<rect x="166.20" y="564.85" width="2.35" height="2.35"/>
<rect x="170.90" y="564.85" width="2.35" height="2.35"/>
<rect x="163.85" y="562.50" width="2.35" height="2.35"/>
<rect x="168.55" y="562.50" width="2.35" height="2.35"/>
<rect x="161.50" y="560.15" width="2.35" height="2.35"/>
<rect x="166.20" y="560.15" width="2.35" height="2.35"/>
<rect x="170.90" y="560.15" width="2.35" height="2.35"/>
<rect x="163.85" y="557.80" width="2.35" height="2.35"/>
<rect x="168.55" y="557.80" width="2.35" height="2.35"/>
<rect x="161.50" y="555.45" width="2.35" height="2.35"/>
<rect x="166.20" y="555.45" width="2.35" height="2.35"/>
<rect x="170.90" y="555.45" width="2.35" height="2.35"/>
<rect x="163.85" y="553.10" width="2.35" height="2.35"/>
<rect x="168.55" y="553.10" width="2.35" height="2.35"/>
<rect x="161.50" y="550.75" width="2.35" height="2.35"/>
<rect x="166.20" y="550.75" width="2.35" height="2.35"/>
<rect x="170.90" y="550.75" width="2.35" height="2.35"/>
</g>
<rect x="163.55" y="551.50" width="5.40" height="15.70" fill="none" stroke="#525ab0" stroke-width="0.9"/>
<line x1="166.35" y1="544.50" x2="166.35" y2="554.98" stroke="#111111" stroke-width="1.35" stroke-linecap="butt"/>
<line x1="164.10" y1="544.50" x2="168.60" y2="544.50" stroke="#111111" stroke-width="1.35" stroke-linecap="butt"/>
<line x1="164.10" y1="554.98" x2="168.60" y2="554.98" stroke="#111111" stroke-width="1.35" stroke-linecap="butt"/>
<circle cx="165.41" cy="554.61" r="1.6" fill="#111"/>
<circle cx="166.74" cy="552.18" r="1.6" fill="#111"/>
<circle cx="165.19" cy="549.74" r="1.6" fill="#111"/>
<circle cx="166.67" cy="547.30" r="1.6" fill="#111"/>
<circle cx="166.60" cy="544.87" r="1.6" fill="#111"/>
<text x="171.65" y="539.20" font-size="9.7" transform="rotate(-90 171.65 539.20)" fill="#000" stroke="#000" style="stroke-width:0.5px">****</text>
<rect x="171.50" y="479.90" width="7.00" height="87.30" fill="#5a61b6"/>
<line x1="175.00" y1="475.97" x2="175.00" y2="482.08" stroke="#111111" stroke-width="1.35" stroke-linecap="butt"/>
<line x1="172.75" y1="475.97" x2="177.25" y2="475.97" stroke="#111111" stroke-width="1.35" stroke-linecap="butt"/>
<line x1="172.75" y1="482.08" x2="177.25" y2="482.08" stroke="#111111" stroke-width="1.35" stroke-linecap="butt"/>
<circle cx="173.98" cy="481.87" r="1.6" fill="#111"/>
<circle cx="173.39" cy="480.45" r="1.6" fill="#111"/>
<circle cx="175.59" cy="479.03" r="1.6" fill="#111"/>
<circle cx="173.65" cy="477.61" r="1.6" fill="#111"/>
<circle cx="174.20" cy="476.18" r="1.6" fill="#111"/>
<clipPath id="c47"><rect x="178.95" y="547.99" width="6.50" height="19.21"/></clipPath>
<rect x="178.95" y="547.99" width="6.50" height="19.21" fill="#fff"/>
<g clip-path="url(#c47)" stroke="#5a61b6" stroke-width="2.15">
<line x1="176.95" y1="558.40" x2="187.45" y2="569.27"/>
<line x1="176.95" y1="551.10" x2="187.45" y2="561.97"/>
<line x1="176.95" y1="543.80" x2="187.45" y2="554.67"/>
<line x1="176.95" y1="536.50" x2="187.45" y2="547.37"/>
<line x1="176.95" y1="529.20" x2="187.45" y2="540.07"/>
</g>
<rect x="179.40" y="548.44" width="5.60" height="18.76" fill="none" stroke="#525ab0" stroke-width="0.9"/>
<line x1="182.20" y1="539.70" x2="182.20" y2="549.74" stroke="#111111" stroke-width="1.35" stroke-linecap="butt"/>
<line x1="179.95" y1="539.70" x2="184.45" y2="539.70" stroke="#111111" stroke-width="1.35" stroke-linecap="butt"/>
<line x1="179.95" y1="549.74" x2="184.45" y2="549.74" stroke="#111111" stroke-width="1.35" stroke-linecap="butt"/>
<circle cx="180.40" cy="549.39" r="1.6" fill="#111"/>
<circle cx="182.00" cy="547.06" r="1.6" fill="#111"/>
<circle cx="183.40" cy="544.72" r="1.6" fill="#111"/>
<circle cx="180.98" cy="542.39" r="1.6" fill="#111"/>
<circle cx="182.28" cy="540.05" r="1.6" fill="#111"/>
<text x="187.50" y="531.60" font-size="9.7" transform="rotate(-90 187.50 531.60)" fill="#000" stroke="#000" style="stroke-width:0.5px">****</text>
<clipPath id="c48"><rect x="186.40" y="550.18" width="6.30" height="17.02"/></clipPath>
<rect x="186.40" y="550.18" width="6.30" height="17.02" fill="#fff"/>
<g clip-path="url(#c48)" fill="#5a61b6">
<rect x="184.80" y="564.85" width="2.35" height="2.35"/>
<rect x="189.50" y="564.85" width="2.35" height="2.35"/>
<rect x="194.20" y="564.85" width="2.35" height="2.35"/>
<rect x="187.15" y="562.50" width="2.35" height="2.35"/>
<rect x="191.85" y="562.50" width="2.35" height="2.35"/>
<rect x="184.80" y="560.15" width="2.35" height="2.35"/>
<rect x="189.50" y="560.15" width="2.35" height="2.35"/>
<rect x="194.20" y="560.15" width="2.35" height="2.35"/>
<rect x="187.15" y="557.80" width="2.35" height="2.35"/>
<rect x="191.85" y="557.80" width="2.35" height="2.35"/>
<rect x="184.80" y="555.45" width="2.35" height="2.35"/>
<rect x="189.50" y="555.45" width="2.35" height="2.35"/>
<rect x="194.20" y="555.45" width="2.35" height="2.35"/>
<rect x="187.15" y="553.10" width="2.35" height="2.35"/>
<rect x="191.85" y="553.10" width="2.35" height="2.35"/>
<rect x="184.80" y="550.75" width="2.35" height="2.35"/>
<rect x="189.50" y="550.75" width="2.35" height="2.35"/>
<rect x="194.20" y="550.75" width="2.35" height="2.35"/>
<rect x="187.15" y="548.40" width="2.35" height="2.35"/>
<rect x="191.85" y="548.40" width="2.35" height="2.35"/>
</g>
<rect x="186.85" y="550.63" width="5.40" height="16.57" fill="none" stroke="#525ab0" stroke-width="0.9"/>
<line x1="189.65" y1="545.38" x2="189.65" y2="553.23" stroke="#111111" stroke-width="1.35" stroke-linecap="butt"/>
<line x1="187.40" y1="545.38" x2="191.90" y2="545.38" stroke="#111111" stroke-width="1.35" stroke-linecap="butt"/>
<line x1="187.40" y1="553.23" x2="191.90" y2="553.23" stroke="#111111" stroke-width="1.35" stroke-linecap="butt"/>
<circle cx="190.38" cy="552.96" r="1.6" fill="#111"/>
<circle cx="189.47" cy="551.13" r="1.6" fill="#111"/>
<circle cx="188.77" cy="549.30" r="1.6" fill="#111"/>
<circle cx="190.86" cy="547.48" r="1.6" fill="#111"/>
<circle cx="190.19" cy="545.65" r="1.6" fill="#111"/>
<text x="194.95" y="540.20" font-size="9.7" transform="rotate(-90 194.95 540.20)" fill="#000" stroke="#000" style="stroke-width:0.5px">****</text>
<line x1="46.30" y1="466.30" x2="46.30" y2="567.80" stroke="#111111" stroke-width="1.3" stroke-linecap="butt"/>
<line x1="42.40" y1="567.20" x2="46.30" y2="567.20" stroke="#111111" stroke-width="1.15" stroke-linecap="butt"/>
<text x="40.80" y="571.10" font-size="10.0" text-anchor="end" fill="#1c1c1c" stroke="#1c1c1c">0</text>
<line x1="42.40" y1="545.38" x2="46.30" y2="545.38" stroke="#111111" stroke-width="1.15" stroke-linecap="butt"/>
<text x="40.80" y="549.27" font-size="10.0" text-anchor="end" fill="#1c1c1c" stroke="#1c1c1c">50</text>
<line x1="42.40" y1="523.55" x2="46.30" y2="523.55" stroke="#111111" stroke-width="1.15" stroke-linecap="butt"/>
<text x="40.80" y="527.45" font-size="10.0" text-anchor="end" fill="#1c1c1c" stroke="#1c1c1c">100</text>
<line x1="42.40" y1="501.73" x2="46.30" y2="501.73" stroke="#111111" stroke-width="1.15" stroke-linecap="butt"/>
<text x="40.80" y="505.62" font-size="10.0" text-anchor="end" fill="#1c1c1c" stroke="#1c1c1c">150</text>
<line x1="42.40" y1="479.90" x2="46.30" y2="479.90" stroke="#111111" stroke-width="1.15" stroke-linecap="butt"/>
<text x="40.80" y="483.80" font-size="10.0" text-anchor="end" fill="#1c1c1c" stroke="#1c1c1c">200</text>
<line x1="122.90" y1="466.30" x2="122.90" y2="567.80" stroke="#111111" stroke-width="1.3" stroke-linecap="butt"/>
<line x1="119.00" y1="567.20" x2="122.90" y2="567.20" stroke="#111111" stroke-width="1.15" stroke-linecap="butt"/>
<line x1="119.00" y1="545.38" x2="122.90" y2="545.38" stroke="#111111" stroke-width="1.15" stroke-linecap="butt"/>
<line x1="119.00" y1="523.55" x2="122.90" y2="523.55" stroke="#111111" stroke-width="1.15" stroke-linecap="butt"/>
<line x1="119.00" y1="501.73" x2="122.90" y2="501.73" stroke="#111111" stroke-width="1.15" stroke-linecap="butt"/>
<line x1="119.00" y1="479.90" x2="122.90" y2="479.90" stroke="#111111" stroke-width="1.15" stroke-linecap="butt"/>
<line x1="45.70" y1="567.20" x2="119.50" y2="567.20" stroke="#111111" stroke-width="1.3" stroke-linecap="butt"/>
<line x1="122.30" y1="567.20" x2="195.80" y2="567.20" stroke="#111111" stroke-width="1.3" stroke-linecap="butt"/>
<line x1="58.90" y1="567.20" x2="58.90" y2="570.00" stroke="#111111" stroke-width="1.1" stroke-linecap="butt"/>
<line x1="82.30" y1="567.20" x2="82.30" y2="570.00" stroke="#111111" stroke-width="1.1" stroke-linecap="butt"/>
<line x1="105.50" y1="567.20" x2="105.50" y2="570.00" stroke="#111111" stroke-width="1.1" stroke-linecap="butt"/>
<line x1="135.70" y1="567.20" x2="135.70" y2="570.00" stroke="#111111" stroke-width="1.1" stroke-linecap="butt"/>
<line x1="158.90" y1="567.20" x2="158.90" y2="570.00" stroke="#111111" stroke-width="1.1" stroke-linecap="butt"/>
<line x1="182.20" y1="567.20" x2="182.20" y2="570.00" stroke="#111111" stroke-width="1.1" stroke-linecap="butt"/>
<text x="59.30" y="581.40" font-size="10.0" text-anchor="middle" fill="#1c1c1c" stroke="#1c1c1c">PE</text>
<text x="82.20" y="581.40" font-size="10.0" text-anchor="middle" fill="#1c1c1c" stroke="#1c1c1c">PP</text>
<text x="105.40" y="581.40" font-size="10.0" text-anchor="middle" fill="#1c1c1c" stroke="#1c1c1c">PD</text>
<text x="136.00" y="581.40" font-size="10.0" text-anchor="middle" fill="#1c1c1c" stroke="#1c1c1c">HE</text>
<text x="159.00" y="581.40" font-size="10.0" text-anchor="middle" fill="#1c1c1c" stroke="#1c1c1c">HP</text>
<text x="182.20" y="581.40" font-size="10.0" text-anchor="middle" fill="#1c1c1c" stroke="#1c1c1c">HD</text>
<text x="14.80" y="518.30" font-size="10.0" text-anchor="middle" transform="rotate(-90 14.80 518.30)" fill="#1c1c1c" stroke="#1c1c1c">Cell migration (%)</text>
<text x="224.20" y="479.60" font-size="14.6" font-weight="bold" fill="#0a0a0a" stroke="#0a0a0a" style="stroke-width:0">K</text>
<text x="289.40" y="490.60" font-size="10.0" text-anchor="middle" fill="#1c1c1c" stroke="#1c1c1c">TL</text>
<line x1="277.00" y1="494.60" x2="303.80" y2="494.60" stroke="#111111" stroke-width="1.0" stroke-linecap="butt"/>
<text x="329.60" y="490.80" font-size="10.0" text-anchor="middle" fill="#1c1c1c" stroke="#1c1c1c">IP: IQGAP1</text>
<line x1="307.60" y1="494.60" x2="346.00" y2="494.60" stroke="#111111" stroke-width="1.0" stroke-linecap="butt"/>
<text x="279.80" y="506.80" font-size="10.0" text-anchor="middle" fill="#1c1c1c" stroke="#1c1c1c">H</text>
<text x="296.00" y="506.80" font-size="10.0" text-anchor="middle" fill="#1c1c1c" stroke="#1c1c1c">ER9</text>
<text x="313.80" y="506.80" font-size="10.0" text-anchor="middle" fill="#1c1c1c" stroke="#1c1c1c">H</text>
<text x="330.40" y="506.80" font-size="10.0" text-anchor="middle" fill="#1c1c1c" stroke="#1c1c1c">ER9</text>
<text x="348.20" y="506.80" font-size="10.0" text-anchor="middle" fill="#1c1c1c" stroke="#1c1c1c">IgG</text>
<text x="274.00" y="519.70" font-size="10.0" text-anchor="end" fill="#1c1c1c" stroke="#1c1c1c">IQGAP1</text>
<text x="274.00" y="533.45" font-size="10.0" text-anchor="end" fill="#1c1c1c" stroke="#1c1c1c">PSAT1</text>
<text x="274.00" y="547.10" font-size="10.0" text-anchor="end" fill="#1c1c1c" stroke="#1c1c1c">STAT3</text>
<text x="274.00" y="560.95" font-size="10.0" text-anchor="end" fill="#1c1c1c" stroke="#1c1c1c">β-Tubulin</text>
<text x="274.00" y="574.85" font-size="10.0" text-anchor="end" fill="#1c1c1c" stroke="#1c1c1c">Light chain</text>
<clipPath id="c49"><rect x="275.40" y="510.80" width="29.60" height="10.80"/></clipPath>
<rect x="275.40" y="510.80" width="29.60" height="10.80" fill="#ececec"/>
<g clip-path="url(#c49)"><g filter="url(#b1)">
<rect x="278.35" y="515.55" width="8.50" height="1.70" rx="0.85" fill="#0a0a0a" opacity="0.5"/>
<rect x="292.90" y="515.45" width="9.00" height="1.90" rx="0.95" fill="#0a0a0a" opacity="0.6"/>
</g></g>
<rect x="275.40" y="510.80" width="29.60" height="10.80" fill="none" stroke="#222" stroke-width="1.0"/>
<clipPath id="c50"><rect x="307.40" y="510.80" width="44.20" height="10.80"/></clipPath>
<rect x="307.40" y="510.80" width="44.20" height="10.80" fill="#e0e0e0"/>
<g clip-path="url(#c50)"><g filter="url(#b1)">
<rect x="310.40" y="515.60" width="10.00" height="3.00" rx="1.50" fill="#0a0a0a" opacity="0.75"/>
<rect x="324.95" y="515.30" width="10.50" height="3.60" rx="1.50" fill="#0a0a0a" opacity="0.95"/>
</g></g>
<rect x="307.40" y="510.80" width="44.20" height="10.80" fill="none" stroke="#222" stroke-width="1.0"/>
<clipPath id="c51"><rect x="275.40" y="524.50" width="29.60" height="10.90"/></clipPath>
<rect x="275.40" y="524.50" width="29.60" height="10.90" fill="#f2f2f2"/>
<g clip-path="url(#c51)"><g filter="url(#b1)">
<rect x="292.65" y="529.90" width="9.50" height="1.70" rx="0.85" fill="#0a0a0a" opacity="0.5"/>
</g></g>
<rect x="275.40" y="524.50" width="29.60" height="10.90" fill="none" stroke="#222" stroke-width="1.0"/>
<clipPath id="c52"><rect x="307.40" y="524.50" width="44.20" height="10.90"/></clipPath>
<rect x="307.40" y="524.50" width="44.20" height="10.90" fill="#ececec"/>
<g clip-path="url(#c52)"><g filter="url(#b2)">
<rect x="310.90" y="527.45" width="9.00" height="6.00" rx="1.50" fill="#0a0a0a" opacity="0.22"/>
<rect x="326.10" y="525.55" width="9.00" height="8.00" rx="1.50" fill="#0a0a0a" opacity="0.85"/>
<rect x="327.60" y="526.95" width="7.00" height="4.00" rx="1.50" fill="#0a0a0a" opacity="0.9"/>
</g></g>
<rect x="307.40" y="524.50" width="44.20" height="10.90" fill="none" stroke="#222" stroke-width="1.0"/>
<clipPath id="c53"><rect x="275.40" y="538.20" width="29.60" height="10.80"/></clipPath>
<rect x="275.40" y="538.20" width="29.60" height="10.80" fill="#e8e8e8"/>
<g clip-path="url(#c53)"><g filter="url(#b1)">
<rect x="277.60" y="542.50" width="10.00" height="2.20" rx="1.10" fill="#0a0a0a" opacity="0.95"/>
<rect x="292.65" y="542.50" width="9.50" height="2.20" rx="1.10" fill="#0a0a0a" opacity="0.95"/>
</g></g>
<rect x="275.40" y="538.20" width="29.60" height="10.80" fill="none" stroke="#222" stroke-width="1.0"/>
<clipPath id="c54"><rect x="307.40" y="538.20" width="44.20" height="10.80"/></clipPath>
<rect x="307.40" y="538.20" width="44.20" height="10.80" fill="#e8e8e8"/>
<g clip-path="url(#c54)"><g filter="url(#b1)">
<rect x="326.10" y="542.30" width="9.00" height="1.40" rx="0.70" fill="#0a0a0a" opacity="0.5"/>
<rect x="342.00" y="542.70" width="6.00" height="1.00" rx="0.50" fill="#0a0a0a" opacity="0.12"/>
</g></g>
<rect x="307.40" y="538.20" width="44.20" height="10.80" fill="none" stroke="#222" stroke-width="1.0"/>
<clipPath id="c55"><rect x="275.40" y="552.10" width="29.60" height="10.70"/></clipPath>
<rect x="275.40" y="552.10" width="29.60" height="10.70" fill="#e6e6e6"/>
<g clip-path="url(#c55)"><g filter="url(#b1)">
<rect x="276.85" y="555.75" width="11.50" height="3.40" rx="1.50" fill="#0a0a0a" opacity="1.0"/>
<rect x="291.65" y="555.85" width="11.50" height="3.20" rx="1.50" fill="#0a0a0a" opacity="1.0"/>
<rect x="278.00" y="556.75" width="24.00" height="1.40" rx="0.70" fill="#0a0a0a" opacity="0.9"/>
</g></g>
<rect x="275.40" y="552.10" width="29.60" height="10.70" fill="none" stroke="#222" stroke-width="1.0"/>
<clipPath id="c56"><rect x="307.40" y="552.10" width="44.20" height="10.70"/></clipPath>
<rect x="307.40" y="552.10" width="44.20" height="10.70" fill="#ebebeb"/>
<g clip-path="url(#c56)"><g filter="url(#b1)">
</g></g>
<rect x="307.40" y="552.10" width="44.20" height="10.70" fill="none" stroke="#222" stroke-width="1.0"/>
<clipPath id="c57"><rect x="275.40" y="566.00" width="29.60" height="10.70"/></clipPath>
<rect x="275.40" y="566.00" width="29.60" height="10.70" fill="#ededed"/>
<g clip-path="url(#c57)"><g filter="url(#b1)">
</g></g>
<rect x="275.40" y="566.00" width="29.60" height="10.70" fill="none" stroke="#222" stroke-width="1.0"/>
<clipPath id="c58"><rect x="307.4" y="566.0" width="44.20" height="10.70"/></clipPath>
<rect x="307.40" y="566.00" width="44.20" height="10.70" fill="#e6e6e6"/>
<g clip-path="url(#c58)"><path d="M305,571.6 C309,570.6 313,569.6 319,569.3 S333,569.1 337,568.9 S341,568.0 343,568.1 S349,569.6 354,570.4" fill="none" stroke="#0a0a0a" stroke-width="2.4" filter="url(#b1)"/></g>
<rect x="307.40" y="566.00" width="44.20" height="10.70" fill="none" stroke="#222" stroke-width="1.0"/>
<text x="384.60" y="480.10" font-size="14.6" font-weight="bold" fill="#0a0a0a" stroke="#0a0a0a" style="stroke-width:0">L</text>
<text x="437.00" y="503.60" font-size="10.0" text-anchor="middle" fill="#1c1c1c" stroke="#1c1c1c">H</text>
<text x="453.40" y="503.60" font-size="10.0" text-anchor="middle" fill="#1c1c1c" stroke="#1c1c1c">ER9</text>
<text x="426.80" y="519.20" font-size="10.0" text-anchor="end" fill="#1c1c1c" stroke="#1c1c1c">PSAT1</text>
<text x="426.80" y="534.30" font-size="10.0" text-anchor="end" fill="#4d4d4d" stroke="#4d4d4d">pSTAT3</text>
<text x="426.80" y="549.00" font-size="10.0" text-anchor="end" fill="#1c1c1c" stroke="#1c1c1c">STAT3</text>
<text x="426.80" y="563.75" font-size="10.0" text-anchor="end" fill="#1c1c1c" stroke="#1c1c1c">β-Actin</text>
<clipPath id="c59"><rect x="429.40" y="509.80" width="30.30" height="11.80"/></clipPath>
<rect x="429.40" y="509.80" width="30.30" height="11.80" fill="#eeeeee"/>
<g clip-path="url(#c59)"><g filter="url(#b1)">
<rect x="432.00" y="515.10" width="10.00" height="1.80" rx="0.90" fill="#0a0a0a" opacity="0.4"/>
<rect x="446.20" y="514.85" width="12.00" height="2.30" rx="1.15" fill="#0a0a0a" opacity="0.9"/>
</g></g>
<rect x="429.40" y="509.80" width="30.30" height="11.80" fill="none" stroke="#222" stroke-width="1.0"/>
<clipPath id="c60"><rect x="429.40" y="525.20" width="30.30" height="11.20"/></clipPath>
<rect x="429.40" y="525.20" width="30.30" height="11.20" fill="#e0e0e0"/>
<g clip-path="url(#c60)"><g filter="url(#b1)">
<rect x="431.25" y="529.30" width="11.50" height="3.00" rx="1.50" fill="#0a0a0a" opacity="0.55"/>
<rect x="445.95" y="529.10" width="12.50" height="3.40" rx="1.50" fill="#0a0a0a" opacity="0.8"/>
</g></g>
<rect x="429.40" y="525.20" width="30.30" height="11.20" fill="none" stroke="#222" stroke-width="1.0"/>
<clipPath id="c61"><rect x="429.40" y="539.80" width="30.30" height="11.40"/></clipPath>
<rect x="429.40" y="539.80" width="30.30" height="11.40" fill="#e4e4e4"/>
<g clip-path="url(#c61)"><g filter="url(#b1)">
<rect x="430.75" y="544.30" width="12.50" height="2.40" rx="1.20" fill="#0a0a0a" opacity="0.9"/>
<rect x="445.95" y="544.30" width="12.50" height="2.40" rx="1.20" fill="#0a0a0a" opacity="0.9"/>
<rect x="431.50" y="545.00" width="26.00" height="1.00" rx="0.50" fill="#0a0a0a" opacity="0.5"/>
</g></g>
<rect x="429.40" y="539.80" width="30.30" height="11.40" fill="none" stroke="#222" stroke-width="1.0"/>
<clipPath id="c62"><rect x="429.40" y="554.60" width="30.30" height="11.30"/></clipPath>
<rect x="429.40" y="554.60" width="30.30" height="11.30" fill="#ebebeb"/>
<g clip-path="url(#c62)"><g filter="url(#b1)">
<rect x="430.50" y="558.55" width="13.00" height="2.80" rx="1.40" fill="#0a0a0a" opacity="1.0"/>
<rect x="445.70" y="559.05" width="13.00" height="2.80" rx="1.40" fill="#0a0a0a" opacity="1.0"/>
<rect x="430.50" y="559.55" width="28.00" height="1.40" rx="0.70" fill="#0a0a0a" opacity="1.0"/>
</g></g>
<rect x="429.40" y="554.60" width="30.30" height="11.30" fill="none" stroke="#222" stroke-width="1.0"/>
</svg>
</body>
</html>
